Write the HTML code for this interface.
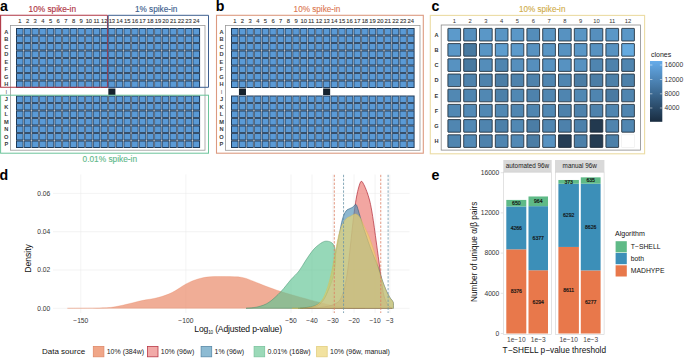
<!DOCTYPE html>
<html><head><meta charset="utf-8"><style>
html,body{margin:0;padding:0;background:#fff;}
svg{display:block;font-family:"Liberation Sans", sans-serif;}
</style></head><body>
<svg width="685" height="359" viewBox="0 0 685 359">
<rect width="685" height="359" fill="#fff"/>
<text x="-0.10" y="10.90" font-size="14.2" fill="#000" text-anchor="start" font-weight="bold" >a</text>
<text x="215.80" y="10.90" font-size="14.2" fill="#000" text-anchor="start" font-weight="bold" >b</text>
<text x="431.60" y="10.80" font-size="14.2" fill="#000" text-anchor="start" font-weight="bold" >c</text>
<text x="-0.50" y="179.50" font-size="14.2" fill="#000" text-anchor="start" font-weight="bold" >d</text>
<text x="431.60" y="179.70" font-size="14.2" fill="#000" text-anchor="start" font-weight="bold" >e</text>
<rect x="10.40" y="25.40" width="194.60" height="124.80" fill="#fff" stroke="#9a9a9a" stroke-width="0.8" />
<text x="19.84" y="22.80" font-size="5.8" fill="#333" text-anchor="middle" font-weight="normal" stroke="#333" stroke-width="0.1">1</text>
<text x="27.51" y="22.80" font-size="5.8" fill="#333" text-anchor="middle" font-weight="normal" stroke="#333" stroke-width="0.1">2</text>
<text x="35.17" y="22.80" font-size="5.8" fill="#333" text-anchor="middle" font-weight="normal" stroke="#333" stroke-width="0.1">3</text>
<text x="42.84" y="22.80" font-size="5.8" fill="#333" text-anchor="middle" font-weight="normal" stroke="#333" stroke-width="0.1">4</text>
<text x="50.52" y="22.80" font-size="5.8" fill="#333" text-anchor="middle" font-weight="normal" stroke="#333" stroke-width="0.1">5</text>
<text x="58.19" y="22.80" font-size="5.8" fill="#333" text-anchor="middle" font-weight="normal" stroke="#333" stroke-width="0.1">6</text>
<text x="65.85" y="22.80" font-size="5.8" fill="#333" text-anchor="middle" font-weight="normal" stroke="#333" stroke-width="0.1">7</text>
<text x="73.52" y="22.80" font-size="5.8" fill="#333" text-anchor="middle" font-weight="normal" stroke="#333" stroke-width="0.1">8</text>
<text x="81.19" y="22.80" font-size="5.8" fill="#333" text-anchor="middle" font-weight="normal" stroke="#333" stroke-width="0.1">9</text>
<text x="88.86" y="22.80" font-size="5.8" fill="#333" text-anchor="middle" font-weight="normal" stroke="#333" stroke-width="0.1">10</text>
<text x="96.53" y="22.80" font-size="5.8" fill="#333" text-anchor="middle" font-weight="normal" stroke="#333" stroke-width="0.1">11</text>
<text x="104.20" y="22.80" font-size="5.8" fill="#333" text-anchor="middle" font-weight="normal" stroke="#333" stroke-width="0.1">12</text>
<text x="111.87" y="22.80" font-size="5.8" fill="#333" text-anchor="middle" font-weight="normal" stroke="#333" stroke-width="0.1">13</text>
<text x="119.54" y="22.80" font-size="5.8" fill="#333" text-anchor="middle" font-weight="normal" stroke="#333" stroke-width="0.1">14</text>
<text x="127.21" y="22.80" font-size="5.8" fill="#333" text-anchor="middle" font-weight="normal" stroke="#333" stroke-width="0.1">15</text>
<text x="134.89" y="22.80" font-size="5.8" fill="#333" text-anchor="middle" font-weight="normal" stroke="#333" stroke-width="0.1">16</text>
<text x="142.56" y="22.80" font-size="5.8" fill="#333" text-anchor="middle" font-weight="normal" stroke="#333" stroke-width="0.1">17</text>
<text x="150.22" y="22.80" font-size="5.8" fill="#333" text-anchor="middle" font-weight="normal" stroke="#333" stroke-width="0.1">18</text>
<text x="157.90" y="22.80" font-size="5.8" fill="#333" text-anchor="middle" font-weight="normal" stroke="#333" stroke-width="0.1">19</text>
<text x="165.56" y="22.80" font-size="5.8" fill="#333" text-anchor="middle" font-weight="normal" stroke="#333" stroke-width="0.1">20</text>
<text x="173.24" y="22.80" font-size="5.8" fill="#333" text-anchor="middle" font-weight="normal" stroke="#333" stroke-width="0.1">21</text>
<text x="180.91" y="22.80" font-size="5.8" fill="#333" text-anchor="middle" font-weight="normal" stroke="#333" stroke-width="0.1">22</text>
<text x="188.58" y="22.80" font-size="5.8" fill="#333" text-anchor="middle" font-weight="normal" stroke="#333" stroke-width="0.1">23</text>
<text x="196.25" y="22.80" font-size="5.8" fill="#333" text-anchor="middle" font-weight="normal" stroke="#333" stroke-width="0.1">24</text>
<text x="6.30" y="33.75" font-size="5.7" fill="#3a3a3a" text-anchor="middle" font-weight="bold" >A</text>
<text x="6.30" y="41.25" font-size="5.7" fill="#3a3a3a" text-anchor="middle" font-weight="bold" >B</text>
<text x="6.30" y="48.75" font-size="5.7" fill="#3a3a3a" text-anchor="middle" font-weight="bold" >C</text>
<text x="6.30" y="56.25" font-size="5.7" fill="#3a3a3a" text-anchor="middle" font-weight="bold" >D</text>
<text x="6.30" y="63.75" font-size="5.7" fill="#3a3a3a" text-anchor="middle" font-weight="bold" >E</text>
<text x="6.30" y="71.25" font-size="5.7" fill="#3a3a3a" text-anchor="middle" font-weight="bold" >F</text>
<text x="6.30" y="78.75" font-size="5.7" fill="#3a3a3a" text-anchor="middle" font-weight="bold" >G</text>
<text x="6.30" y="86.25" font-size="5.7" fill="#3a3a3a" text-anchor="middle" font-weight="bold" >H</text>
<text x="6.30" y="93.75" font-size="5.7" fill="#555555" text-anchor="middle" font-weight="normal" >I</text>
<text x="6.30" y="101.25" font-size="5.7" fill="#3a3a3a" text-anchor="middle" font-weight="bold" >J</text>
<text x="6.30" y="108.75" font-size="5.7" fill="#3a3a3a" text-anchor="middle" font-weight="bold" >K</text>
<text x="6.30" y="116.25" font-size="5.7" fill="#3a3a3a" text-anchor="middle" font-weight="bold" >L</text>
<text x="6.30" y="123.75" font-size="5.7" fill="#3a3a3a" text-anchor="middle" font-weight="bold" >M</text>
<text x="6.30" y="131.25" font-size="5.7" fill="#3a3a3a" text-anchor="middle" font-weight="bold" >N</text>
<text x="6.30" y="138.75" font-size="5.7" fill="#3a3a3a" text-anchor="middle" font-weight="bold" >O</text>
<text x="6.30" y="146.25" font-size="5.7" fill="#3a3a3a" text-anchor="middle" font-weight="bold" >P</text>
<rect x="16.00" y="28.00" width="184.08" height="60.00" fill="#203b58" stroke="none" stroke-width="1" />
<line x1="23.67" y1="28.00" x2="23.67" y2="88.00" stroke="#d0d7de" stroke-width="0.65" />
<line x1="31.34" y1="28.00" x2="31.34" y2="88.00" stroke="#d0d7de" stroke-width="0.65" />
<line x1="39.01" y1="28.00" x2="39.01" y2="88.00" stroke="#d0d7de" stroke-width="0.65" />
<line x1="46.68" y1="28.00" x2="46.68" y2="88.00" stroke="#d0d7de" stroke-width="0.65" />
<line x1="54.35" y1="28.00" x2="54.35" y2="88.00" stroke="#d0d7de" stroke-width="0.65" />
<line x1="62.02" y1="28.00" x2="62.02" y2="88.00" stroke="#d0d7de" stroke-width="0.65" />
<line x1="69.69" y1="28.00" x2="69.69" y2="88.00" stroke="#d0d7de" stroke-width="0.65" />
<line x1="77.36" y1="28.00" x2="77.36" y2="88.00" stroke="#d0d7de" stroke-width="0.65" />
<line x1="85.03" y1="28.00" x2="85.03" y2="88.00" stroke="#d0d7de" stroke-width="0.65" />
<line x1="92.70" y1="28.00" x2="92.70" y2="88.00" stroke="#d0d7de" stroke-width="0.65" />
<line x1="100.37" y1="28.00" x2="100.37" y2="88.00" stroke="#d0d7de" stroke-width="0.65" />
<line x1="108.04" y1="28.00" x2="108.04" y2="88.00" stroke="#d0d7de" stroke-width="0.65" />
<line x1="115.71" y1="28.00" x2="115.71" y2="88.00" stroke="#d0d7de" stroke-width="0.65" />
<line x1="123.38" y1="28.00" x2="123.38" y2="88.00" stroke="#d0d7de" stroke-width="0.65" />
<line x1="131.05" y1="28.00" x2="131.05" y2="88.00" stroke="#d0d7de" stroke-width="0.65" />
<line x1="138.72" y1="28.00" x2="138.72" y2="88.00" stroke="#d0d7de" stroke-width="0.65" />
<line x1="146.39" y1="28.00" x2="146.39" y2="88.00" stroke="#d0d7de" stroke-width="0.65" />
<line x1="154.06" y1="28.00" x2="154.06" y2="88.00" stroke="#d0d7de" stroke-width="0.65" />
<line x1="161.73" y1="28.00" x2="161.73" y2="88.00" stroke="#d0d7de" stroke-width="0.65" />
<line x1="169.40" y1="28.00" x2="169.40" y2="88.00" stroke="#d0d7de" stroke-width="0.65" />
<line x1="177.07" y1="28.00" x2="177.07" y2="88.00" stroke="#d0d7de" stroke-width="0.65" />
<line x1="184.74" y1="28.00" x2="184.74" y2="88.00" stroke="#d0d7de" stroke-width="0.65" />
<line x1="192.41" y1="28.00" x2="192.41" y2="88.00" stroke="#d0d7de" stroke-width="0.65" />
<line x1="16.00" y1="35.50" x2="200.08" y2="35.50" stroke="#8d9aaa" stroke-width="0.45" />
<line x1="16.00" y1="43.00" x2="200.08" y2="43.00" stroke="#8d9aaa" stroke-width="0.45" />
<line x1="16.00" y1="50.50" x2="200.08" y2="50.50" stroke="#8d9aaa" stroke-width="0.45" />
<line x1="16.00" y1="58.00" x2="200.08" y2="58.00" stroke="#8d9aaa" stroke-width="0.45" />
<line x1="16.00" y1="65.50" x2="200.08" y2="65.50" stroke="#8d9aaa" stroke-width="0.45" />
<line x1="16.00" y1="73.00" x2="200.08" y2="73.00" stroke="#8d9aaa" stroke-width="0.45" />
<line x1="16.00" y1="80.50" x2="200.08" y2="80.50" stroke="#8d9aaa" stroke-width="0.45" />
<rect x="17.00" y="29.00" width="5.67" height="5.50" fill="#5a9ad6" stroke="none" stroke-width="1" />
<rect x="24.67" y="29.00" width="5.67" height="5.50" fill="#5a9ad6" stroke="none" stroke-width="1" />
<rect x="32.34" y="29.00" width="5.67" height="5.50" fill="#5a9ad6" stroke="none" stroke-width="1" />
<rect x="40.01" y="29.00" width="5.67" height="5.50" fill="#5a9ad6" stroke="none" stroke-width="1" />
<rect x="47.68" y="29.00" width="5.67" height="5.50" fill="#5a9ad6" stroke="none" stroke-width="1" />
<rect x="55.35" y="29.00" width="5.67" height="5.50" fill="#5a9ad6" stroke="none" stroke-width="1" />
<rect x="63.02" y="29.00" width="5.67" height="5.50" fill="#5a9ad6" stroke="none" stroke-width="1" />
<rect x="70.69" y="29.00" width="5.67" height="5.50" fill="#5a9ad6" stroke="none" stroke-width="1" />
<rect x="78.36" y="29.00" width="5.67" height="5.50" fill="#5a9ad6" stroke="none" stroke-width="1" />
<rect x="86.03" y="29.00" width="5.67" height="5.50" fill="#5a9ad6" stroke="none" stroke-width="1" />
<rect x="93.70" y="29.00" width="5.67" height="5.50" fill="#5a9ad6" stroke="none" stroke-width="1" />
<rect x="101.37" y="29.00" width="5.67" height="5.50" fill="#5a9ad6" stroke="none" stroke-width="1" />
<rect x="109.04" y="29.00" width="5.67" height="5.50" fill="#5a9ad6" stroke="none" stroke-width="1" />
<rect x="116.71" y="29.00" width="5.67" height="5.50" fill="#5a9ad6" stroke="none" stroke-width="1" />
<rect x="124.38" y="29.00" width="5.67" height="5.50" fill="#5a9ad6" stroke="none" stroke-width="1" />
<rect x="132.05" y="29.00" width="5.67" height="5.50" fill="#5a9ad6" stroke="none" stroke-width="1" />
<rect x="139.72" y="29.00" width="5.67" height="5.50" fill="#5a9ad6" stroke="none" stroke-width="1" />
<rect x="147.39" y="29.00" width="5.67" height="5.50" fill="#5a9ad6" stroke="none" stroke-width="1" />
<rect x="155.06" y="29.00" width="5.67" height="5.50" fill="#5a9ad6" stroke="none" stroke-width="1" />
<rect x="162.73" y="29.00" width="5.67" height="5.50" fill="#5a9ad6" stroke="none" stroke-width="1" />
<rect x="170.40" y="29.00" width="5.67" height="5.50" fill="#5a9ad6" stroke="none" stroke-width="1" />
<rect x="178.07" y="29.00" width="5.67" height="5.50" fill="#5a9ad6" stroke="none" stroke-width="1" />
<rect x="185.74" y="29.00" width="5.67" height="5.50" fill="#5a9ad6" stroke="none" stroke-width="1" />
<rect x="193.41" y="29.00" width="5.67" height="5.50" fill="#5a9ad6" stroke="none" stroke-width="1" />
<rect x="17.00" y="36.50" width="5.67" height="5.50" fill="#5a9ad6" stroke="none" stroke-width="1" />
<rect x="24.67" y="36.50" width="5.67" height="5.50" fill="#5a9ad6" stroke="none" stroke-width="1" />
<rect x="32.34" y="36.50" width="5.67" height="5.50" fill="#5a9ad6" stroke="none" stroke-width="1" />
<rect x="40.01" y="36.50" width="5.67" height="5.50" fill="#5a9ad6" stroke="none" stroke-width="1" />
<rect x="47.68" y="36.50" width="5.67" height="5.50" fill="#5a9ad6" stroke="none" stroke-width="1" />
<rect x="55.35" y="36.50" width="5.67" height="5.50" fill="#5a9ad6" stroke="none" stroke-width="1" />
<rect x="63.02" y="36.50" width="5.67" height="5.50" fill="#5a9ad6" stroke="none" stroke-width="1" />
<rect x="70.69" y="36.50" width="5.67" height="5.50" fill="#5a9ad6" stroke="none" stroke-width="1" />
<rect x="78.36" y="36.50" width="5.67" height="5.50" fill="#5a9ad6" stroke="none" stroke-width="1" />
<rect x="86.03" y="36.50" width="5.67" height="5.50" fill="#5a9ad6" stroke="none" stroke-width="1" />
<rect x="93.70" y="36.50" width="5.67" height="5.50" fill="#5a9ad6" stroke="none" stroke-width="1" />
<rect x="101.37" y="36.50" width="5.67" height="5.50" fill="#5a9ad6" stroke="none" stroke-width="1" />
<rect x="109.04" y="36.50" width="5.67" height="5.50" fill="#5a9ad6" stroke="none" stroke-width="1" />
<rect x="116.71" y="36.50" width="5.67" height="5.50" fill="#5a9ad6" stroke="none" stroke-width="1" />
<rect x="124.38" y="36.50" width="5.67" height="5.50" fill="#5a9ad6" stroke="none" stroke-width="1" />
<rect x="132.05" y="36.50" width="5.67" height="5.50" fill="#5a9ad6" stroke="none" stroke-width="1" />
<rect x="139.72" y="36.50" width="5.67" height="5.50" fill="#5a9ad6" stroke="none" stroke-width="1" />
<rect x="147.39" y="36.50" width="5.67" height="5.50" fill="#5a9ad6" stroke="none" stroke-width="1" />
<rect x="155.06" y="36.50" width="5.67" height="5.50" fill="#5a9ad6" stroke="none" stroke-width="1" />
<rect x="162.73" y="36.50" width="5.67" height="5.50" fill="#5a9ad6" stroke="none" stroke-width="1" />
<rect x="170.40" y="36.50" width="5.67" height="5.50" fill="#5a9ad6" stroke="none" stroke-width="1" />
<rect x="178.07" y="36.50" width="5.67" height="5.50" fill="#5a9ad6" stroke="none" stroke-width="1" />
<rect x="185.74" y="36.50" width="5.67" height="5.50" fill="#5a9ad6" stroke="none" stroke-width="1" />
<rect x="193.41" y="36.50" width="5.67" height="5.50" fill="#5a9ad6" stroke="none" stroke-width="1" />
<rect x="17.00" y="44.00" width="5.67" height="5.50" fill="#5a9ad6" stroke="none" stroke-width="1" />
<rect x="24.67" y="44.00" width="5.67" height="5.50" fill="#5a9ad6" stroke="none" stroke-width="1" />
<rect x="32.34" y="44.00" width="5.67" height="5.50" fill="#5a9ad6" stroke="none" stroke-width="1" />
<rect x="40.01" y="44.00" width="5.67" height="5.50" fill="#5a9ad6" stroke="none" stroke-width="1" />
<rect x="47.68" y="44.00" width="5.67" height="5.50" fill="#5a9ad6" stroke="none" stroke-width="1" />
<rect x="55.35" y="44.00" width="5.67" height="5.50" fill="#5a9ad6" stroke="none" stroke-width="1" />
<rect x="63.02" y="44.00" width="5.67" height="5.50" fill="#5a9ad6" stroke="none" stroke-width="1" />
<rect x="70.69" y="44.00" width="5.67" height="5.50" fill="#5a9ad6" stroke="none" stroke-width="1" />
<rect x="78.36" y="44.00" width="5.67" height="5.50" fill="#5a9ad6" stroke="none" stroke-width="1" />
<rect x="86.03" y="44.00" width="5.67" height="5.50" fill="#5a9ad6" stroke="none" stroke-width="1" />
<rect x="93.70" y="44.00" width="5.67" height="5.50" fill="#5a9ad6" stroke="none" stroke-width="1" />
<rect x="101.37" y="44.00" width="5.67" height="5.50" fill="#5a9ad6" stroke="none" stroke-width="1" />
<rect x="109.04" y="44.00" width="5.67" height="5.50" fill="#5a9ad6" stroke="none" stroke-width="1" />
<rect x="116.71" y="44.00" width="5.67" height="5.50" fill="#5a9ad6" stroke="none" stroke-width="1" />
<rect x="124.38" y="44.00" width="5.67" height="5.50" fill="#5a9ad6" stroke="none" stroke-width="1" />
<rect x="132.05" y="44.00" width="5.67" height="5.50" fill="#5a9ad6" stroke="none" stroke-width="1" />
<rect x="139.72" y="44.00" width="5.67" height="5.50" fill="#5a9ad6" stroke="none" stroke-width="1" />
<rect x="147.39" y="44.00" width="5.67" height="5.50" fill="#5a9ad6" stroke="none" stroke-width="1" />
<rect x="155.06" y="44.00" width="5.67" height="5.50" fill="#5a9ad6" stroke="none" stroke-width="1" />
<rect x="162.73" y="44.00" width="5.67" height="5.50" fill="#5a9ad6" stroke="none" stroke-width="1" />
<rect x="170.40" y="44.00" width="5.67" height="5.50" fill="#5a9ad6" stroke="none" stroke-width="1" />
<rect x="178.07" y="44.00" width="5.67" height="5.50" fill="#5a9ad6" stroke="none" stroke-width="1" />
<rect x="185.74" y="44.00" width="5.67" height="5.50" fill="#5a9ad6" stroke="none" stroke-width="1" />
<rect x="193.41" y="44.00" width="5.67" height="5.50" fill="#5a9ad6" stroke="none" stroke-width="1" />
<rect x="17.00" y="51.50" width="5.67" height="5.50" fill="#5a9ad6" stroke="none" stroke-width="1" />
<rect x="24.67" y="51.50" width="5.67" height="5.50" fill="#5a9ad6" stroke="none" stroke-width="1" />
<rect x="32.34" y="51.50" width="5.67" height="5.50" fill="#5a9ad6" stroke="none" stroke-width="1" />
<rect x="40.01" y="51.50" width="5.67" height="5.50" fill="#5a9ad6" stroke="none" stroke-width="1" />
<rect x="47.68" y="51.50" width="5.67" height="5.50" fill="#5a9ad6" stroke="none" stroke-width="1" />
<rect x="55.35" y="51.50" width="5.67" height="5.50" fill="#5a9ad6" stroke="none" stroke-width="1" />
<rect x="63.02" y="51.50" width="5.67" height="5.50" fill="#5a9ad6" stroke="none" stroke-width="1" />
<rect x="70.69" y="51.50" width="5.67" height="5.50" fill="#5a9ad6" stroke="none" stroke-width="1" />
<rect x="78.36" y="51.50" width="5.67" height="5.50" fill="#5a9ad6" stroke="none" stroke-width="1" />
<rect x="86.03" y="51.50" width="5.67" height="5.50" fill="#5a9ad6" stroke="none" stroke-width="1" />
<rect x="93.70" y="51.50" width="5.67" height="5.50" fill="#5a9ad6" stroke="none" stroke-width="1" />
<rect x="101.37" y="51.50" width="5.67" height="5.50" fill="#5a9ad6" stroke="none" stroke-width="1" />
<rect x="109.04" y="51.50" width="5.67" height="5.50" fill="#5a9ad6" stroke="none" stroke-width="1" />
<rect x="116.71" y="51.50" width="5.67" height="5.50" fill="#5a9ad6" stroke="none" stroke-width="1" />
<rect x="124.38" y="51.50" width="5.67" height="5.50" fill="#5a9ad6" stroke="none" stroke-width="1" />
<rect x="132.05" y="51.50" width="5.67" height="5.50" fill="#5a9ad6" stroke="none" stroke-width="1" />
<rect x="139.72" y="51.50" width="5.67" height="5.50" fill="#5a9ad6" stroke="none" stroke-width="1" />
<rect x="147.39" y="51.50" width="5.67" height="5.50" fill="#5a9ad6" stroke="none" stroke-width="1" />
<rect x="155.06" y="51.50" width="5.67" height="5.50" fill="#5a9ad6" stroke="none" stroke-width="1" />
<rect x="162.73" y="51.50" width="5.67" height="5.50" fill="#5a9ad6" stroke="none" stroke-width="1" />
<rect x="170.40" y="51.50" width="5.67" height="5.50" fill="#5a9ad6" stroke="none" stroke-width="1" />
<rect x="178.07" y="51.50" width="5.67" height="5.50" fill="#5a9ad6" stroke="none" stroke-width="1" />
<rect x="185.74" y="51.50" width="5.67" height="5.50" fill="#5a9ad6" stroke="none" stroke-width="1" />
<rect x="193.41" y="51.50" width="5.67" height="5.50" fill="#5a9ad6" stroke="none" stroke-width="1" />
<rect x="17.00" y="59.00" width="5.67" height="5.50" fill="#5a9ad6" stroke="none" stroke-width="1" />
<rect x="24.67" y="59.00" width="5.67" height="5.50" fill="#5a9ad6" stroke="none" stroke-width="1" />
<rect x="32.34" y="59.00" width="5.67" height="5.50" fill="#5a9ad6" stroke="none" stroke-width="1" />
<rect x="40.01" y="59.00" width="5.67" height="5.50" fill="#5a9ad6" stroke="none" stroke-width="1" />
<rect x="47.68" y="59.00" width="5.67" height="5.50" fill="#5a9ad6" stroke="none" stroke-width="1" />
<rect x="55.35" y="59.00" width="5.67" height="5.50" fill="#5a9ad6" stroke="none" stroke-width="1" />
<rect x="63.02" y="59.00" width="5.67" height="5.50" fill="#5a9ad6" stroke="none" stroke-width="1" />
<rect x="70.69" y="59.00" width="5.67" height="5.50" fill="#5a9ad6" stroke="none" stroke-width="1" />
<rect x="78.36" y="59.00" width="5.67" height="5.50" fill="#5a9ad6" stroke="none" stroke-width="1" />
<rect x="86.03" y="59.00" width="5.67" height="5.50" fill="#5a9ad6" stroke="none" stroke-width="1" />
<rect x="93.70" y="59.00" width="5.67" height="5.50" fill="#5a9ad6" stroke="none" stroke-width="1" />
<rect x="101.37" y="59.00" width="5.67" height="5.50" fill="#5a9ad6" stroke="none" stroke-width="1" />
<rect x="109.04" y="59.00" width="5.67" height="5.50" fill="#5a9ad6" stroke="none" stroke-width="1" />
<rect x="116.71" y="59.00" width="5.67" height="5.50" fill="#5a9ad6" stroke="none" stroke-width="1" />
<rect x="124.38" y="59.00" width="5.67" height="5.50" fill="#5a9ad6" stroke="none" stroke-width="1" />
<rect x="132.05" y="59.00" width="5.67" height="5.50" fill="#5a9ad6" stroke="none" stroke-width="1" />
<rect x="139.72" y="59.00" width="5.67" height="5.50" fill="#5a9ad6" stroke="none" stroke-width="1" />
<rect x="147.39" y="59.00" width="5.67" height="5.50" fill="#5a9ad6" stroke="none" stroke-width="1" />
<rect x="155.06" y="59.00" width="5.67" height="5.50" fill="#5a9ad6" stroke="none" stroke-width="1" />
<rect x="162.73" y="59.00" width="5.67" height="5.50" fill="#5a9ad6" stroke="none" stroke-width="1" />
<rect x="170.40" y="59.00" width="5.67" height="5.50" fill="#5a9ad6" stroke="none" stroke-width="1" />
<rect x="178.07" y="59.00" width="5.67" height="5.50" fill="#5a9ad6" stroke="none" stroke-width="1" />
<rect x="185.74" y="59.00" width="5.67" height="5.50" fill="#5a9ad6" stroke="none" stroke-width="1" />
<rect x="193.41" y="59.00" width="5.67" height="5.50" fill="#5a9ad6" stroke="none" stroke-width="1" />
<rect x="17.00" y="66.50" width="5.67" height="5.50" fill="#5a9ad6" stroke="none" stroke-width="1" />
<rect x="24.67" y="66.50" width="5.67" height="5.50" fill="#5a9ad6" stroke="none" stroke-width="1" />
<rect x="32.34" y="66.50" width="5.67" height="5.50" fill="#5a9ad6" stroke="none" stroke-width="1" />
<rect x="40.01" y="66.50" width="5.67" height="5.50" fill="#5a9ad6" stroke="none" stroke-width="1" />
<rect x="47.68" y="66.50" width="5.67" height="5.50" fill="#5a9ad6" stroke="none" stroke-width="1" />
<rect x="55.35" y="66.50" width="5.67" height="5.50" fill="#5a9ad6" stroke="none" stroke-width="1" />
<rect x="63.02" y="66.50" width="5.67" height="5.50" fill="#5a9ad6" stroke="none" stroke-width="1" />
<rect x="70.69" y="66.50" width="5.67" height="5.50" fill="#5a9ad6" stroke="none" stroke-width="1" />
<rect x="78.36" y="66.50" width="5.67" height="5.50" fill="#5a9ad6" stroke="none" stroke-width="1" />
<rect x="86.03" y="66.50" width="5.67" height="5.50" fill="#5a9ad6" stroke="none" stroke-width="1" />
<rect x="93.70" y="66.50" width="5.67" height="5.50" fill="#5a9ad6" stroke="none" stroke-width="1" />
<rect x="101.37" y="66.50" width="5.67" height="5.50" fill="#5a9ad6" stroke="none" stroke-width="1" />
<rect x="109.04" y="66.50" width="5.67" height="5.50" fill="#5a9ad6" stroke="none" stroke-width="1" />
<rect x="116.71" y="66.50" width="5.67" height="5.50" fill="#5a9ad6" stroke="none" stroke-width="1" />
<rect x="124.38" y="66.50" width="5.67" height="5.50" fill="#5a9ad6" stroke="none" stroke-width="1" />
<rect x="132.05" y="66.50" width="5.67" height="5.50" fill="#5a9ad6" stroke="none" stroke-width="1" />
<rect x="139.72" y="66.50" width="5.67" height="5.50" fill="#5a9ad6" stroke="none" stroke-width="1" />
<rect x="147.39" y="66.50" width="5.67" height="5.50" fill="#5a9ad6" stroke="none" stroke-width="1" />
<rect x="155.06" y="66.50" width="5.67" height="5.50" fill="#5a9ad6" stroke="none" stroke-width="1" />
<rect x="162.73" y="66.50" width="5.67" height="5.50" fill="#5a9ad6" stroke="none" stroke-width="1" />
<rect x="170.40" y="66.50" width="5.67" height="5.50" fill="#5a9ad6" stroke="none" stroke-width="1" />
<rect x="178.07" y="66.50" width="5.67" height="5.50" fill="#5a9ad6" stroke="none" stroke-width="1" />
<rect x="185.74" y="66.50" width="5.67" height="5.50" fill="#5a9ad6" stroke="none" stroke-width="1" />
<rect x="193.41" y="66.50" width="5.67" height="5.50" fill="#5a9ad6" stroke="none" stroke-width="1" />
<rect x="17.00" y="74.00" width="5.67" height="5.50" fill="#5a9ad6" stroke="none" stroke-width="1" />
<rect x="24.67" y="74.00" width="5.67" height="5.50" fill="#5a9ad6" stroke="none" stroke-width="1" />
<rect x="32.34" y="74.00" width="5.67" height="5.50" fill="#5a9ad6" stroke="none" stroke-width="1" />
<rect x="40.01" y="74.00" width="5.67" height="5.50" fill="#5a9ad6" stroke="none" stroke-width="1" />
<rect x="47.68" y="74.00" width="5.67" height="5.50" fill="#5a9ad6" stroke="none" stroke-width="1" />
<rect x="55.35" y="74.00" width="5.67" height="5.50" fill="#5a9ad6" stroke="none" stroke-width="1" />
<rect x="63.02" y="74.00" width="5.67" height="5.50" fill="#5a9ad6" stroke="none" stroke-width="1" />
<rect x="70.69" y="74.00" width="5.67" height="5.50" fill="#5a9ad6" stroke="none" stroke-width="1" />
<rect x="78.36" y="74.00" width="5.67" height="5.50" fill="#5a9ad6" stroke="none" stroke-width="1" />
<rect x="86.03" y="74.00" width="5.67" height="5.50" fill="#5a9ad6" stroke="none" stroke-width="1" />
<rect x="93.70" y="74.00" width="5.67" height="5.50" fill="#5a9ad6" stroke="none" stroke-width="1" />
<rect x="101.37" y="74.00" width="5.67" height="5.50" fill="#5a9ad6" stroke="none" stroke-width="1" />
<rect x="109.04" y="74.00" width="5.67" height="5.50" fill="#5a9ad6" stroke="none" stroke-width="1" />
<rect x="116.71" y="74.00" width="5.67" height="5.50" fill="#5a9ad6" stroke="none" stroke-width="1" />
<rect x="124.38" y="74.00" width="5.67" height="5.50" fill="#5a9ad6" stroke="none" stroke-width="1" />
<rect x="132.05" y="74.00" width="5.67" height="5.50" fill="#5a9ad6" stroke="none" stroke-width="1" />
<rect x="139.72" y="74.00" width="5.67" height="5.50" fill="#5a9ad6" stroke="none" stroke-width="1" />
<rect x="147.39" y="74.00" width="5.67" height="5.50" fill="#5a9ad6" stroke="none" stroke-width="1" />
<rect x="155.06" y="74.00" width="5.67" height="5.50" fill="#5a9ad6" stroke="none" stroke-width="1" />
<rect x="162.73" y="74.00" width="5.67" height="5.50" fill="#5a9ad6" stroke="none" stroke-width="1" />
<rect x="170.40" y="74.00" width="5.67" height="5.50" fill="#5a9ad6" stroke="none" stroke-width="1" />
<rect x="178.07" y="74.00" width="5.67" height="5.50" fill="#5a9ad6" stroke="none" stroke-width="1" />
<rect x="185.74" y="74.00" width="5.67" height="5.50" fill="#5a9ad6" stroke="none" stroke-width="1" />
<rect x="193.41" y="74.00" width="5.67" height="5.50" fill="#5a9ad6" stroke="none" stroke-width="1" />
<rect x="17.00" y="81.50" width="5.67" height="5.50" fill="#5a9ad6" stroke="none" stroke-width="1" />
<rect x="24.67" y="81.50" width="5.67" height="5.50" fill="#5a9ad6" stroke="none" stroke-width="1" />
<rect x="32.34" y="81.50" width="5.67" height="5.50" fill="#5a9ad6" stroke="none" stroke-width="1" />
<rect x="40.01" y="81.50" width="5.67" height="5.50" fill="#5a9ad6" stroke="none" stroke-width="1" />
<rect x="47.68" y="81.50" width="5.67" height="5.50" fill="#5a9ad6" stroke="none" stroke-width="1" />
<rect x="55.35" y="81.50" width="5.67" height="5.50" fill="#5a9ad6" stroke="none" stroke-width="1" />
<rect x="63.02" y="81.50" width="5.67" height="5.50" fill="#5a9ad6" stroke="none" stroke-width="1" />
<rect x="70.69" y="81.50" width="5.67" height="5.50" fill="#5a9ad6" stroke="none" stroke-width="1" />
<rect x="78.36" y="81.50" width="5.67" height="5.50" fill="#5a9ad6" stroke="none" stroke-width="1" />
<rect x="86.03" y="81.50" width="5.67" height="5.50" fill="#5a9ad6" stroke="none" stroke-width="1" />
<rect x="93.70" y="81.50" width="5.67" height="5.50" fill="#5a9ad6" stroke="none" stroke-width="1" />
<rect x="101.37" y="81.50" width="5.67" height="5.50" fill="#5a9ad6" stroke="none" stroke-width="1" />
<rect x="109.04" y="81.50" width="5.67" height="5.50" fill="#5a9ad6" stroke="none" stroke-width="1" />
<rect x="116.71" y="81.50" width="5.67" height="5.50" fill="#5a9ad6" stroke="none" stroke-width="1" />
<rect x="124.38" y="81.50" width="5.67" height="5.50" fill="#5a9ad6" stroke="none" stroke-width="1" />
<rect x="132.05" y="81.50" width="5.67" height="5.50" fill="#5a9ad6" stroke="none" stroke-width="1" />
<rect x="139.72" y="81.50" width="5.67" height="5.50" fill="#5a9ad6" stroke="none" stroke-width="1" />
<rect x="147.39" y="81.50" width="5.67" height="5.50" fill="#5a9ad6" stroke="none" stroke-width="1" />
<rect x="155.06" y="81.50" width="5.67" height="5.50" fill="#5a9ad6" stroke="none" stroke-width="1" />
<rect x="162.73" y="81.50" width="5.67" height="5.50" fill="#5a9ad6" stroke="none" stroke-width="1" />
<rect x="170.40" y="81.50" width="5.67" height="5.50" fill="#5a9ad6" stroke="none" stroke-width="1" />
<rect x="178.07" y="81.50" width="5.67" height="5.50" fill="#5a9ad6" stroke="none" stroke-width="1" />
<rect x="185.74" y="81.50" width="5.67" height="5.50" fill="#5a9ad6" stroke="none" stroke-width="1" />
<rect x="193.41" y="81.50" width="5.67" height="5.50" fill="#5a9ad6" stroke="none" stroke-width="1" />
<circle cx="23.67" cy="35.50" r="0.45" fill="#f4f4f4"/>
<circle cx="31.34" cy="35.50" r="0.45" fill="#f4f4f4"/>
<circle cx="39.01" cy="35.50" r="0.45" fill="#f4f4f4"/>
<circle cx="46.68" cy="35.50" r="0.45" fill="#f4f4f4"/>
<circle cx="54.35" cy="35.50" r="0.45" fill="#f4f4f4"/>
<circle cx="62.02" cy="35.50" r="0.45" fill="#f4f4f4"/>
<circle cx="69.69" cy="35.50" r="0.45" fill="#f4f4f4"/>
<circle cx="77.36" cy="35.50" r="0.45" fill="#f4f4f4"/>
<circle cx="85.03" cy="35.50" r="0.45" fill="#f4f4f4"/>
<circle cx="92.70" cy="35.50" r="0.45" fill="#f4f4f4"/>
<circle cx="100.37" cy="35.50" r="0.45" fill="#f4f4f4"/>
<circle cx="108.04" cy="35.50" r="0.45" fill="#f4f4f4"/>
<circle cx="115.71" cy="35.50" r="0.45" fill="#f4f4f4"/>
<circle cx="123.38" cy="35.50" r="0.45" fill="#f4f4f4"/>
<circle cx="131.05" cy="35.50" r="0.45" fill="#f4f4f4"/>
<circle cx="138.72" cy="35.50" r="0.45" fill="#f4f4f4"/>
<circle cx="146.39" cy="35.50" r="0.45" fill="#f4f4f4"/>
<circle cx="154.06" cy="35.50" r="0.45" fill="#f4f4f4"/>
<circle cx="161.73" cy="35.50" r="0.45" fill="#f4f4f4"/>
<circle cx="169.40" cy="35.50" r="0.45" fill="#f4f4f4"/>
<circle cx="177.07" cy="35.50" r="0.45" fill="#f4f4f4"/>
<circle cx="184.74" cy="35.50" r="0.45" fill="#f4f4f4"/>
<circle cx="192.41" cy="35.50" r="0.45" fill="#f4f4f4"/>
<circle cx="23.67" cy="43.00" r="0.45" fill="#f4f4f4"/>
<circle cx="31.34" cy="43.00" r="0.45" fill="#f4f4f4"/>
<circle cx="39.01" cy="43.00" r="0.45" fill="#f4f4f4"/>
<circle cx="46.68" cy="43.00" r="0.45" fill="#f4f4f4"/>
<circle cx="54.35" cy="43.00" r="0.45" fill="#f4f4f4"/>
<circle cx="62.02" cy="43.00" r="0.45" fill="#f4f4f4"/>
<circle cx="69.69" cy="43.00" r="0.45" fill="#f4f4f4"/>
<circle cx="77.36" cy="43.00" r="0.45" fill="#f4f4f4"/>
<circle cx="85.03" cy="43.00" r="0.45" fill="#f4f4f4"/>
<circle cx="92.70" cy="43.00" r="0.45" fill="#f4f4f4"/>
<circle cx="100.37" cy="43.00" r="0.45" fill="#f4f4f4"/>
<circle cx="108.04" cy="43.00" r="0.45" fill="#f4f4f4"/>
<circle cx="115.71" cy="43.00" r="0.45" fill="#f4f4f4"/>
<circle cx="123.38" cy="43.00" r="0.45" fill="#f4f4f4"/>
<circle cx="131.05" cy="43.00" r="0.45" fill="#f4f4f4"/>
<circle cx="138.72" cy="43.00" r="0.45" fill="#f4f4f4"/>
<circle cx="146.39" cy="43.00" r="0.45" fill="#f4f4f4"/>
<circle cx="154.06" cy="43.00" r="0.45" fill="#f4f4f4"/>
<circle cx="161.73" cy="43.00" r="0.45" fill="#f4f4f4"/>
<circle cx="169.40" cy="43.00" r="0.45" fill="#f4f4f4"/>
<circle cx="177.07" cy="43.00" r="0.45" fill="#f4f4f4"/>
<circle cx="184.74" cy="43.00" r="0.45" fill="#f4f4f4"/>
<circle cx="192.41" cy="43.00" r="0.45" fill="#f4f4f4"/>
<circle cx="23.67" cy="50.50" r="0.45" fill="#f4f4f4"/>
<circle cx="31.34" cy="50.50" r="0.45" fill="#f4f4f4"/>
<circle cx="39.01" cy="50.50" r="0.45" fill="#f4f4f4"/>
<circle cx="46.68" cy="50.50" r="0.45" fill="#f4f4f4"/>
<circle cx="54.35" cy="50.50" r="0.45" fill="#f4f4f4"/>
<circle cx="62.02" cy="50.50" r="0.45" fill="#f4f4f4"/>
<circle cx="69.69" cy="50.50" r="0.45" fill="#f4f4f4"/>
<circle cx="77.36" cy="50.50" r="0.45" fill="#f4f4f4"/>
<circle cx="85.03" cy="50.50" r="0.45" fill="#f4f4f4"/>
<circle cx="92.70" cy="50.50" r="0.45" fill="#f4f4f4"/>
<circle cx="100.37" cy="50.50" r="0.45" fill="#f4f4f4"/>
<circle cx="108.04" cy="50.50" r="0.45" fill="#f4f4f4"/>
<circle cx="115.71" cy="50.50" r="0.45" fill="#f4f4f4"/>
<circle cx="123.38" cy="50.50" r="0.45" fill="#f4f4f4"/>
<circle cx="131.05" cy="50.50" r="0.45" fill="#f4f4f4"/>
<circle cx="138.72" cy="50.50" r="0.45" fill="#f4f4f4"/>
<circle cx="146.39" cy="50.50" r="0.45" fill="#f4f4f4"/>
<circle cx="154.06" cy="50.50" r="0.45" fill="#f4f4f4"/>
<circle cx="161.73" cy="50.50" r="0.45" fill="#f4f4f4"/>
<circle cx="169.40" cy="50.50" r="0.45" fill="#f4f4f4"/>
<circle cx="177.07" cy="50.50" r="0.45" fill="#f4f4f4"/>
<circle cx="184.74" cy="50.50" r="0.45" fill="#f4f4f4"/>
<circle cx="192.41" cy="50.50" r="0.45" fill="#f4f4f4"/>
<circle cx="23.67" cy="58.00" r="0.45" fill="#f4f4f4"/>
<circle cx="31.34" cy="58.00" r="0.45" fill="#f4f4f4"/>
<circle cx="39.01" cy="58.00" r="0.45" fill="#f4f4f4"/>
<circle cx="46.68" cy="58.00" r="0.45" fill="#f4f4f4"/>
<circle cx="54.35" cy="58.00" r="0.45" fill="#f4f4f4"/>
<circle cx="62.02" cy="58.00" r="0.45" fill="#f4f4f4"/>
<circle cx="69.69" cy="58.00" r="0.45" fill="#f4f4f4"/>
<circle cx="77.36" cy="58.00" r="0.45" fill="#f4f4f4"/>
<circle cx="85.03" cy="58.00" r="0.45" fill="#f4f4f4"/>
<circle cx="92.70" cy="58.00" r="0.45" fill="#f4f4f4"/>
<circle cx="100.37" cy="58.00" r="0.45" fill="#f4f4f4"/>
<circle cx="108.04" cy="58.00" r="0.45" fill="#f4f4f4"/>
<circle cx="115.71" cy="58.00" r="0.45" fill="#f4f4f4"/>
<circle cx="123.38" cy="58.00" r="0.45" fill="#f4f4f4"/>
<circle cx="131.05" cy="58.00" r="0.45" fill="#f4f4f4"/>
<circle cx="138.72" cy="58.00" r="0.45" fill="#f4f4f4"/>
<circle cx="146.39" cy="58.00" r="0.45" fill="#f4f4f4"/>
<circle cx="154.06" cy="58.00" r="0.45" fill="#f4f4f4"/>
<circle cx="161.73" cy="58.00" r="0.45" fill="#f4f4f4"/>
<circle cx="169.40" cy="58.00" r="0.45" fill="#f4f4f4"/>
<circle cx="177.07" cy="58.00" r="0.45" fill="#f4f4f4"/>
<circle cx="184.74" cy="58.00" r="0.45" fill="#f4f4f4"/>
<circle cx="192.41" cy="58.00" r="0.45" fill="#f4f4f4"/>
<circle cx="23.67" cy="65.50" r="0.45" fill="#f4f4f4"/>
<circle cx="31.34" cy="65.50" r="0.45" fill="#f4f4f4"/>
<circle cx="39.01" cy="65.50" r="0.45" fill="#f4f4f4"/>
<circle cx="46.68" cy="65.50" r="0.45" fill="#f4f4f4"/>
<circle cx="54.35" cy="65.50" r="0.45" fill="#f4f4f4"/>
<circle cx="62.02" cy="65.50" r="0.45" fill="#f4f4f4"/>
<circle cx="69.69" cy="65.50" r="0.45" fill="#f4f4f4"/>
<circle cx="77.36" cy="65.50" r="0.45" fill="#f4f4f4"/>
<circle cx="85.03" cy="65.50" r="0.45" fill="#f4f4f4"/>
<circle cx="92.70" cy="65.50" r="0.45" fill="#f4f4f4"/>
<circle cx="100.37" cy="65.50" r="0.45" fill="#f4f4f4"/>
<circle cx="108.04" cy="65.50" r="0.45" fill="#f4f4f4"/>
<circle cx="115.71" cy="65.50" r="0.45" fill="#f4f4f4"/>
<circle cx="123.38" cy="65.50" r="0.45" fill="#f4f4f4"/>
<circle cx="131.05" cy="65.50" r="0.45" fill="#f4f4f4"/>
<circle cx="138.72" cy="65.50" r="0.45" fill="#f4f4f4"/>
<circle cx="146.39" cy="65.50" r="0.45" fill="#f4f4f4"/>
<circle cx="154.06" cy="65.50" r="0.45" fill="#f4f4f4"/>
<circle cx="161.73" cy="65.50" r="0.45" fill="#f4f4f4"/>
<circle cx="169.40" cy="65.50" r="0.45" fill="#f4f4f4"/>
<circle cx="177.07" cy="65.50" r="0.45" fill="#f4f4f4"/>
<circle cx="184.74" cy="65.50" r="0.45" fill="#f4f4f4"/>
<circle cx="192.41" cy="65.50" r="0.45" fill="#f4f4f4"/>
<circle cx="23.67" cy="73.00" r="0.45" fill="#f4f4f4"/>
<circle cx="31.34" cy="73.00" r="0.45" fill="#f4f4f4"/>
<circle cx="39.01" cy="73.00" r="0.45" fill="#f4f4f4"/>
<circle cx="46.68" cy="73.00" r="0.45" fill="#f4f4f4"/>
<circle cx="54.35" cy="73.00" r="0.45" fill="#f4f4f4"/>
<circle cx="62.02" cy="73.00" r="0.45" fill="#f4f4f4"/>
<circle cx="69.69" cy="73.00" r="0.45" fill="#f4f4f4"/>
<circle cx="77.36" cy="73.00" r="0.45" fill="#f4f4f4"/>
<circle cx="85.03" cy="73.00" r="0.45" fill="#f4f4f4"/>
<circle cx="92.70" cy="73.00" r="0.45" fill="#f4f4f4"/>
<circle cx="100.37" cy="73.00" r="0.45" fill="#f4f4f4"/>
<circle cx="108.04" cy="73.00" r="0.45" fill="#f4f4f4"/>
<circle cx="115.71" cy="73.00" r="0.45" fill="#f4f4f4"/>
<circle cx="123.38" cy="73.00" r="0.45" fill="#f4f4f4"/>
<circle cx="131.05" cy="73.00" r="0.45" fill="#f4f4f4"/>
<circle cx="138.72" cy="73.00" r="0.45" fill="#f4f4f4"/>
<circle cx="146.39" cy="73.00" r="0.45" fill="#f4f4f4"/>
<circle cx="154.06" cy="73.00" r="0.45" fill="#f4f4f4"/>
<circle cx="161.73" cy="73.00" r="0.45" fill="#f4f4f4"/>
<circle cx="169.40" cy="73.00" r="0.45" fill="#f4f4f4"/>
<circle cx="177.07" cy="73.00" r="0.45" fill="#f4f4f4"/>
<circle cx="184.74" cy="73.00" r="0.45" fill="#f4f4f4"/>
<circle cx="192.41" cy="73.00" r="0.45" fill="#f4f4f4"/>
<circle cx="23.67" cy="80.50" r="0.45" fill="#f4f4f4"/>
<circle cx="31.34" cy="80.50" r="0.45" fill="#f4f4f4"/>
<circle cx="39.01" cy="80.50" r="0.45" fill="#f4f4f4"/>
<circle cx="46.68" cy="80.50" r="0.45" fill="#f4f4f4"/>
<circle cx="54.35" cy="80.50" r="0.45" fill="#f4f4f4"/>
<circle cx="62.02" cy="80.50" r="0.45" fill="#f4f4f4"/>
<circle cx="69.69" cy="80.50" r="0.45" fill="#f4f4f4"/>
<circle cx="77.36" cy="80.50" r="0.45" fill="#f4f4f4"/>
<circle cx="85.03" cy="80.50" r="0.45" fill="#f4f4f4"/>
<circle cx="92.70" cy="80.50" r="0.45" fill="#f4f4f4"/>
<circle cx="100.37" cy="80.50" r="0.45" fill="#f4f4f4"/>
<circle cx="108.04" cy="80.50" r="0.45" fill="#f4f4f4"/>
<circle cx="115.71" cy="80.50" r="0.45" fill="#f4f4f4"/>
<circle cx="123.38" cy="80.50" r="0.45" fill="#f4f4f4"/>
<circle cx="131.05" cy="80.50" r="0.45" fill="#f4f4f4"/>
<circle cx="138.72" cy="80.50" r="0.45" fill="#f4f4f4"/>
<circle cx="146.39" cy="80.50" r="0.45" fill="#f4f4f4"/>
<circle cx="154.06" cy="80.50" r="0.45" fill="#f4f4f4"/>
<circle cx="161.73" cy="80.50" r="0.45" fill="#f4f4f4"/>
<circle cx="169.40" cy="80.50" r="0.45" fill="#f4f4f4"/>
<circle cx="177.07" cy="80.50" r="0.45" fill="#f4f4f4"/>
<circle cx="184.74" cy="80.50" r="0.45" fill="#f4f4f4"/>
<circle cx="192.41" cy="80.50" r="0.45" fill="#f4f4f4"/>
<rect x="16.00" y="95.50" width="184.08" height="52.50" fill="#203b58" stroke="none" stroke-width="1" />
<line x1="23.67" y1="95.50" x2="23.67" y2="148.00" stroke="#d0d7de" stroke-width="0.65" />
<line x1="31.34" y1="95.50" x2="31.34" y2="148.00" stroke="#d0d7de" stroke-width="0.65" />
<line x1="39.01" y1="95.50" x2="39.01" y2="148.00" stroke="#d0d7de" stroke-width="0.65" />
<line x1="46.68" y1="95.50" x2="46.68" y2="148.00" stroke="#d0d7de" stroke-width="0.65" />
<line x1="54.35" y1="95.50" x2="54.35" y2="148.00" stroke="#d0d7de" stroke-width="0.65" />
<line x1="62.02" y1="95.50" x2="62.02" y2="148.00" stroke="#d0d7de" stroke-width="0.65" />
<line x1="69.69" y1="95.50" x2="69.69" y2="148.00" stroke="#d0d7de" stroke-width="0.65" />
<line x1="77.36" y1="95.50" x2="77.36" y2="148.00" stroke="#d0d7de" stroke-width="0.65" />
<line x1="85.03" y1="95.50" x2="85.03" y2="148.00" stroke="#d0d7de" stroke-width="0.65" />
<line x1="92.70" y1="95.50" x2="92.70" y2="148.00" stroke="#d0d7de" stroke-width="0.65" />
<line x1="100.37" y1="95.50" x2="100.37" y2="148.00" stroke="#d0d7de" stroke-width="0.65" />
<line x1="108.04" y1="95.50" x2="108.04" y2="148.00" stroke="#d0d7de" stroke-width="0.65" />
<line x1="115.71" y1="95.50" x2="115.71" y2="148.00" stroke="#d0d7de" stroke-width="0.65" />
<line x1="123.38" y1="95.50" x2="123.38" y2="148.00" stroke="#d0d7de" stroke-width="0.65" />
<line x1="131.05" y1="95.50" x2="131.05" y2="148.00" stroke="#d0d7de" stroke-width="0.65" />
<line x1="138.72" y1="95.50" x2="138.72" y2="148.00" stroke="#d0d7de" stroke-width="0.65" />
<line x1="146.39" y1="95.50" x2="146.39" y2="148.00" stroke="#d0d7de" stroke-width="0.65" />
<line x1="154.06" y1="95.50" x2="154.06" y2="148.00" stroke="#d0d7de" stroke-width="0.65" />
<line x1="161.73" y1="95.50" x2="161.73" y2="148.00" stroke="#d0d7de" stroke-width="0.65" />
<line x1="169.40" y1="95.50" x2="169.40" y2="148.00" stroke="#d0d7de" stroke-width="0.65" />
<line x1="177.07" y1="95.50" x2="177.07" y2="148.00" stroke="#d0d7de" stroke-width="0.65" />
<line x1="184.74" y1="95.50" x2="184.74" y2="148.00" stroke="#d0d7de" stroke-width="0.65" />
<line x1="192.41" y1="95.50" x2="192.41" y2="148.00" stroke="#d0d7de" stroke-width="0.65" />
<line x1="16.00" y1="103.00" x2="200.08" y2="103.00" stroke="#8d9aaa" stroke-width="0.45" />
<line x1="16.00" y1="110.50" x2="200.08" y2="110.50" stroke="#8d9aaa" stroke-width="0.45" />
<line x1="16.00" y1="118.00" x2="200.08" y2="118.00" stroke="#8d9aaa" stroke-width="0.45" />
<line x1="16.00" y1="125.50" x2="200.08" y2="125.50" stroke="#8d9aaa" stroke-width="0.45" />
<line x1="16.00" y1="133.00" x2="200.08" y2="133.00" stroke="#8d9aaa" stroke-width="0.45" />
<line x1="16.00" y1="140.50" x2="200.08" y2="140.50" stroke="#8d9aaa" stroke-width="0.45" />
<rect x="17.00" y="96.50" width="5.67" height="5.50" fill="#5a9ad6" stroke="none" stroke-width="1" />
<rect x="24.67" y="96.50" width="5.67" height="5.50" fill="#5a9ad6" stroke="none" stroke-width="1" />
<rect x="32.34" y="96.50" width="5.67" height="5.50" fill="#5a9ad6" stroke="none" stroke-width="1" />
<rect x="40.01" y="96.50" width="5.67" height="5.50" fill="#5a9ad6" stroke="none" stroke-width="1" />
<rect x="47.68" y="96.50" width="5.67" height="5.50" fill="#5a9ad6" stroke="none" stroke-width="1" />
<rect x="55.35" y="96.50" width="5.67" height="5.50" fill="#5a9ad6" stroke="none" stroke-width="1" />
<rect x="63.02" y="96.50" width="5.67" height="5.50" fill="#5a9ad6" stroke="none" stroke-width="1" />
<rect x="70.69" y="96.50" width="5.67" height="5.50" fill="#5a9ad6" stroke="none" stroke-width="1" />
<rect x="78.36" y="96.50" width="5.67" height="5.50" fill="#5a9ad6" stroke="none" stroke-width="1" />
<rect x="86.03" y="96.50" width="5.67" height="5.50" fill="#5a9ad6" stroke="none" stroke-width="1" />
<rect x="93.70" y="96.50" width="5.67" height="5.50" fill="#5a9ad6" stroke="none" stroke-width="1" />
<rect x="101.37" y="96.50" width="5.67" height="5.50" fill="#5a9ad6" stroke="none" stroke-width="1" />
<rect x="109.04" y="96.50" width="5.67" height="5.50" fill="#5a9ad6" stroke="none" stroke-width="1" />
<rect x="116.71" y="96.50" width="5.67" height="5.50" fill="#5a9ad6" stroke="none" stroke-width="1" />
<rect x="124.38" y="96.50" width="5.67" height="5.50" fill="#5a9ad6" stroke="none" stroke-width="1" />
<rect x="132.05" y="96.50" width="5.67" height="5.50" fill="#5a9ad6" stroke="none" stroke-width="1" />
<rect x="139.72" y="96.50" width="5.67" height="5.50" fill="#5a9ad6" stroke="none" stroke-width="1" />
<rect x="147.39" y="96.50" width="5.67" height="5.50" fill="#5a9ad6" stroke="none" stroke-width="1" />
<rect x="155.06" y="96.50" width="5.67" height="5.50" fill="#5a9ad6" stroke="none" stroke-width="1" />
<rect x="162.73" y="96.50" width="5.67" height="5.50" fill="#5a9ad6" stroke="none" stroke-width="1" />
<rect x="170.40" y="96.50" width="5.67" height="5.50" fill="#5a9ad6" stroke="none" stroke-width="1" />
<rect x="178.07" y="96.50" width="5.67" height="5.50" fill="#5a9ad6" stroke="none" stroke-width="1" />
<rect x="185.74" y="96.50" width="5.67" height="5.50" fill="#5a9ad6" stroke="none" stroke-width="1" />
<rect x="193.41" y="96.50" width="5.67" height="5.50" fill="#5a9ad6" stroke="none" stroke-width="1" />
<rect x="17.00" y="104.00" width="5.67" height="5.50" fill="#5a9ad6" stroke="none" stroke-width="1" />
<rect x="24.67" y="104.00" width="5.67" height="5.50" fill="#5a9ad6" stroke="none" stroke-width="1" />
<rect x="32.34" y="104.00" width="5.67" height="5.50" fill="#5a9ad6" stroke="none" stroke-width="1" />
<rect x="40.01" y="104.00" width="5.67" height="5.50" fill="#5a9ad6" stroke="none" stroke-width="1" />
<rect x="47.68" y="104.00" width="5.67" height="5.50" fill="#5a9ad6" stroke="none" stroke-width="1" />
<rect x="55.35" y="104.00" width="5.67" height="5.50" fill="#5a9ad6" stroke="none" stroke-width="1" />
<rect x="63.02" y="104.00" width="5.67" height="5.50" fill="#5a9ad6" stroke="none" stroke-width="1" />
<rect x="70.69" y="104.00" width="5.67" height="5.50" fill="#5a9ad6" stroke="none" stroke-width="1" />
<rect x="78.36" y="104.00" width="5.67" height="5.50" fill="#5a9ad6" stroke="none" stroke-width="1" />
<rect x="86.03" y="104.00" width="5.67" height="5.50" fill="#5a9ad6" stroke="none" stroke-width="1" />
<rect x="93.70" y="104.00" width="5.67" height="5.50" fill="#5a9ad6" stroke="none" stroke-width="1" />
<rect x="101.37" y="104.00" width="5.67" height="5.50" fill="#5a9ad6" stroke="none" stroke-width="1" />
<rect x="109.04" y="104.00" width="5.67" height="5.50" fill="#5a9ad6" stroke="none" stroke-width="1" />
<rect x="116.71" y="104.00" width="5.67" height="5.50" fill="#5a9ad6" stroke="none" stroke-width="1" />
<rect x="124.38" y="104.00" width="5.67" height="5.50" fill="#5a9ad6" stroke="none" stroke-width="1" />
<rect x="132.05" y="104.00" width="5.67" height="5.50" fill="#5a9ad6" stroke="none" stroke-width="1" />
<rect x="139.72" y="104.00" width="5.67" height="5.50" fill="#5a9ad6" stroke="none" stroke-width="1" />
<rect x="147.39" y="104.00" width="5.67" height="5.50" fill="#5a9ad6" stroke="none" stroke-width="1" />
<rect x="155.06" y="104.00" width="5.67" height="5.50" fill="#5a9ad6" stroke="none" stroke-width="1" />
<rect x="162.73" y="104.00" width="5.67" height="5.50" fill="#5a9ad6" stroke="none" stroke-width="1" />
<rect x="170.40" y="104.00" width="5.67" height="5.50" fill="#5a9ad6" stroke="none" stroke-width="1" />
<rect x="178.07" y="104.00" width="5.67" height="5.50" fill="#5a9ad6" stroke="none" stroke-width="1" />
<rect x="185.74" y="104.00" width="5.67" height="5.50" fill="#5a9ad6" stroke="none" stroke-width="1" />
<rect x="193.41" y="104.00" width="5.67" height="5.50" fill="#5a9ad6" stroke="none" stroke-width="1" />
<rect x="17.00" y="111.50" width="5.67" height="5.50" fill="#5a9ad6" stroke="none" stroke-width="1" />
<rect x="24.67" y="111.50" width="5.67" height="5.50" fill="#5a9ad6" stroke="none" stroke-width="1" />
<rect x="32.34" y="111.50" width="5.67" height="5.50" fill="#5a9ad6" stroke="none" stroke-width="1" />
<rect x="40.01" y="111.50" width="5.67" height="5.50" fill="#5a9ad6" stroke="none" stroke-width="1" />
<rect x="47.68" y="111.50" width="5.67" height="5.50" fill="#5a9ad6" stroke="none" stroke-width="1" />
<rect x="55.35" y="111.50" width="5.67" height="5.50" fill="#5a9ad6" stroke="none" stroke-width="1" />
<rect x="63.02" y="111.50" width="5.67" height="5.50" fill="#5a9ad6" stroke="none" stroke-width="1" />
<rect x="70.69" y="111.50" width="5.67" height="5.50" fill="#5a9ad6" stroke="none" stroke-width="1" />
<rect x="78.36" y="111.50" width="5.67" height="5.50" fill="#5a9ad6" stroke="none" stroke-width="1" />
<rect x="86.03" y="111.50" width="5.67" height="5.50" fill="#5a9ad6" stroke="none" stroke-width="1" />
<rect x="93.70" y="111.50" width="5.67" height="5.50" fill="#5a9ad6" stroke="none" stroke-width="1" />
<rect x="101.37" y="111.50" width="5.67" height="5.50" fill="#5a9ad6" stroke="none" stroke-width="1" />
<rect x="109.04" y="111.50" width="5.67" height="5.50" fill="#5a9ad6" stroke="none" stroke-width="1" />
<rect x="116.71" y="111.50" width="5.67" height="5.50" fill="#5a9ad6" stroke="none" stroke-width="1" />
<rect x="124.38" y="111.50" width="5.67" height="5.50" fill="#5a9ad6" stroke="none" stroke-width="1" />
<rect x="132.05" y="111.50" width="5.67" height="5.50" fill="#5a9ad6" stroke="none" stroke-width="1" />
<rect x="139.72" y="111.50" width="5.67" height="5.50" fill="#5a9ad6" stroke="none" stroke-width="1" />
<rect x="147.39" y="111.50" width="5.67" height="5.50" fill="#5a9ad6" stroke="none" stroke-width="1" />
<rect x="155.06" y="111.50" width="5.67" height="5.50" fill="#5a9ad6" stroke="none" stroke-width="1" />
<rect x="162.73" y="111.50" width="5.67" height="5.50" fill="#5a9ad6" stroke="none" stroke-width="1" />
<rect x="170.40" y="111.50" width="5.67" height="5.50" fill="#5a9ad6" stroke="none" stroke-width="1" />
<rect x="178.07" y="111.50" width="5.67" height="5.50" fill="#5a9ad6" stroke="none" stroke-width="1" />
<rect x="185.74" y="111.50" width="5.67" height="5.50" fill="#5a9ad6" stroke="none" stroke-width="1" />
<rect x="193.41" y="111.50" width="5.67" height="5.50" fill="#5a9ad6" stroke="none" stroke-width="1" />
<rect x="17.00" y="119.00" width="5.67" height="5.50" fill="#5a9ad6" stroke="none" stroke-width="1" />
<rect x="24.67" y="119.00" width="5.67" height="5.50" fill="#5a9ad6" stroke="none" stroke-width="1" />
<rect x="32.34" y="119.00" width="5.67" height="5.50" fill="#5a9ad6" stroke="none" stroke-width="1" />
<rect x="40.01" y="119.00" width="5.67" height="5.50" fill="#5a9ad6" stroke="none" stroke-width="1" />
<rect x="47.68" y="119.00" width="5.67" height="5.50" fill="#5a9ad6" stroke="none" stroke-width="1" />
<rect x="55.35" y="119.00" width="5.67" height="5.50" fill="#5a9ad6" stroke="none" stroke-width="1" />
<rect x="63.02" y="119.00" width="5.67" height="5.50" fill="#5a9ad6" stroke="none" stroke-width="1" />
<rect x="70.69" y="119.00" width="5.67" height="5.50" fill="#5a9ad6" stroke="none" stroke-width="1" />
<rect x="78.36" y="119.00" width="5.67" height="5.50" fill="#5a9ad6" stroke="none" stroke-width="1" />
<rect x="86.03" y="119.00" width="5.67" height="5.50" fill="#5a9ad6" stroke="none" stroke-width="1" />
<rect x="93.70" y="119.00" width="5.67" height="5.50" fill="#5a9ad6" stroke="none" stroke-width="1" />
<rect x="101.37" y="119.00" width="5.67" height="5.50" fill="#5a9ad6" stroke="none" stroke-width="1" />
<rect x="109.04" y="119.00" width="5.67" height="5.50" fill="#5a9ad6" stroke="none" stroke-width="1" />
<rect x="116.71" y="119.00" width="5.67" height="5.50" fill="#5a9ad6" stroke="none" stroke-width="1" />
<rect x="124.38" y="119.00" width="5.67" height="5.50" fill="#5a9ad6" stroke="none" stroke-width="1" />
<rect x="132.05" y="119.00" width="5.67" height="5.50" fill="#5a9ad6" stroke="none" stroke-width="1" />
<rect x="139.72" y="119.00" width="5.67" height="5.50" fill="#5a9ad6" stroke="none" stroke-width="1" />
<rect x="147.39" y="119.00" width="5.67" height="5.50" fill="#5a9ad6" stroke="none" stroke-width="1" />
<rect x="155.06" y="119.00" width="5.67" height="5.50" fill="#5a9ad6" stroke="none" stroke-width="1" />
<rect x="162.73" y="119.00" width="5.67" height="5.50" fill="#5a9ad6" stroke="none" stroke-width="1" />
<rect x="170.40" y="119.00" width="5.67" height="5.50" fill="#5a9ad6" stroke="none" stroke-width="1" />
<rect x="178.07" y="119.00" width="5.67" height="5.50" fill="#5a9ad6" stroke="none" stroke-width="1" />
<rect x="185.74" y="119.00" width="5.67" height="5.50" fill="#5a9ad6" stroke="none" stroke-width="1" />
<rect x="193.41" y="119.00" width="5.67" height="5.50" fill="#5a9ad6" stroke="none" stroke-width="1" />
<rect x="17.00" y="126.50" width="5.67" height="5.50" fill="#5a9ad6" stroke="none" stroke-width="1" />
<rect x="24.67" y="126.50" width="5.67" height="5.50" fill="#5a9ad6" stroke="none" stroke-width="1" />
<rect x="32.34" y="126.50" width="5.67" height="5.50" fill="#5a9ad6" stroke="none" stroke-width="1" />
<rect x="40.01" y="126.50" width="5.67" height="5.50" fill="#5a9ad6" stroke="none" stroke-width="1" />
<rect x="47.68" y="126.50" width="5.67" height="5.50" fill="#5a9ad6" stroke="none" stroke-width="1" />
<rect x="55.35" y="126.50" width="5.67" height="5.50" fill="#5a9ad6" stroke="none" stroke-width="1" />
<rect x="63.02" y="126.50" width="5.67" height="5.50" fill="#5a9ad6" stroke="none" stroke-width="1" />
<rect x="70.69" y="126.50" width="5.67" height="5.50" fill="#5a9ad6" stroke="none" stroke-width="1" />
<rect x="78.36" y="126.50" width="5.67" height="5.50" fill="#5a9ad6" stroke="none" stroke-width="1" />
<rect x="86.03" y="126.50" width="5.67" height="5.50" fill="#5a9ad6" stroke="none" stroke-width="1" />
<rect x="93.70" y="126.50" width="5.67" height="5.50" fill="#5a9ad6" stroke="none" stroke-width="1" />
<rect x="101.37" y="126.50" width="5.67" height="5.50" fill="#5a9ad6" stroke="none" stroke-width="1" />
<rect x="109.04" y="126.50" width="5.67" height="5.50" fill="#5a9ad6" stroke="none" stroke-width="1" />
<rect x="116.71" y="126.50" width="5.67" height="5.50" fill="#5a9ad6" stroke="none" stroke-width="1" />
<rect x="124.38" y="126.50" width="5.67" height="5.50" fill="#5a9ad6" stroke="none" stroke-width="1" />
<rect x="132.05" y="126.50" width="5.67" height="5.50" fill="#5a9ad6" stroke="none" stroke-width="1" />
<rect x="139.72" y="126.50" width="5.67" height="5.50" fill="#5a9ad6" stroke="none" stroke-width="1" />
<rect x="147.39" y="126.50" width="5.67" height="5.50" fill="#5a9ad6" stroke="none" stroke-width="1" />
<rect x="155.06" y="126.50" width="5.67" height="5.50" fill="#5a9ad6" stroke="none" stroke-width="1" />
<rect x="162.73" y="126.50" width="5.67" height="5.50" fill="#5a9ad6" stroke="none" stroke-width="1" />
<rect x="170.40" y="126.50" width="5.67" height="5.50" fill="#5a9ad6" stroke="none" stroke-width="1" />
<rect x="178.07" y="126.50" width="5.67" height="5.50" fill="#5a9ad6" stroke="none" stroke-width="1" />
<rect x="185.74" y="126.50" width="5.67" height="5.50" fill="#5a9ad6" stroke="none" stroke-width="1" />
<rect x="193.41" y="126.50" width="5.67" height="5.50" fill="#5a9ad6" stroke="none" stroke-width="1" />
<rect x="17.00" y="134.00" width="5.67" height="5.50" fill="#5a9ad6" stroke="none" stroke-width="1" />
<rect x="24.67" y="134.00" width="5.67" height="5.50" fill="#5a9ad6" stroke="none" stroke-width="1" />
<rect x="32.34" y="134.00" width="5.67" height="5.50" fill="#5a9ad6" stroke="none" stroke-width="1" />
<rect x="40.01" y="134.00" width="5.67" height="5.50" fill="#5a9ad6" stroke="none" stroke-width="1" />
<rect x="47.68" y="134.00" width="5.67" height="5.50" fill="#5a9ad6" stroke="none" stroke-width="1" />
<rect x="55.35" y="134.00" width="5.67" height="5.50" fill="#5a9ad6" stroke="none" stroke-width="1" />
<rect x="63.02" y="134.00" width="5.67" height="5.50" fill="#5a9ad6" stroke="none" stroke-width="1" />
<rect x="70.69" y="134.00" width="5.67" height="5.50" fill="#5a9ad6" stroke="none" stroke-width="1" />
<rect x="78.36" y="134.00" width="5.67" height="5.50" fill="#5a9ad6" stroke="none" stroke-width="1" />
<rect x="86.03" y="134.00" width="5.67" height="5.50" fill="#5a9ad6" stroke="none" stroke-width="1" />
<rect x="93.70" y="134.00" width="5.67" height="5.50" fill="#5a9ad6" stroke="none" stroke-width="1" />
<rect x="101.37" y="134.00" width="5.67" height="5.50" fill="#5a9ad6" stroke="none" stroke-width="1" />
<rect x="109.04" y="134.00" width="5.67" height="5.50" fill="#5a9ad6" stroke="none" stroke-width="1" />
<rect x="116.71" y="134.00" width="5.67" height="5.50" fill="#5a9ad6" stroke="none" stroke-width="1" />
<rect x="124.38" y="134.00" width="5.67" height="5.50" fill="#5a9ad6" stroke="none" stroke-width="1" />
<rect x="132.05" y="134.00" width="5.67" height="5.50" fill="#5a9ad6" stroke="none" stroke-width="1" />
<rect x="139.72" y="134.00" width="5.67" height="5.50" fill="#5a9ad6" stroke="none" stroke-width="1" />
<rect x="147.39" y="134.00" width="5.67" height="5.50" fill="#5a9ad6" stroke="none" stroke-width="1" />
<rect x="155.06" y="134.00" width="5.67" height="5.50" fill="#5a9ad6" stroke="none" stroke-width="1" />
<rect x="162.73" y="134.00" width="5.67" height="5.50" fill="#5a9ad6" stroke="none" stroke-width="1" />
<rect x="170.40" y="134.00" width="5.67" height="5.50" fill="#5a9ad6" stroke="none" stroke-width="1" />
<rect x="178.07" y="134.00" width="5.67" height="5.50" fill="#5a9ad6" stroke="none" stroke-width="1" />
<rect x="185.74" y="134.00" width="5.67" height="5.50" fill="#5a9ad6" stroke="none" stroke-width="1" />
<rect x="193.41" y="134.00" width="5.67" height="5.50" fill="#5a9ad6" stroke="none" stroke-width="1" />
<rect x="17.00" y="141.50" width="5.67" height="5.50" fill="#5a9ad6" stroke="none" stroke-width="1" />
<rect x="24.67" y="141.50" width="5.67" height="5.50" fill="#5a9ad6" stroke="none" stroke-width="1" />
<rect x="32.34" y="141.50" width="5.67" height="5.50" fill="#5a9ad6" stroke="none" stroke-width="1" />
<rect x="40.01" y="141.50" width="5.67" height="5.50" fill="#5a9ad6" stroke="none" stroke-width="1" />
<rect x="47.68" y="141.50" width="5.67" height="5.50" fill="#5a9ad6" stroke="none" stroke-width="1" />
<rect x="55.35" y="141.50" width="5.67" height="5.50" fill="#5a9ad6" stroke="none" stroke-width="1" />
<rect x="63.02" y="141.50" width="5.67" height="5.50" fill="#5a9ad6" stroke="none" stroke-width="1" />
<rect x="70.69" y="141.50" width="5.67" height="5.50" fill="#5a9ad6" stroke="none" stroke-width="1" />
<rect x="78.36" y="141.50" width="5.67" height="5.50" fill="#5a9ad6" stroke="none" stroke-width="1" />
<rect x="86.03" y="141.50" width="5.67" height="5.50" fill="#5a9ad6" stroke="none" stroke-width="1" />
<rect x="93.70" y="141.50" width="5.67" height="5.50" fill="#5a9ad6" stroke="none" stroke-width="1" />
<rect x="101.37" y="141.50" width="5.67" height="5.50" fill="#5a9ad6" stroke="none" stroke-width="1" />
<rect x="109.04" y="141.50" width="5.67" height="5.50" fill="#5a9ad6" stroke="none" stroke-width="1" />
<rect x="116.71" y="141.50" width="5.67" height="5.50" fill="#5a9ad6" stroke="none" stroke-width="1" />
<rect x="124.38" y="141.50" width="5.67" height="5.50" fill="#5a9ad6" stroke="none" stroke-width="1" />
<rect x="132.05" y="141.50" width="5.67" height="5.50" fill="#5a9ad6" stroke="none" stroke-width="1" />
<rect x="139.72" y="141.50" width="5.67" height="5.50" fill="#5a9ad6" stroke="none" stroke-width="1" />
<rect x="147.39" y="141.50" width="5.67" height="5.50" fill="#5a9ad6" stroke="none" stroke-width="1" />
<rect x="155.06" y="141.50" width="5.67" height="5.50" fill="#5a9ad6" stroke="none" stroke-width="1" />
<rect x="162.73" y="141.50" width="5.67" height="5.50" fill="#5a9ad6" stroke="none" stroke-width="1" />
<rect x="170.40" y="141.50" width="5.67" height="5.50" fill="#5a9ad6" stroke="none" stroke-width="1" />
<rect x="178.07" y="141.50" width="5.67" height="5.50" fill="#5a9ad6" stroke="none" stroke-width="1" />
<rect x="185.74" y="141.50" width="5.67" height="5.50" fill="#5a9ad6" stroke="none" stroke-width="1" />
<rect x="193.41" y="141.50" width="5.67" height="5.50" fill="#5a9ad6" stroke="none" stroke-width="1" />
<circle cx="23.67" cy="103.00" r="0.45" fill="#f4f4f4"/>
<circle cx="31.34" cy="103.00" r="0.45" fill="#f4f4f4"/>
<circle cx="39.01" cy="103.00" r="0.45" fill="#f4f4f4"/>
<circle cx="46.68" cy="103.00" r="0.45" fill="#f4f4f4"/>
<circle cx="54.35" cy="103.00" r="0.45" fill="#f4f4f4"/>
<circle cx="62.02" cy="103.00" r="0.45" fill="#f4f4f4"/>
<circle cx="69.69" cy="103.00" r="0.45" fill="#f4f4f4"/>
<circle cx="77.36" cy="103.00" r="0.45" fill="#f4f4f4"/>
<circle cx="85.03" cy="103.00" r="0.45" fill="#f4f4f4"/>
<circle cx="92.70" cy="103.00" r="0.45" fill="#f4f4f4"/>
<circle cx="100.37" cy="103.00" r="0.45" fill="#f4f4f4"/>
<circle cx="108.04" cy="103.00" r="0.45" fill="#f4f4f4"/>
<circle cx="115.71" cy="103.00" r="0.45" fill="#f4f4f4"/>
<circle cx="123.38" cy="103.00" r="0.45" fill="#f4f4f4"/>
<circle cx="131.05" cy="103.00" r="0.45" fill="#f4f4f4"/>
<circle cx="138.72" cy="103.00" r="0.45" fill="#f4f4f4"/>
<circle cx="146.39" cy="103.00" r="0.45" fill="#f4f4f4"/>
<circle cx="154.06" cy="103.00" r="0.45" fill="#f4f4f4"/>
<circle cx="161.73" cy="103.00" r="0.45" fill="#f4f4f4"/>
<circle cx="169.40" cy="103.00" r="0.45" fill="#f4f4f4"/>
<circle cx="177.07" cy="103.00" r="0.45" fill="#f4f4f4"/>
<circle cx="184.74" cy="103.00" r="0.45" fill="#f4f4f4"/>
<circle cx="192.41" cy="103.00" r="0.45" fill="#f4f4f4"/>
<circle cx="23.67" cy="110.50" r="0.45" fill="#f4f4f4"/>
<circle cx="31.34" cy="110.50" r="0.45" fill="#f4f4f4"/>
<circle cx="39.01" cy="110.50" r="0.45" fill="#f4f4f4"/>
<circle cx="46.68" cy="110.50" r="0.45" fill="#f4f4f4"/>
<circle cx="54.35" cy="110.50" r="0.45" fill="#f4f4f4"/>
<circle cx="62.02" cy="110.50" r="0.45" fill="#f4f4f4"/>
<circle cx="69.69" cy="110.50" r="0.45" fill="#f4f4f4"/>
<circle cx="77.36" cy="110.50" r="0.45" fill="#f4f4f4"/>
<circle cx="85.03" cy="110.50" r="0.45" fill="#f4f4f4"/>
<circle cx="92.70" cy="110.50" r="0.45" fill="#f4f4f4"/>
<circle cx="100.37" cy="110.50" r="0.45" fill="#f4f4f4"/>
<circle cx="108.04" cy="110.50" r="0.45" fill="#f4f4f4"/>
<circle cx="115.71" cy="110.50" r="0.45" fill="#f4f4f4"/>
<circle cx="123.38" cy="110.50" r="0.45" fill="#f4f4f4"/>
<circle cx="131.05" cy="110.50" r="0.45" fill="#f4f4f4"/>
<circle cx="138.72" cy="110.50" r="0.45" fill="#f4f4f4"/>
<circle cx="146.39" cy="110.50" r="0.45" fill="#f4f4f4"/>
<circle cx="154.06" cy="110.50" r="0.45" fill="#f4f4f4"/>
<circle cx="161.73" cy="110.50" r="0.45" fill="#f4f4f4"/>
<circle cx="169.40" cy="110.50" r="0.45" fill="#f4f4f4"/>
<circle cx="177.07" cy="110.50" r="0.45" fill="#f4f4f4"/>
<circle cx="184.74" cy="110.50" r="0.45" fill="#f4f4f4"/>
<circle cx="192.41" cy="110.50" r="0.45" fill="#f4f4f4"/>
<circle cx="23.67" cy="118.00" r="0.45" fill="#f4f4f4"/>
<circle cx="31.34" cy="118.00" r="0.45" fill="#f4f4f4"/>
<circle cx="39.01" cy="118.00" r="0.45" fill="#f4f4f4"/>
<circle cx="46.68" cy="118.00" r="0.45" fill="#f4f4f4"/>
<circle cx="54.35" cy="118.00" r="0.45" fill="#f4f4f4"/>
<circle cx="62.02" cy="118.00" r="0.45" fill="#f4f4f4"/>
<circle cx="69.69" cy="118.00" r="0.45" fill="#f4f4f4"/>
<circle cx="77.36" cy="118.00" r="0.45" fill="#f4f4f4"/>
<circle cx="85.03" cy="118.00" r="0.45" fill="#f4f4f4"/>
<circle cx="92.70" cy="118.00" r="0.45" fill="#f4f4f4"/>
<circle cx="100.37" cy="118.00" r="0.45" fill="#f4f4f4"/>
<circle cx="108.04" cy="118.00" r="0.45" fill="#f4f4f4"/>
<circle cx="115.71" cy="118.00" r="0.45" fill="#f4f4f4"/>
<circle cx="123.38" cy="118.00" r="0.45" fill="#f4f4f4"/>
<circle cx="131.05" cy="118.00" r="0.45" fill="#f4f4f4"/>
<circle cx="138.72" cy="118.00" r="0.45" fill="#f4f4f4"/>
<circle cx="146.39" cy="118.00" r="0.45" fill="#f4f4f4"/>
<circle cx="154.06" cy="118.00" r="0.45" fill="#f4f4f4"/>
<circle cx="161.73" cy="118.00" r="0.45" fill="#f4f4f4"/>
<circle cx="169.40" cy="118.00" r="0.45" fill="#f4f4f4"/>
<circle cx="177.07" cy="118.00" r="0.45" fill="#f4f4f4"/>
<circle cx="184.74" cy="118.00" r="0.45" fill="#f4f4f4"/>
<circle cx="192.41" cy="118.00" r="0.45" fill="#f4f4f4"/>
<circle cx="23.67" cy="125.50" r="0.45" fill="#f4f4f4"/>
<circle cx="31.34" cy="125.50" r="0.45" fill="#f4f4f4"/>
<circle cx="39.01" cy="125.50" r="0.45" fill="#f4f4f4"/>
<circle cx="46.68" cy="125.50" r="0.45" fill="#f4f4f4"/>
<circle cx="54.35" cy="125.50" r="0.45" fill="#f4f4f4"/>
<circle cx="62.02" cy="125.50" r="0.45" fill="#f4f4f4"/>
<circle cx="69.69" cy="125.50" r="0.45" fill="#f4f4f4"/>
<circle cx="77.36" cy="125.50" r="0.45" fill="#f4f4f4"/>
<circle cx="85.03" cy="125.50" r="0.45" fill="#f4f4f4"/>
<circle cx="92.70" cy="125.50" r="0.45" fill="#f4f4f4"/>
<circle cx="100.37" cy="125.50" r="0.45" fill="#f4f4f4"/>
<circle cx="108.04" cy="125.50" r="0.45" fill="#f4f4f4"/>
<circle cx="115.71" cy="125.50" r="0.45" fill="#f4f4f4"/>
<circle cx="123.38" cy="125.50" r="0.45" fill="#f4f4f4"/>
<circle cx="131.05" cy="125.50" r="0.45" fill="#f4f4f4"/>
<circle cx="138.72" cy="125.50" r="0.45" fill="#f4f4f4"/>
<circle cx="146.39" cy="125.50" r="0.45" fill="#f4f4f4"/>
<circle cx="154.06" cy="125.50" r="0.45" fill="#f4f4f4"/>
<circle cx="161.73" cy="125.50" r="0.45" fill="#f4f4f4"/>
<circle cx="169.40" cy="125.50" r="0.45" fill="#f4f4f4"/>
<circle cx="177.07" cy="125.50" r="0.45" fill="#f4f4f4"/>
<circle cx="184.74" cy="125.50" r="0.45" fill="#f4f4f4"/>
<circle cx="192.41" cy="125.50" r="0.45" fill="#f4f4f4"/>
<circle cx="23.67" cy="133.00" r="0.45" fill="#f4f4f4"/>
<circle cx="31.34" cy="133.00" r="0.45" fill="#f4f4f4"/>
<circle cx="39.01" cy="133.00" r="0.45" fill="#f4f4f4"/>
<circle cx="46.68" cy="133.00" r="0.45" fill="#f4f4f4"/>
<circle cx="54.35" cy="133.00" r="0.45" fill="#f4f4f4"/>
<circle cx="62.02" cy="133.00" r="0.45" fill="#f4f4f4"/>
<circle cx="69.69" cy="133.00" r="0.45" fill="#f4f4f4"/>
<circle cx="77.36" cy="133.00" r="0.45" fill="#f4f4f4"/>
<circle cx="85.03" cy="133.00" r="0.45" fill="#f4f4f4"/>
<circle cx="92.70" cy="133.00" r="0.45" fill="#f4f4f4"/>
<circle cx="100.37" cy="133.00" r="0.45" fill="#f4f4f4"/>
<circle cx="108.04" cy="133.00" r="0.45" fill="#f4f4f4"/>
<circle cx="115.71" cy="133.00" r="0.45" fill="#f4f4f4"/>
<circle cx="123.38" cy="133.00" r="0.45" fill="#f4f4f4"/>
<circle cx="131.05" cy="133.00" r="0.45" fill="#f4f4f4"/>
<circle cx="138.72" cy="133.00" r="0.45" fill="#f4f4f4"/>
<circle cx="146.39" cy="133.00" r="0.45" fill="#f4f4f4"/>
<circle cx="154.06" cy="133.00" r="0.45" fill="#f4f4f4"/>
<circle cx="161.73" cy="133.00" r="0.45" fill="#f4f4f4"/>
<circle cx="169.40" cy="133.00" r="0.45" fill="#f4f4f4"/>
<circle cx="177.07" cy="133.00" r="0.45" fill="#f4f4f4"/>
<circle cx="184.74" cy="133.00" r="0.45" fill="#f4f4f4"/>
<circle cx="192.41" cy="133.00" r="0.45" fill="#f4f4f4"/>
<circle cx="23.67" cy="140.50" r="0.45" fill="#f4f4f4"/>
<circle cx="31.34" cy="140.50" r="0.45" fill="#f4f4f4"/>
<circle cx="39.01" cy="140.50" r="0.45" fill="#f4f4f4"/>
<circle cx="46.68" cy="140.50" r="0.45" fill="#f4f4f4"/>
<circle cx="54.35" cy="140.50" r="0.45" fill="#f4f4f4"/>
<circle cx="62.02" cy="140.50" r="0.45" fill="#f4f4f4"/>
<circle cx="69.69" cy="140.50" r="0.45" fill="#f4f4f4"/>
<circle cx="77.36" cy="140.50" r="0.45" fill="#f4f4f4"/>
<circle cx="85.03" cy="140.50" r="0.45" fill="#f4f4f4"/>
<circle cx="92.70" cy="140.50" r="0.45" fill="#f4f4f4"/>
<circle cx="100.37" cy="140.50" r="0.45" fill="#f4f4f4"/>
<circle cx="108.04" cy="140.50" r="0.45" fill="#f4f4f4"/>
<circle cx="115.71" cy="140.50" r="0.45" fill="#f4f4f4"/>
<circle cx="123.38" cy="140.50" r="0.45" fill="#f4f4f4"/>
<circle cx="131.05" cy="140.50" r="0.45" fill="#f4f4f4"/>
<circle cx="138.72" cy="140.50" r="0.45" fill="#f4f4f4"/>
<circle cx="146.39" cy="140.50" r="0.45" fill="#f4f4f4"/>
<circle cx="154.06" cy="140.50" r="0.45" fill="#f4f4f4"/>
<circle cx="161.73" cy="140.50" r="0.45" fill="#f4f4f4"/>
<circle cx="169.40" cy="140.50" r="0.45" fill="#f4f4f4"/>
<circle cx="177.07" cy="140.50" r="0.45" fill="#f4f4f4"/>
<circle cx="184.74" cy="140.50" r="0.45" fill="#f4f4f4"/>
<circle cx="192.41" cy="140.50" r="0.45" fill="#f4f4f4"/>
<rect x="108.34" y="88.50" width="7.07" height="6.50" fill="#16222e" stroke="none" stroke-width="1" />
<rect x="225.50" y="25.40" width="194.50" height="124.90" fill="#fff" stroke="#9a9a9a" stroke-width="0.8" />
<text x="234.82" y="22.80" font-size="5.8" fill="#333" text-anchor="middle" font-weight="normal" stroke="#333" stroke-width="0.1">1</text>
<text x="242.47" y="22.80" font-size="5.8" fill="#333" text-anchor="middle" font-weight="normal" stroke="#333" stroke-width="0.1">2</text>
<text x="250.12" y="22.80" font-size="5.8" fill="#333" text-anchor="middle" font-weight="normal" stroke="#333" stroke-width="0.1">3</text>
<text x="257.77" y="22.80" font-size="5.8" fill="#333" text-anchor="middle" font-weight="normal" stroke="#333" stroke-width="0.1">4</text>
<text x="265.43" y="22.80" font-size="5.8" fill="#333" text-anchor="middle" font-weight="normal" stroke="#333" stroke-width="0.1">5</text>
<text x="273.07" y="22.80" font-size="5.8" fill="#333" text-anchor="middle" font-weight="normal" stroke="#333" stroke-width="0.1">6</text>
<text x="280.72" y="22.80" font-size="5.8" fill="#333" text-anchor="middle" font-weight="normal" stroke="#333" stroke-width="0.1">7</text>
<text x="288.38" y="22.80" font-size="5.8" fill="#333" text-anchor="middle" font-weight="normal" stroke="#333" stroke-width="0.1">8</text>
<text x="296.02" y="22.80" font-size="5.8" fill="#333" text-anchor="middle" font-weight="normal" stroke="#333" stroke-width="0.1">9</text>
<text x="303.68" y="22.80" font-size="5.8" fill="#333" text-anchor="middle" font-weight="normal" stroke="#333" stroke-width="0.1">10</text>
<text x="311.32" y="22.80" font-size="5.8" fill="#333" text-anchor="middle" font-weight="normal" stroke="#333" stroke-width="0.1">11</text>
<text x="318.97" y="22.80" font-size="5.8" fill="#333" text-anchor="middle" font-weight="normal" stroke="#333" stroke-width="0.1">12</text>
<text x="326.62" y="22.80" font-size="5.8" fill="#333" text-anchor="middle" font-weight="normal" stroke="#333" stroke-width="0.1">13</text>
<text x="334.27" y="22.80" font-size="5.8" fill="#333" text-anchor="middle" font-weight="normal" stroke="#333" stroke-width="0.1">14</text>
<text x="341.93" y="22.80" font-size="5.8" fill="#333" text-anchor="middle" font-weight="normal" stroke="#333" stroke-width="0.1">15</text>
<text x="349.57" y="22.80" font-size="5.8" fill="#333" text-anchor="middle" font-weight="normal" stroke="#333" stroke-width="0.1">16</text>
<text x="357.22" y="22.80" font-size="5.8" fill="#333" text-anchor="middle" font-weight="normal" stroke="#333" stroke-width="0.1">17</text>
<text x="364.88" y="22.80" font-size="5.8" fill="#333" text-anchor="middle" font-weight="normal" stroke="#333" stroke-width="0.1">18</text>
<text x="372.53" y="22.80" font-size="5.8" fill="#333" text-anchor="middle" font-weight="normal" stroke="#333" stroke-width="0.1">19</text>
<text x="380.18" y="22.80" font-size="5.8" fill="#333" text-anchor="middle" font-weight="normal" stroke="#333" stroke-width="0.1">20</text>
<text x="387.82" y="22.80" font-size="5.8" fill="#333" text-anchor="middle" font-weight="normal" stroke="#333" stroke-width="0.1">21</text>
<text x="395.47" y="22.80" font-size="5.8" fill="#333" text-anchor="middle" font-weight="normal" stroke="#333" stroke-width="0.1">22</text>
<text x="403.12" y="22.80" font-size="5.8" fill="#333" text-anchor="middle" font-weight="normal" stroke="#333" stroke-width="0.1">23</text>
<text x="410.78" y="22.80" font-size="5.8" fill="#333" text-anchor="middle" font-weight="normal" stroke="#333" stroke-width="0.1">24</text>
<text x="221.50" y="33.75" font-size="5.7" fill="#3a3a3a" text-anchor="middle" font-weight="bold" >A</text>
<text x="221.50" y="41.25" font-size="5.7" fill="#3a3a3a" text-anchor="middle" font-weight="bold" >B</text>
<text x="221.50" y="48.75" font-size="5.7" fill="#3a3a3a" text-anchor="middle" font-weight="bold" >C</text>
<text x="221.50" y="56.25" font-size="5.7" fill="#3a3a3a" text-anchor="middle" font-weight="bold" >D</text>
<text x="221.50" y="63.75" font-size="5.7" fill="#3a3a3a" text-anchor="middle" font-weight="bold" >E</text>
<text x="221.50" y="71.25" font-size="5.7" fill="#3a3a3a" text-anchor="middle" font-weight="bold" >F</text>
<text x="221.50" y="78.75" font-size="5.7" fill="#3a3a3a" text-anchor="middle" font-weight="bold" >G</text>
<text x="221.50" y="86.25" font-size="5.7" fill="#3a3a3a" text-anchor="middle" font-weight="bold" >H</text>
<text x="221.50" y="93.75" font-size="5.7" fill="#555555" text-anchor="middle" font-weight="normal" >I</text>
<text x="221.50" y="101.25" font-size="5.7" fill="#3a3a3a" text-anchor="middle" font-weight="bold" >J</text>
<text x="221.50" y="108.75" font-size="5.7" fill="#3a3a3a" text-anchor="middle" font-weight="bold" >K</text>
<text x="221.50" y="116.25" font-size="5.7" fill="#3a3a3a" text-anchor="middle" font-weight="bold" >L</text>
<text x="221.50" y="123.75" font-size="5.7" fill="#3a3a3a" text-anchor="middle" font-weight="bold" >M</text>
<text x="221.50" y="131.25" font-size="5.7" fill="#3a3a3a" text-anchor="middle" font-weight="bold" >N</text>
<text x="221.50" y="138.75" font-size="5.7" fill="#3a3a3a" text-anchor="middle" font-weight="bold" >O</text>
<text x="221.50" y="146.25" font-size="5.7" fill="#3a3a3a" text-anchor="middle" font-weight="bold" >P</text>
<rect x="231.00" y="28.00" width="183.60" height="60.00" fill="#203b58" stroke="none" stroke-width="1" />
<line x1="238.65" y1="28.00" x2="238.65" y2="88.00" stroke="#d0d7de" stroke-width="0.65" />
<line x1="246.30" y1="28.00" x2="246.30" y2="88.00" stroke="#d0d7de" stroke-width="0.65" />
<line x1="253.95" y1="28.00" x2="253.95" y2="88.00" stroke="#d0d7de" stroke-width="0.65" />
<line x1="261.60" y1="28.00" x2="261.60" y2="88.00" stroke="#d0d7de" stroke-width="0.65" />
<line x1="269.25" y1="28.00" x2="269.25" y2="88.00" stroke="#d0d7de" stroke-width="0.65" />
<line x1="276.90" y1="28.00" x2="276.90" y2="88.00" stroke="#d0d7de" stroke-width="0.65" />
<line x1="284.55" y1="28.00" x2="284.55" y2="88.00" stroke="#d0d7de" stroke-width="0.65" />
<line x1="292.20" y1="28.00" x2="292.20" y2="88.00" stroke="#d0d7de" stroke-width="0.65" />
<line x1="299.85" y1="28.00" x2="299.85" y2="88.00" stroke="#d0d7de" stroke-width="0.65" />
<line x1="307.50" y1="28.00" x2="307.50" y2="88.00" stroke="#d0d7de" stroke-width="0.65" />
<line x1="315.15" y1="28.00" x2="315.15" y2="88.00" stroke="#d0d7de" stroke-width="0.65" />
<line x1="322.80" y1="28.00" x2="322.80" y2="88.00" stroke="#d0d7de" stroke-width="0.65" />
<line x1="330.45" y1="28.00" x2="330.45" y2="88.00" stroke="#d0d7de" stroke-width="0.65" />
<line x1="338.10" y1="28.00" x2="338.10" y2="88.00" stroke="#d0d7de" stroke-width="0.65" />
<line x1="345.75" y1="28.00" x2="345.75" y2="88.00" stroke="#d0d7de" stroke-width="0.65" />
<line x1="353.40" y1="28.00" x2="353.40" y2="88.00" stroke="#d0d7de" stroke-width="0.65" />
<line x1="361.05" y1="28.00" x2="361.05" y2="88.00" stroke="#d0d7de" stroke-width="0.65" />
<line x1="368.70" y1="28.00" x2="368.70" y2="88.00" stroke="#d0d7de" stroke-width="0.65" />
<line x1="376.35" y1="28.00" x2="376.35" y2="88.00" stroke="#d0d7de" stroke-width="0.65" />
<line x1="384.00" y1="28.00" x2="384.00" y2="88.00" stroke="#d0d7de" stroke-width="0.65" />
<line x1="391.65" y1="28.00" x2="391.65" y2="88.00" stroke="#d0d7de" stroke-width="0.65" />
<line x1="399.30" y1="28.00" x2="399.30" y2="88.00" stroke="#d0d7de" stroke-width="0.65" />
<line x1="406.95" y1="28.00" x2="406.95" y2="88.00" stroke="#d0d7de" stroke-width="0.65" />
<line x1="231.00" y1="35.50" x2="414.60" y2="35.50" stroke="#8d9aaa" stroke-width="0.45" />
<line x1="231.00" y1="43.00" x2="414.60" y2="43.00" stroke="#8d9aaa" stroke-width="0.45" />
<line x1="231.00" y1="50.50" x2="414.60" y2="50.50" stroke="#8d9aaa" stroke-width="0.45" />
<line x1="231.00" y1="58.00" x2="414.60" y2="58.00" stroke="#8d9aaa" stroke-width="0.45" />
<line x1="231.00" y1="65.50" x2="414.60" y2="65.50" stroke="#8d9aaa" stroke-width="0.45" />
<line x1="231.00" y1="73.00" x2="414.60" y2="73.00" stroke="#8d9aaa" stroke-width="0.45" />
<line x1="231.00" y1="80.50" x2="414.60" y2="80.50" stroke="#8d9aaa" stroke-width="0.45" />
<rect x="232.00" y="29.00" width="5.65" height="5.50" fill="#5a9ad6" stroke="none" stroke-width="1" />
<rect x="239.65" y="29.00" width="5.65" height="5.50" fill="#5a9ad6" stroke="none" stroke-width="1" />
<rect x="247.30" y="29.00" width="5.65" height="5.50" fill="#5a9ad6" stroke="none" stroke-width="1" />
<rect x="254.95" y="29.00" width="5.65" height="5.50" fill="#5a9ad6" stroke="none" stroke-width="1" />
<rect x="262.60" y="29.00" width="5.65" height="5.50" fill="#5a9ad6" stroke="none" stroke-width="1" />
<rect x="270.25" y="29.00" width="5.65" height="5.50" fill="#5a9ad6" stroke="none" stroke-width="1" />
<rect x="277.90" y="29.00" width="5.65" height="5.50" fill="#5a9ad6" stroke="none" stroke-width="1" />
<rect x="285.55" y="29.00" width="5.65" height="5.50" fill="#5a9ad6" stroke="none" stroke-width="1" />
<rect x="293.20" y="29.00" width="5.65" height="5.50" fill="#5a9ad6" stroke="none" stroke-width="1" />
<rect x="300.85" y="29.00" width="5.65" height="5.50" fill="#5a9ad6" stroke="none" stroke-width="1" />
<rect x="308.50" y="29.00" width="5.65" height="5.50" fill="#5a9ad6" stroke="none" stroke-width="1" />
<rect x="316.15" y="29.00" width="5.65" height="5.50" fill="#5a9ad6" stroke="none" stroke-width="1" />
<rect x="323.80" y="29.00" width="5.65" height="5.50" fill="#5a9ad6" stroke="none" stroke-width="1" />
<rect x="331.45" y="29.00" width="5.65" height="5.50" fill="#5a9ad6" stroke="none" stroke-width="1" />
<rect x="339.10" y="29.00" width="5.65" height="5.50" fill="#5a9ad6" stroke="none" stroke-width="1" />
<rect x="346.75" y="29.00" width="5.65" height="5.50" fill="#5a9ad6" stroke="none" stroke-width="1" />
<rect x="354.40" y="29.00" width="5.65" height="5.50" fill="#5a9ad6" stroke="none" stroke-width="1" />
<rect x="362.05" y="29.00" width="5.65" height="5.50" fill="#5a9ad6" stroke="none" stroke-width="1" />
<rect x="369.70" y="29.00" width="5.65" height="5.50" fill="#5a9ad6" stroke="none" stroke-width="1" />
<rect x="377.35" y="29.00" width="5.65" height="5.50" fill="#5a9ad6" stroke="none" stroke-width="1" />
<rect x="385.00" y="29.00" width="5.65" height="5.50" fill="#5a9ad6" stroke="none" stroke-width="1" />
<rect x="392.65" y="29.00" width="5.65" height="5.50" fill="#5a9ad6" stroke="none" stroke-width="1" />
<rect x="400.30" y="29.00" width="5.65" height="5.50" fill="#5a9ad6" stroke="none" stroke-width="1" />
<rect x="407.95" y="29.00" width="5.65" height="5.50" fill="#5a9ad6" stroke="none" stroke-width="1" />
<rect x="232.00" y="36.50" width="5.65" height="5.50" fill="#5a9ad6" stroke="none" stroke-width="1" />
<rect x="239.65" y="36.50" width="5.65" height="5.50" fill="#5a9ad6" stroke="none" stroke-width="1" />
<rect x="247.30" y="36.50" width="5.65" height="5.50" fill="#5a9ad6" stroke="none" stroke-width="1" />
<rect x="254.95" y="36.50" width="5.65" height="5.50" fill="#5a9ad6" stroke="none" stroke-width="1" />
<rect x="262.60" y="36.50" width="5.65" height="5.50" fill="#5a9ad6" stroke="none" stroke-width="1" />
<rect x="270.25" y="36.50" width="5.65" height="5.50" fill="#5a9ad6" stroke="none" stroke-width="1" />
<rect x="277.90" y="36.50" width="5.65" height="5.50" fill="#5a9ad6" stroke="none" stroke-width="1" />
<rect x="285.55" y="36.50" width="5.65" height="5.50" fill="#5a9ad6" stroke="none" stroke-width="1" />
<rect x="293.20" y="36.50" width="5.65" height="5.50" fill="#5a9ad6" stroke="none" stroke-width="1" />
<rect x="300.85" y="36.50" width="5.65" height="5.50" fill="#5a9ad6" stroke="none" stroke-width="1" />
<rect x="308.50" y="36.50" width="5.65" height="5.50" fill="#5a9ad6" stroke="none" stroke-width="1" />
<rect x="316.15" y="36.50" width="5.65" height="5.50" fill="#5a9ad6" stroke="none" stroke-width="1" />
<rect x="323.80" y="36.50" width="5.65" height="5.50" fill="#5a9ad6" stroke="none" stroke-width="1" />
<rect x="331.45" y="36.50" width="5.65" height="5.50" fill="#5a9ad6" stroke="none" stroke-width="1" />
<rect x="339.10" y="36.50" width="5.65" height="5.50" fill="#5a9ad6" stroke="none" stroke-width="1" />
<rect x="346.75" y="36.50" width="5.65" height="5.50" fill="#5a9ad6" stroke="none" stroke-width="1" />
<rect x="354.40" y="36.50" width="5.65" height="5.50" fill="#5a9ad6" stroke="none" stroke-width="1" />
<rect x="362.05" y="36.50" width="5.65" height="5.50" fill="#5a9ad6" stroke="none" stroke-width="1" />
<rect x="369.70" y="36.50" width="5.65" height="5.50" fill="#5a9ad6" stroke="none" stroke-width="1" />
<rect x="377.35" y="36.50" width="5.65" height="5.50" fill="#5a9ad6" stroke="none" stroke-width="1" />
<rect x="385.00" y="36.50" width="5.65" height="5.50" fill="#5a9ad6" stroke="none" stroke-width="1" />
<rect x="392.65" y="36.50" width="5.65" height="5.50" fill="#5a9ad6" stroke="none" stroke-width="1" />
<rect x="400.30" y="36.50" width="5.65" height="5.50" fill="#5a9ad6" stroke="none" stroke-width="1" />
<rect x="407.95" y="36.50" width="5.65" height="5.50" fill="#5a9ad6" stroke="none" stroke-width="1" />
<rect x="232.00" y="44.00" width="5.65" height="5.50" fill="#5a9ad6" stroke="none" stroke-width="1" />
<rect x="239.65" y="44.00" width="5.65" height="5.50" fill="#5a9ad6" stroke="none" stroke-width="1" />
<rect x="247.30" y="44.00" width="5.65" height="5.50" fill="#5a9ad6" stroke="none" stroke-width="1" />
<rect x="254.95" y="44.00" width="5.65" height="5.50" fill="#5a9ad6" stroke="none" stroke-width="1" />
<rect x="262.60" y="44.00" width="5.65" height="5.50" fill="#5a9ad6" stroke="none" stroke-width="1" />
<rect x="270.25" y="44.00" width="5.65" height="5.50" fill="#5a9ad6" stroke="none" stroke-width="1" />
<rect x="277.90" y="44.00" width="5.65" height="5.50" fill="#5a9ad6" stroke="none" stroke-width="1" />
<rect x="285.55" y="44.00" width="5.65" height="5.50" fill="#5a9ad6" stroke="none" stroke-width="1" />
<rect x="293.20" y="44.00" width="5.65" height="5.50" fill="#5a9ad6" stroke="none" stroke-width="1" />
<rect x="300.85" y="44.00" width="5.65" height="5.50" fill="#5a9ad6" stroke="none" stroke-width="1" />
<rect x="308.50" y="44.00" width="5.65" height="5.50" fill="#5a9ad6" stroke="none" stroke-width="1" />
<rect x="316.15" y="44.00" width="5.65" height="5.50" fill="#5a9ad6" stroke="none" stroke-width="1" />
<rect x="323.80" y="44.00" width="5.65" height="5.50" fill="#5a9ad6" stroke="none" stroke-width="1" />
<rect x="331.45" y="44.00" width="5.65" height="5.50" fill="#5a9ad6" stroke="none" stroke-width="1" />
<rect x="339.10" y="44.00" width="5.65" height="5.50" fill="#5a9ad6" stroke="none" stroke-width="1" />
<rect x="346.75" y="44.00" width="5.65" height="5.50" fill="#5a9ad6" stroke="none" stroke-width="1" />
<rect x="354.40" y="44.00" width="5.65" height="5.50" fill="#5a9ad6" stroke="none" stroke-width="1" />
<rect x="362.05" y="44.00" width="5.65" height="5.50" fill="#5a9ad6" stroke="none" stroke-width="1" />
<rect x="369.70" y="44.00" width="5.65" height="5.50" fill="#5a9ad6" stroke="none" stroke-width="1" />
<rect x="377.35" y="44.00" width="5.65" height="5.50" fill="#5a9ad6" stroke="none" stroke-width="1" />
<rect x="385.00" y="44.00" width="5.65" height="5.50" fill="#5a9ad6" stroke="none" stroke-width="1" />
<rect x="392.65" y="44.00" width="5.65" height="5.50" fill="#5a9ad6" stroke="none" stroke-width="1" />
<rect x="400.30" y="44.00" width="5.65" height="5.50" fill="#5a9ad6" stroke="none" stroke-width="1" />
<rect x="407.95" y="44.00" width="5.65" height="5.50" fill="#5a9ad6" stroke="none" stroke-width="1" />
<rect x="232.00" y="51.50" width="5.65" height="5.50" fill="#5a9ad6" stroke="none" stroke-width="1" />
<rect x="239.65" y="51.50" width="5.65" height="5.50" fill="#5a9ad6" stroke="none" stroke-width="1" />
<rect x="247.30" y="51.50" width="5.65" height="5.50" fill="#5a9ad6" stroke="none" stroke-width="1" />
<rect x="254.95" y="51.50" width="5.65" height="5.50" fill="#5a9ad6" stroke="none" stroke-width="1" />
<rect x="262.60" y="51.50" width="5.65" height="5.50" fill="#5a9ad6" stroke="none" stroke-width="1" />
<rect x="270.25" y="51.50" width="5.65" height="5.50" fill="#5a9ad6" stroke="none" stroke-width="1" />
<rect x="277.90" y="51.50" width="5.65" height="5.50" fill="#5a9ad6" stroke="none" stroke-width="1" />
<rect x="285.55" y="51.50" width="5.65" height="5.50" fill="#5a9ad6" stroke="none" stroke-width="1" />
<rect x="293.20" y="51.50" width="5.65" height="5.50" fill="#5a9ad6" stroke="none" stroke-width="1" />
<rect x="300.85" y="51.50" width="5.65" height="5.50" fill="#5a9ad6" stroke="none" stroke-width="1" />
<rect x="308.50" y="51.50" width="5.65" height="5.50" fill="#5a9ad6" stroke="none" stroke-width="1" />
<rect x="316.15" y="51.50" width="5.65" height="5.50" fill="#5a9ad6" stroke="none" stroke-width="1" />
<rect x="323.80" y="51.50" width="5.65" height="5.50" fill="#5a9ad6" stroke="none" stroke-width="1" />
<rect x="331.45" y="51.50" width="5.65" height="5.50" fill="#5a9ad6" stroke="none" stroke-width="1" />
<rect x="339.10" y="51.50" width="5.65" height="5.50" fill="#5a9ad6" stroke="none" stroke-width="1" />
<rect x="346.75" y="51.50" width="5.65" height="5.50" fill="#5a9ad6" stroke="none" stroke-width="1" />
<rect x="354.40" y="51.50" width="5.65" height="5.50" fill="#5a9ad6" stroke="none" stroke-width="1" />
<rect x="362.05" y="51.50" width="5.65" height="5.50" fill="#5a9ad6" stroke="none" stroke-width="1" />
<rect x="369.70" y="51.50" width="5.65" height="5.50" fill="#5a9ad6" stroke="none" stroke-width="1" />
<rect x="377.35" y="51.50" width="5.65" height="5.50" fill="#5a9ad6" stroke="none" stroke-width="1" />
<rect x="385.00" y="51.50" width="5.65" height="5.50" fill="#5a9ad6" stroke="none" stroke-width="1" />
<rect x="392.65" y="51.50" width="5.65" height="5.50" fill="#5a9ad6" stroke="none" stroke-width="1" />
<rect x="400.30" y="51.50" width="5.65" height="5.50" fill="#5a9ad6" stroke="none" stroke-width="1" />
<rect x="407.95" y="51.50" width="5.65" height="5.50" fill="#5a9ad6" stroke="none" stroke-width="1" />
<rect x="232.00" y="59.00" width="5.65" height="5.50" fill="#5a9ad6" stroke="none" stroke-width="1" />
<rect x="239.65" y="59.00" width="5.65" height="5.50" fill="#5a9ad6" stroke="none" stroke-width="1" />
<rect x="247.30" y="59.00" width="5.65" height="5.50" fill="#5a9ad6" stroke="none" stroke-width="1" />
<rect x="254.95" y="59.00" width="5.65" height="5.50" fill="#5a9ad6" stroke="none" stroke-width="1" />
<rect x="262.60" y="59.00" width="5.65" height="5.50" fill="#5a9ad6" stroke="none" stroke-width="1" />
<rect x="270.25" y="59.00" width="5.65" height="5.50" fill="#5a9ad6" stroke="none" stroke-width="1" />
<rect x="277.90" y="59.00" width="5.65" height="5.50" fill="#5a9ad6" stroke="none" stroke-width="1" />
<rect x="285.55" y="59.00" width="5.65" height="5.50" fill="#5a9ad6" stroke="none" stroke-width="1" />
<rect x="293.20" y="59.00" width="5.65" height="5.50" fill="#5a9ad6" stroke="none" stroke-width="1" />
<rect x="300.85" y="59.00" width="5.65" height="5.50" fill="#5a9ad6" stroke="none" stroke-width="1" />
<rect x="308.50" y="59.00" width="5.65" height="5.50" fill="#5a9ad6" stroke="none" stroke-width="1" />
<rect x="316.15" y="59.00" width="5.65" height="5.50" fill="#5a9ad6" stroke="none" stroke-width="1" />
<rect x="323.80" y="59.00" width="5.65" height="5.50" fill="#5a9ad6" stroke="none" stroke-width="1" />
<rect x="331.45" y="59.00" width="5.65" height="5.50" fill="#5a9ad6" stroke="none" stroke-width="1" />
<rect x="339.10" y="59.00" width="5.65" height="5.50" fill="#5a9ad6" stroke="none" stroke-width="1" />
<rect x="346.75" y="59.00" width="5.65" height="5.50" fill="#5a9ad6" stroke="none" stroke-width="1" />
<rect x="354.40" y="59.00" width="5.65" height="5.50" fill="#5a9ad6" stroke="none" stroke-width="1" />
<rect x="362.05" y="59.00" width="5.65" height="5.50" fill="#5a9ad6" stroke="none" stroke-width="1" />
<rect x="369.70" y="59.00" width="5.65" height="5.50" fill="#5a9ad6" stroke="none" stroke-width="1" />
<rect x="377.35" y="59.00" width="5.65" height="5.50" fill="#5a9ad6" stroke="none" stroke-width="1" />
<rect x="385.00" y="59.00" width="5.65" height="5.50" fill="#5a9ad6" stroke="none" stroke-width="1" />
<rect x="392.65" y="59.00" width="5.65" height="5.50" fill="#5a9ad6" stroke="none" stroke-width="1" />
<rect x="400.30" y="59.00" width="5.65" height="5.50" fill="#5a9ad6" stroke="none" stroke-width="1" />
<rect x="407.95" y="59.00" width="5.65" height="5.50" fill="#5a9ad6" stroke="none" stroke-width="1" />
<rect x="232.00" y="66.50" width="5.65" height="5.50" fill="#5a9ad6" stroke="none" stroke-width="1" />
<rect x="239.65" y="66.50" width="5.65" height="5.50" fill="#5a9ad6" stroke="none" stroke-width="1" />
<rect x="247.30" y="66.50" width="5.65" height="5.50" fill="#5a9ad6" stroke="none" stroke-width="1" />
<rect x="254.95" y="66.50" width="5.65" height="5.50" fill="#5a9ad6" stroke="none" stroke-width="1" />
<rect x="262.60" y="66.50" width="5.65" height="5.50" fill="#5a9ad6" stroke="none" stroke-width="1" />
<rect x="270.25" y="66.50" width="5.65" height="5.50" fill="#5a9ad6" stroke="none" stroke-width="1" />
<rect x="277.90" y="66.50" width="5.65" height="5.50" fill="#5a9ad6" stroke="none" stroke-width="1" />
<rect x="285.55" y="66.50" width="5.65" height="5.50" fill="#5a9ad6" stroke="none" stroke-width="1" />
<rect x="293.20" y="66.50" width="5.65" height="5.50" fill="#5a9ad6" stroke="none" stroke-width="1" />
<rect x="300.85" y="66.50" width="5.65" height="5.50" fill="#5a9ad6" stroke="none" stroke-width="1" />
<rect x="308.50" y="66.50" width="5.65" height="5.50" fill="#5a9ad6" stroke="none" stroke-width="1" />
<rect x="316.15" y="66.50" width="5.65" height="5.50" fill="#5a9ad6" stroke="none" stroke-width="1" />
<rect x="323.80" y="66.50" width="5.65" height="5.50" fill="#5a9ad6" stroke="none" stroke-width="1" />
<rect x="331.45" y="66.50" width="5.65" height="5.50" fill="#5a9ad6" stroke="none" stroke-width="1" />
<rect x="339.10" y="66.50" width="5.65" height="5.50" fill="#5a9ad6" stroke="none" stroke-width="1" />
<rect x="346.75" y="66.50" width="5.65" height="5.50" fill="#5a9ad6" stroke="none" stroke-width="1" />
<rect x="354.40" y="66.50" width="5.65" height="5.50" fill="#5a9ad6" stroke="none" stroke-width="1" />
<rect x="362.05" y="66.50" width="5.65" height="5.50" fill="#5a9ad6" stroke="none" stroke-width="1" />
<rect x="369.70" y="66.50" width="5.65" height="5.50" fill="#5a9ad6" stroke="none" stroke-width="1" />
<rect x="377.35" y="66.50" width="5.65" height="5.50" fill="#5a9ad6" stroke="none" stroke-width="1" />
<rect x="385.00" y="66.50" width="5.65" height="5.50" fill="#5a9ad6" stroke="none" stroke-width="1" />
<rect x="392.65" y="66.50" width="5.65" height="5.50" fill="#5a9ad6" stroke="none" stroke-width="1" />
<rect x="400.30" y="66.50" width="5.65" height="5.50" fill="#5a9ad6" stroke="none" stroke-width="1" />
<rect x="407.95" y="66.50" width="5.65" height="5.50" fill="#5a9ad6" stroke="none" stroke-width="1" />
<rect x="232.00" y="74.00" width="5.65" height="5.50" fill="#5a9ad6" stroke="none" stroke-width="1" />
<rect x="239.65" y="74.00" width="5.65" height="5.50" fill="#5a9ad6" stroke="none" stroke-width="1" />
<rect x="247.30" y="74.00" width="5.65" height="5.50" fill="#5a9ad6" stroke="none" stroke-width="1" />
<rect x="254.95" y="74.00" width="5.65" height="5.50" fill="#5a9ad6" stroke="none" stroke-width="1" />
<rect x="262.60" y="74.00" width="5.65" height="5.50" fill="#5a9ad6" stroke="none" stroke-width="1" />
<rect x="270.25" y="74.00" width="5.65" height="5.50" fill="#5a9ad6" stroke="none" stroke-width="1" />
<rect x="277.90" y="74.00" width="5.65" height="5.50" fill="#5a9ad6" stroke="none" stroke-width="1" />
<rect x="285.55" y="74.00" width="5.65" height="5.50" fill="#5a9ad6" stroke="none" stroke-width="1" />
<rect x="293.20" y="74.00" width="5.65" height="5.50" fill="#5a9ad6" stroke="none" stroke-width="1" />
<rect x="300.85" y="74.00" width="5.65" height="5.50" fill="#5a9ad6" stroke="none" stroke-width="1" />
<rect x="308.50" y="74.00" width="5.65" height="5.50" fill="#5a9ad6" stroke="none" stroke-width="1" />
<rect x="316.15" y="74.00" width="5.65" height="5.50" fill="#5a9ad6" stroke="none" stroke-width="1" />
<rect x="323.80" y="74.00" width="5.65" height="5.50" fill="#5a9ad6" stroke="none" stroke-width="1" />
<rect x="331.45" y="74.00" width="5.65" height="5.50" fill="#5a9ad6" stroke="none" stroke-width="1" />
<rect x="339.10" y="74.00" width="5.65" height="5.50" fill="#5a9ad6" stroke="none" stroke-width="1" />
<rect x="346.75" y="74.00" width="5.65" height="5.50" fill="#5a9ad6" stroke="none" stroke-width="1" />
<rect x="354.40" y="74.00" width="5.65" height="5.50" fill="#5a9ad6" stroke="none" stroke-width="1" />
<rect x="362.05" y="74.00" width="5.65" height="5.50" fill="#5a9ad6" stroke="none" stroke-width="1" />
<rect x="369.70" y="74.00" width="5.65" height="5.50" fill="#5a9ad6" stroke="none" stroke-width="1" />
<rect x="377.35" y="74.00" width="5.65" height="5.50" fill="#5a9ad6" stroke="none" stroke-width="1" />
<rect x="385.00" y="74.00" width="5.65" height="5.50" fill="#5a9ad6" stroke="none" stroke-width="1" />
<rect x="392.65" y="74.00" width="5.65" height="5.50" fill="#5a9ad6" stroke="none" stroke-width="1" />
<rect x="400.30" y="74.00" width="5.65" height="5.50" fill="#5a9ad6" stroke="none" stroke-width="1" />
<rect x="407.95" y="74.00" width="5.65" height="5.50" fill="#5a9ad6" stroke="none" stroke-width="1" />
<rect x="232.00" y="81.50" width="5.65" height="5.50" fill="#5a9ad6" stroke="none" stroke-width="1" />
<rect x="239.65" y="81.50" width="5.65" height="5.50" fill="#5a9ad6" stroke="none" stroke-width="1" />
<rect x="247.30" y="81.50" width="5.65" height="5.50" fill="#5a9ad6" stroke="none" stroke-width="1" />
<rect x="254.95" y="81.50" width="5.65" height="5.50" fill="#5a9ad6" stroke="none" stroke-width="1" />
<rect x="262.60" y="81.50" width="5.65" height="5.50" fill="#5a9ad6" stroke="none" stroke-width="1" />
<rect x="270.25" y="81.50" width="5.65" height="5.50" fill="#5a9ad6" stroke="none" stroke-width="1" />
<rect x="277.90" y="81.50" width="5.65" height="5.50" fill="#5a9ad6" stroke="none" stroke-width="1" />
<rect x="285.55" y="81.50" width="5.65" height="5.50" fill="#5a9ad6" stroke="none" stroke-width="1" />
<rect x="293.20" y="81.50" width="5.65" height="5.50" fill="#5a9ad6" stroke="none" stroke-width="1" />
<rect x="300.85" y="81.50" width="5.65" height="5.50" fill="#5a9ad6" stroke="none" stroke-width="1" />
<rect x="308.50" y="81.50" width="5.65" height="5.50" fill="#5a9ad6" stroke="none" stroke-width="1" />
<rect x="316.15" y="81.50" width="5.65" height="5.50" fill="#5a9ad6" stroke="none" stroke-width="1" />
<rect x="323.80" y="81.50" width="5.65" height="5.50" fill="#5a9ad6" stroke="none" stroke-width="1" />
<rect x="331.45" y="81.50" width="5.65" height="5.50" fill="#5a9ad6" stroke="none" stroke-width="1" />
<rect x="339.10" y="81.50" width="5.65" height="5.50" fill="#5a9ad6" stroke="none" stroke-width="1" />
<rect x="346.75" y="81.50" width="5.65" height="5.50" fill="#5a9ad6" stroke="none" stroke-width="1" />
<rect x="354.40" y="81.50" width="5.65" height="5.50" fill="#5a9ad6" stroke="none" stroke-width="1" />
<rect x="362.05" y="81.50" width="5.65" height="5.50" fill="#5a9ad6" stroke="none" stroke-width="1" />
<rect x="369.70" y="81.50" width="5.65" height="5.50" fill="#5a9ad6" stroke="none" stroke-width="1" />
<rect x="377.35" y="81.50" width="5.65" height="5.50" fill="#5a9ad6" stroke="none" stroke-width="1" />
<rect x="385.00" y="81.50" width="5.65" height="5.50" fill="#5a9ad6" stroke="none" stroke-width="1" />
<rect x="392.65" y="81.50" width="5.65" height="5.50" fill="#5a9ad6" stroke="none" stroke-width="1" />
<rect x="400.30" y="81.50" width="5.65" height="5.50" fill="#5a9ad6" stroke="none" stroke-width="1" />
<rect x="407.95" y="81.50" width="5.65" height="5.50" fill="#5a9ad6" stroke="none" stroke-width="1" />
<circle cx="238.65" cy="35.50" r="0.45" fill="#f4f4f4"/>
<circle cx="246.30" cy="35.50" r="0.45" fill="#f4f4f4"/>
<circle cx="253.95" cy="35.50" r="0.45" fill="#f4f4f4"/>
<circle cx="261.60" cy="35.50" r="0.45" fill="#f4f4f4"/>
<circle cx="269.25" cy="35.50" r="0.45" fill="#f4f4f4"/>
<circle cx="276.90" cy="35.50" r="0.45" fill="#f4f4f4"/>
<circle cx="284.55" cy="35.50" r="0.45" fill="#f4f4f4"/>
<circle cx="292.20" cy="35.50" r="0.45" fill="#f4f4f4"/>
<circle cx="299.85" cy="35.50" r="0.45" fill="#f4f4f4"/>
<circle cx="307.50" cy="35.50" r="0.45" fill="#f4f4f4"/>
<circle cx="315.15" cy="35.50" r="0.45" fill="#f4f4f4"/>
<circle cx="322.80" cy="35.50" r="0.45" fill="#f4f4f4"/>
<circle cx="330.45" cy="35.50" r="0.45" fill="#f4f4f4"/>
<circle cx="338.10" cy="35.50" r="0.45" fill="#f4f4f4"/>
<circle cx="345.75" cy="35.50" r="0.45" fill="#f4f4f4"/>
<circle cx="353.40" cy="35.50" r="0.45" fill="#f4f4f4"/>
<circle cx="361.05" cy="35.50" r="0.45" fill="#f4f4f4"/>
<circle cx="368.70" cy="35.50" r="0.45" fill="#f4f4f4"/>
<circle cx="376.35" cy="35.50" r="0.45" fill="#f4f4f4"/>
<circle cx="384.00" cy="35.50" r="0.45" fill="#f4f4f4"/>
<circle cx="391.65" cy="35.50" r="0.45" fill="#f4f4f4"/>
<circle cx="399.30" cy="35.50" r="0.45" fill="#f4f4f4"/>
<circle cx="406.95" cy="35.50" r="0.45" fill="#f4f4f4"/>
<circle cx="238.65" cy="43.00" r="0.45" fill="#f4f4f4"/>
<circle cx="246.30" cy="43.00" r="0.45" fill="#f4f4f4"/>
<circle cx="253.95" cy="43.00" r="0.45" fill="#f4f4f4"/>
<circle cx="261.60" cy="43.00" r="0.45" fill="#f4f4f4"/>
<circle cx="269.25" cy="43.00" r="0.45" fill="#f4f4f4"/>
<circle cx="276.90" cy="43.00" r="0.45" fill="#f4f4f4"/>
<circle cx="284.55" cy="43.00" r="0.45" fill="#f4f4f4"/>
<circle cx="292.20" cy="43.00" r="0.45" fill="#f4f4f4"/>
<circle cx="299.85" cy="43.00" r="0.45" fill="#f4f4f4"/>
<circle cx="307.50" cy="43.00" r="0.45" fill="#f4f4f4"/>
<circle cx="315.15" cy="43.00" r="0.45" fill="#f4f4f4"/>
<circle cx="322.80" cy="43.00" r="0.45" fill="#f4f4f4"/>
<circle cx="330.45" cy="43.00" r="0.45" fill="#f4f4f4"/>
<circle cx="338.10" cy="43.00" r="0.45" fill="#f4f4f4"/>
<circle cx="345.75" cy="43.00" r="0.45" fill="#f4f4f4"/>
<circle cx="353.40" cy="43.00" r="0.45" fill="#f4f4f4"/>
<circle cx="361.05" cy="43.00" r="0.45" fill="#f4f4f4"/>
<circle cx="368.70" cy="43.00" r="0.45" fill="#f4f4f4"/>
<circle cx="376.35" cy="43.00" r="0.45" fill="#f4f4f4"/>
<circle cx="384.00" cy="43.00" r="0.45" fill="#f4f4f4"/>
<circle cx="391.65" cy="43.00" r="0.45" fill="#f4f4f4"/>
<circle cx="399.30" cy="43.00" r="0.45" fill="#f4f4f4"/>
<circle cx="406.95" cy="43.00" r="0.45" fill="#f4f4f4"/>
<circle cx="238.65" cy="50.50" r="0.45" fill="#f4f4f4"/>
<circle cx="246.30" cy="50.50" r="0.45" fill="#f4f4f4"/>
<circle cx="253.95" cy="50.50" r="0.45" fill="#f4f4f4"/>
<circle cx="261.60" cy="50.50" r="0.45" fill="#f4f4f4"/>
<circle cx="269.25" cy="50.50" r="0.45" fill="#f4f4f4"/>
<circle cx="276.90" cy="50.50" r="0.45" fill="#f4f4f4"/>
<circle cx="284.55" cy="50.50" r="0.45" fill="#f4f4f4"/>
<circle cx="292.20" cy="50.50" r="0.45" fill="#f4f4f4"/>
<circle cx="299.85" cy="50.50" r="0.45" fill="#f4f4f4"/>
<circle cx="307.50" cy="50.50" r="0.45" fill="#f4f4f4"/>
<circle cx="315.15" cy="50.50" r="0.45" fill="#f4f4f4"/>
<circle cx="322.80" cy="50.50" r="0.45" fill="#f4f4f4"/>
<circle cx="330.45" cy="50.50" r="0.45" fill="#f4f4f4"/>
<circle cx="338.10" cy="50.50" r="0.45" fill="#f4f4f4"/>
<circle cx="345.75" cy="50.50" r="0.45" fill="#f4f4f4"/>
<circle cx="353.40" cy="50.50" r="0.45" fill="#f4f4f4"/>
<circle cx="361.05" cy="50.50" r="0.45" fill="#f4f4f4"/>
<circle cx="368.70" cy="50.50" r="0.45" fill="#f4f4f4"/>
<circle cx="376.35" cy="50.50" r="0.45" fill="#f4f4f4"/>
<circle cx="384.00" cy="50.50" r="0.45" fill="#f4f4f4"/>
<circle cx="391.65" cy="50.50" r="0.45" fill="#f4f4f4"/>
<circle cx="399.30" cy="50.50" r="0.45" fill="#f4f4f4"/>
<circle cx="406.95" cy="50.50" r="0.45" fill="#f4f4f4"/>
<circle cx="238.65" cy="58.00" r="0.45" fill="#f4f4f4"/>
<circle cx="246.30" cy="58.00" r="0.45" fill="#f4f4f4"/>
<circle cx="253.95" cy="58.00" r="0.45" fill="#f4f4f4"/>
<circle cx="261.60" cy="58.00" r="0.45" fill="#f4f4f4"/>
<circle cx="269.25" cy="58.00" r="0.45" fill="#f4f4f4"/>
<circle cx="276.90" cy="58.00" r="0.45" fill="#f4f4f4"/>
<circle cx="284.55" cy="58.00" r="0.45" fill="#f4f4f4"/>
<circle cx="292.20" cy="58.00" r="0.45" fill="#f4f4f4"/>
<circle cx="299.85" cy="58.00" r="0.45" fill="#f4f4f4"/>
<circle cx="307.50" cy="58.00" r="0.45" fill="#f4f4f4"/>
<circle cx="315.15" cy="58.00" r="0.45" fill="#f4f4f4"/>
<circle cx="322.80" cy="58.00" r="0.45" fill="#f4f4f4"/>
<circle cx="330.45" cy="58.00" r="0.45" fill="#f4f4f4"/>
<circle cx="338.10" cy="58.00" r="0.45" fill="#f4f4f4"/>
<circle cx="345.75" cy="58.00" r="0.45" fill="#f4f4f4"/>
<circle cx="353.40" cy="58.00" r="0.45" fill="#f4f4f4"/>
<circle cx="361.05" cy="58.00" r="0.45" fill="#f4f4f4"/>
<circle cx="368.70" cy="58.00" r="0.45" fill="#f4f4f4"/>
<circle cx="376.35" cy="58.00" r="0.45" fill="#f4f4f4"/>
<circle cx="384.00" cy="58.00" r="0.45" fill="#f4f4f4"/>
<circle cx="391.65" cy="58.00" r="0.45" fill="#f4f4f4"/>
<circle cx="399.30" cy="58.00" r="0.45" fill="#f4f4f4"/>
<circle cx="406.95" cy="58.00" r="0.45" fill="#f4f4f4"/>
<circle cx="238.65" cy="65.50" r="0.45" fill="#f4f4f4"/>
<circle cx="246.30" cy="65.50" r="0.45" fill="#f4f4f4"/>
<circle cx="253.95" cy="65.50" r="0.45" fill="#f4f4f4"/>
<circle cx="261.60" cy="65.50" r="0.45" fill="#f4f4f4"/>
<circle cx="269.25" cy="65.50" r="0.45" fill="#f4f4f4"/>
<circle cx="276.90" cy="65.50" r="0.45" fill="#f4f4f4"/>
<circle cx="284.55" cy="65.50" r="0.45" fill="#f4f4f4"/>
<circle cx="292.20" cy="65.50" r="0.45" fill="#f4f4f4"/>
<circle cx="299.85" cy="65.50" r="0.45" fill="#f4f4f4"/>
<circle cx="307.50" cy="65.50" r="0.45" fill="#f4f4f4"/>
<circle cx="315.15" cy="65.50" r="0.45" fill="#f4f4f4"/>
<circle cx="322.80" cy="65.50" r="0.45" fill="#f4f4f4"/>
<circle cx="330.45" cy="65.50" r="0.45" fill="#f4f4f4"/>
<circle cx="338.10" cy="65.50" r="0.45" fill="#f4f4f4"/>
<circle cx="345.75" cy="65.50" r="0.45" fill="#f4f4f4"/>
<circle cx="353.40" cy="65.50" r="0.45" fill="#f4f4f4"/>
<circle cx="361.05" cy="65.50" r="0.45" fill="#f4f4f4"/>
<circle cx="368.70" cy="65.50" r="0.45" fill="#f4f4f4"/>
<circle cx="376.35" cy="65.50" r="0.45" fill="#f4f4f4"/>
<circle cx="384.00" cy="65.50" r="0.45" fill="#f4f4f4"/>
<circle cx="391.65" cy="65.50" r="0.45" fill="#f4f4f4"/>
<circle cx="399.30" cy="65.50" r="0.45" fill="#f4f4f4"/>
<circle cx="406.95" cy="65.50" r="0.45" fill="#f4f4f4"/>
<circle cx="238.65" cy="73.00" r="0.45" fill="#f4f4f4"/>
<circle cx="246.30" cy="73.00" r="0.45" fill="#f4f4f4"/>
<circle cx="253.95" cy="73.00" r="0.45" fill="#f4f4f4"/>
<circle cx="261.60" cy="73.00" r="0.45" fill="#f4f4f4"/>
<circle cx="269.25" cy="73.00" r="0.45" fill="#f4f4f4"/>
<circle cx="276.90" cy="73.00" r="0.45" fill="#f4f4f4"/>
<circle cx="284.55" cy="73.00" r="0.45" fill="#f4f4f4"/>
<circle cx="292.20" cy="73.00" r="0.45" fill="#f4f4f4"/>
<circle cx="299.85" cy="73.00" r="0.45" fill="#f4f4f4"/>
<circle cx="307.50" cy="73.00" r="0.45" fill="#f4f4f4"/>
<circle cx="315.15" cy="73.00" r="0.45" fill="#f4f4f4"/>
<circle cx="322.80" cy="73.00" r="0.45" fill="#f4f4f4"/>
<circle cx="330.45" cy="73.00" r="0.45" fill="#f4f4f4"/>
<circle cx="338.10" cy="73.00" r="0.45" fill="#f4f4f4"/>
<circle cx="345.75" cy="73.00" r="0.45" fill="#f4f4f4"/>
<circle cx="353.40" cy="73.00" r="0.45" fill="#f4f4f4"/>
<circle cx="361.05" cy="73.00" r="0.45" fill="#f4f4f4"/>
<circle cx="368.70" cy="73.00" r="0.45" fill="#f4f4f4"/>
<circle cx="376.35" cy="73.00" r="0.45" fill="#f4f4f4"/>
<circle cx="384.00" cy="73.00" r="0.45" fill="#f4f4f4"/>
<circle cx="391.65" cy="73.00" r="0.45" fill="#f4f4f4"/>
<circle cx="399.30" cy="73.00" r="0.45" fill="#f4f4f4"/>
<circle cx="406.95" cy="73.00" r="0.45" fill="#f4f4f4"/>
<circle cx="238.65" cy="80.50" r="0.45" fill="#f4f4f4"/>
<circle cx="246.30" cy="80.50" r="0.45" fill="#f4f4f4"/>
<circle cx="253.95" cy="80.50" r="0.45" fill="#f4f4f4"/>
<circle cx="261.60" cy="80.50" r="0.45" fill="#f4f4f4"/>
<circle cx="269.25" cy="80.50" r="0.45" fill="#f4f4f4"/>
<circle cx="276.90" cy="80.50" r="0.45" fill="#f4f4f4"/>
<circle cx="284.55" cy="80.50" r="0.45" fill="#f4f4f4"/>
<circle cx="292.20" cy="80.50" r="0.45" fill="#f4f4f4"/>
<circle cx="299.85" cy="80.50" r="0.45" fill="#f4f4f4"/>
<circle cx="307.50" cy="80.50" r="0.45" fill="#f4f4f4"/>
<circle cx="315.15" cy="80.50" r="0.45" fill="#f4f4f4"/>
<circle cx="322.80" cy="80.50" r="0.45" fill="#f4f4f4"/>
<circle cx="330.45" cy="80.50" r="0.45" fill="#f4f4f4"/>
<circle cx="338.10" cy="80.50" r="0.45" fill="#f4f4f4"/>
<circle cx="345.75" cy="80.50" r="0.45" fill="#f4f4f4"/>
<circle cx="353.40" cy="80.50" r="0.45" fill="#f4f4f4"/>
<circle cx="361.05" cy="80.50" r="0.45" fill="#f4f4f4"/>
<circle cx="368.70" cy="80.50" r="0.45" fill="#f4f4f4"/>
<circle cx="376.35" cy="80.50" r="0.45" fill="#f4f4f4"/>
<circle cx="384.00" cy="80.50" r="0.45" fill="#f4f4f4"/>
<circle cx="391.65" cy="80.50" r="0.45" fill="#f4f4f4"/>
<circle cx="399.30" cy="80.50" r="0.45" fill="#f4f4f4"/>
<circle cx="406.95" cy="80.50" r="0.45" fill="#f4f4f4"/>
<rect x="231.00" y="95.50" width="183.60" height="52.50" fill="#203b58" stroke="none" stroke-width="1" />
<line x1="238.65" y1="95.50" x2="238.65" y2="148.00" stroke="#d0d7de" stroke-width="0.65" />
<line x1="246.30" y1="95.50" x2="246.30" y2="148.00" stroke="#d0d7de" stroke-width="0.65" />
<line x1="253.95" y1="95.50" x2="253.95" y2="148.00" stroke="#d0d7de" stroke-width="0.65" />
<line x1="261.60" y1="95.50" x2="261.60" y2="148.00" stroke="#d0d7de" stroke-width="0.65" />
<line x1="269.25" y1="95.50" x2="269.25" y2="148.00" stroke="#d0d7de" stroke-width="0.65" />
<line x1="276.90" y1="95.50" x2="276.90" y2="148.00" stroke="#d0d7de" stroke-width="0.65" />
<line x1="284.55" y1="95.50" x2="284.55" y2="148.00" stroke="#d0d7de" stroke-width="0.65" />
<line x1="292.20" y1="95.50" x2="292.20" y2="148.00" stroke="#d0d7de" stroke-width="0.65" />
<line x1="299.85" y1="95.50" x2="299.85" y2="148.00" stroke="#d0d7de" stroke-width="0.65" />
<line x1="307.50" y1="95.50" x2="307.50" y2="148.00" stroke="#d0d7de" stroke-width="0.65" />
<line x1="315.15" y1="95.50" x2="315.15" y2="148.00" stroke="#d0d7de" stroke-width="0.65" />
<line x1="322.80" y1="95.50" x2="322.80" y2="148.00" stroke="#d0d7de" stroke-width="0.65" />
<line x1="330.45" y1="95.50" x2="330.45" y2="148.00" stroke="#d0d7de" stroke-width="0.65" />
<line x1="338.10" y1="95.50" x2="338.10" y2="148.00" stroke="#d0d7de" stroke-width="0.65" />
<line x1="345.75" y1="95.50" x2="345.75" y2="148.00" stroke="#d0d7de" stroke-width="0.65" />
<line x1="353.40" y1="95.50" x2="353.40" y2="148.00" stroke="#d0d7de" stroke-width="0.65" />
<line x1="361.05" y1="95.50" x2="361.05" y2="148.00" stroke="#d0d7de" stroke-width="0.65" />
<line x1="368.70" y1="95.50" x2="368.70" y2="148.00" stroke="#d0d7de" stroke-width="0.65" />
<line x1="376.35" y1="95.50" x2="376.35" y2="148.00" stroke="#d0d7de" stroke-width="0.65" />
<line x1="384.00" y1="95.50" x2="384.00" y2="148.00" stroke="#d0d7de" stroke-width="0.65" />
<line x1="391.65" y1="95.50" x2="391.65" y2="148.00" stroke="#d0d7de" stroke-width="0.65" />
<line x1="399.30" y1="95.50" x2="399.30" y2="148.00" stroke="#d0d7de" stroke-width="0.65" />
<line x1="406.95" y1="95.50" x2="406.95" y2="148.00" stroke="#d0d7de" stroke-width="0.65" />
<line x1="231.00" y1="103.00" x2="414.60" y2="103.00" stroke="#8d9aaa" stroke-width="0.45" />
<line x1="231.00" y1="110.50" x2="414.60" y2="110.50" stroke="#8d9aaa" stroke-width="0.45" />
<line x1="231.00" y1="118.00" x2="414.60" y2="118.00" stroke="#8d9aaa" stroke-width="0.45" />
<line x1="231.00" y1="125.50" x2="414.60" y2="125.50" stroke="#8d9aaa" stroke-width="0.45" />
<line x1="231.00" y1="133.00" x2="414.60" y2="133.00" stroke="#8d9aaa" stroke-width="0.45" />
<line x1="231.00" y1="140.50" x2="414.60" y2="140.50" stroke="#8d9aaa" stroke-width="0.45" />
<rect x="232.00" y="96.50" width="5.65" height="5.50" fill="#5a9ad6" stroke="none" stroke-width="1" />
<rect x="239.65" y="96.50" width="5.65" height="5.50" fill="#5a9ad6" stroke="none" stroke-width="1" />
<rect x="247.30" y="96.50" width="5.65" height="5.50" fill="#5a9ad6" stroke="none" stroke-width="1" />
<rect x="254.95" y="96.50" width="5.65" height="5.50" fill="#5a9ad6" stroke="none" stroke-width="1" />
<rect x="262.60" y="96.50" width="5.65" height="5.50" fill="#5a9ad6" stroke="none" stroke-width="1" />
<rect x="270.25" y="96.50" width="5.65" height="5.50" fill="#5a9ad6" stroke="none" stroke-width="1" />
<rect x="277.90" y="96.50" width="5.65" height="5.50" fill="#5a9ad6" stroke="none" stroke-width="1" />
<rect x="285.55" y="96.50" width="5.65" height="5.50" fill="#5a9ad6" stroke="none" stroke-width="1" />
<rect x="293.20" y="96.50" width="5.65" height="5.50" fill="#5a9ad6" stroke="none" stroke-width="1" />
<rect x="300.85" y="96.50" width="5.65" height="5.50" fill="#5a9ad6" stroke="none" stroke-width="1" />
<rect x="308.50" y="96.50" width="5.65" height="5.50" fill="#5a9ad6" stroke="none" stroke-width="1" />
<rect x="316.15" y="96.50" width="5.65" height="5.50" fill="#5a9ad6" stroke="none" stroke-width="1" />
<rect x="323.80" y="96.50" width="5.65" height="5.50" fill="#5a9ad6" stroke="none" stroke-width="1" />
<rect x="331.45" y="96.50" width="5.65" height="5.50" fill="#5a9ad6" stroke="none" stroke-width="1" />
<rect x="339.10" y="96.50" width="5.65" height="5.50" fill="#5a9ad6" stroke="none" stroke-width="1" />
<rect x="346.75" y="96.50" width="5.65" height="5.50" fill="#5a9ad6" stroke="none" stroke-width="1" />
<rect x="354.40" y="96.50" width="5.65" height="5.50" fill="#5a9ad6" stroke="none" stroke-width="1" />
<rect x="362.05" y="96.50" width="5.65" height="5.50" fill="#5a9ad6" stroke="none" stroke-width="1" />
<rect x="369.70" y="96.50" width="5.65" height="5.50" fill="#5a9ad6" stroke="none" stroke-width="1" />
<rect x="377.35" y="96.50" width="5.65" height="5.50" fill="#5a9ad6" stroke="none" stroke-width="1" />
<rect x="385.00" y="96.50" width="5.65" height="5.50" fill="#5a9ad6" stroke="none" stroke-width="1" />
<rect x="392.65" y="96.50" width="5.65" height="5.50" fill="#5a9ad6" stroke="none" stroke-width="1" />
<rect x="400.30" y="96.50" width="5.65" height="5.50" fill="#5a9ad6" stroke="none" stroke-width="1" />
<rect x="407.95" y="96.50" width="5.65" height="5.50" fill="#5a9ad6" stroke="none" stroke-width="1" />
<rect x="232.00" y="104.00" width="5.65" height="5.50" fill="#5a9ad6" stroke="none" stroke-width="1" />
<rect x="239.65" y="104.00" width="5.65" height="5.50" fill="#5a9ad6" stroke="none" stroke-width="1" />
<rect x="247.30" y="104.00" width="5.65" height="5.50" fill="#5a9ad6" stroke="none" stroke-width="1" />
<rect x="254.95" y="104.00" width="5.65" height="5.50" fill="#5a9ad6" stroke="none" stroke-width="1" />
<rect x="262.60" y="104.00" width="5.65" height="5.50" fill="#5a9ad6" stroke="none" stroke-width="1" />
<rect x="270.25" y="104.00" width="5.65" height="5.50" fill="#5a9ad6" stroke="none" stroke-width="1" />
<rect x="277.90" y="104.00" width="5.65" height="5.50" fill="#5a9ad6" stroke="none" stroke-width="1" />
<rect x="285.55" y="104.00" width="5.65" height="5.50" fill="#5a9ad6" stroke="none" stroke-width="1" />
<rect x="293.20" y="104.00" width="5.65" height="5.50" fill="#5a9ad6" stroke="none" stroke-width="1" />
<rect x="300.85" y="104.00" width="5.65" height="5.50" fill="#5a9ad6" stroke="none" stroke-width="1" />
<rect x="308.50" y="104.00" width="5.65" height="5.50" fill="#5a9ad6" stroke="none" stroke-width="1" />
<rect x="316.15" y="104.00" width="5.65" height="5.50" fill="#5a9ad6" stroke="none" stroke-width="1" />
<rect x="323.80" y="104.00" width="5.65" height="5.50" fill="#5a9ad6" stroke="none" stroke-width="1" />
<rect x="331.45" y="104.00" width="5.65" height="5.50" fill="#5a9ad6" stroke="none" stroke-width="1" />
<rect x="339.10" y="104.00" width="5.65" height="5.50" fill="#5a9ad6" stroke="none" stroke-width="1" />
<rect x="346.75" y="104.00" width="5.65" height="5.50" fill="#5a9ad6" stroke="none" stroke-width="1" />
<rect x="354.40" y="104.00" width="5.65" height="5.50" fill="#5a9ad6" stroke="none" stroke-width="1" />
<rect x="362.05" y="104.00" width="5.65" height="5.50" fill="#5a9ad6" stroke="none" stroke-width="1" />
<rect x="369.70" y="104.00" width="5.65" height="5.50" fill="#5a9ad6" stroke="none" stroke-width="1" />
<rect x="377.35" y="104.00" width="5.65" height="5.50" fill="#5a9ad6" stroke="none" stroke-width="1" />
<rect x="385.00" y="104.00" width="5.65" height="5.50" fill="#5a9ad6" stroke="none" stroke-width="1" />
<rect x="392.65" y="104.00" width="5.65" height="5.50" fill="#5a9ad6" stroke="none" stroke-width="1" />
<rect x="400.30" y="104.00" width="5.65" height="5.50" fill="#5a9ad6" stroke="none" stroke-width="1" />
<rect x="407.95" y="104.00" width="5.65" height="5.50" fill="#5a9ad6" stroke="none" stroke-width="1" />
<rect x="232.00" y="111.50" width="5.65" height="5.50" fill="#5a9ad6" stroke="none" stroke-width="1" />
<rect x="239.65" y="111.50" width="5.65" height="5.50" fill="#5a9ad6" stroke="none" stroke-width="1" />
<rect x="247.30" y="111.50" width="5.65" height="5.50" fill="#5a9ad6" stroke="none" stroke-width="1" />
<rect x="254.95" y="111.50" width="5.65" height="5.50" fill="#5a9ad6" stroke="none" stroke-width="1" />
<rect x="262.60" y="111.50" width="5.65" height="5.50" fill="#5a9ad6" stroke="none" stroke-width="1" />
<rect x="270.25" y="111.50" width="5.65" height="5.50" fill="#5a9ad6" stroke="none" stroke-width="1" />
<rect x="277.90" y="111.50" width="5.65" height="5.50" fill="#5a9ad6" stroke="none" stroke-width="1" />
<rect x="285.55" y="111.50" width="5.65" height="5.50" fill="#5a9ad6" stroke="none" stroke-width="1" />
<rect x="293.20" y="111.50" width="5.65" height="5.50" fill="#5a9ad6" stroke="none" stroke-width="1" />
<rect x="300.85" y="111.50" width="5.65" height="5.50" fill="#5a9ad6" stroke="none" stroke-width="1" />
<rect x="308.50" y="111.50" width="5.65" height="5.50" fill="#5a9ad6" stroke="none" stroke-width="1" />
<rect x="316.15" y="111.50" width="5.65" height="5.50" fill="#5a9ad6" stroke="none" stroke-width="1" />
<rect x="323.80" y="111.50" width="5.65" height="5.50" fill="#5a9ad6" stroke="none" stroke-width="1" />
<rect x="331.45" y="111.50" width="5.65" height="5.50" fill="#5a9ad6" stroke="none" stroke-width="1" />
<rect x="339.10" y="111.50" width="5.65" height="5.50" fill="#5a9ad6" stroke="none" stroke-width="1" />
<rect x="346.75" y="111.50" width="5.65" height="5.50" fill="#5a9ad6" stroke="none" stroke-width="1" />
<rect x="354.40" y="111.50" width="5.65" height="5.50" fill="#5a9ad6" stroke="none" stroke-width="1" />
<rect x="362.05" y="111.50" width="5.65" height="5.50" fill="#5a9ad6" stroke="none" stroke-width="1" />
<rect x="369.70" y="111.50" width="5.65" height="5.50" fill="#5a9ad6" stroke="none" stroke-width="1" />
<rect x="377.35" y="111.50" width="5.65" height="5.50" fill="#5a9ad6" stroke="none" stroke-width="1" />
<rect x="385.00" y="111.50" width="5.65" height="5.50" fill="#5a9ad6" stroke="none" stroke-width="1" />
<rect x="392.65" y="111.50" width="5.65" height="5.50" fill="#5a9ad6" stroke="none" stroke-width="1" />
<rect x="400.30" y="111.50" width="5.65" height="5.50" fill="#5a9ad6" stroke="none" stroke-width="1" />
<rect x="407.95" y="111.50" width="5.65" height="5.50" fill="#5a9ad6" stroke="none" stroke-width="1" />
<rect x="232.00" y="119.00" width="5.65" height="5.50" fill="#5a9ad6" stroke="none" stroke-width="1" />
<rect x="239.65" y="119.00" width="5.65" height="5.50" fill="#5a9ad6" stroke="none" stroke-width="1" />
<rect x="247.30" y="119.00" width="5.65" height="5.50" fill="#5a9ad6" stroke="none" stroke-width="1" />
<rect x="254.95" y="119.00" width="5.65" height="5.50" fill="#5a9ad6" stroke="none" stroke-width="1" />
<rect x="262.60" y="119.00" width="5.65" height="5.50" fill="#5a9ad6" stroke="none" stroke-width="1" />
<rect x="270.25" y="119.00" width="5.65" height="5.50" fill="#5a9ad6" stroke="none" stroke-width="1" />
<rect x="277.90" y="119.00" width="5.65" height="5.50" fill="#5a9ad6" stroke="none" stroke-width="1" />
<rect x="285.55" y="119.00" width="5.65" height="5.50" fill="#5a9ad6" stroke="none" stroke-width="1" />
<rect x="293.20" y="119.00" width="5.65" height="5.50" fill="#5a9ad6" stroke="none" stroke-width="1" />
<rect x="300.85" y="119.00" width="5.65" height="5.50" fill="#5a9ad6" stroke="none" stroke-width="1" />
<rect x="308.50" y="119.00" width="5.65" height="5.50" fill="#5a9ad6" stroke="none" stroke-width="1" />
<rect x="316.15" y="119.00" width="5.65" height="5.50" fill="#5a9ad6" stroke="none" stroke-width="1" />
<rect x="323.80" y="119.00" width="5.65" height="5.50" fill="#5a9ad6" stroke="none" stroke-width="1" />
<rect x="331.45" y="119.00" width="5.65" height="5.50" fill="#5a9ad6" stroke="none" stroke-width="1" />
<rect x="339.10" y="119.00" width="5.65" height="5.50" fill="#5a9ad6" stroke="none" stroke-width="1" />
<rect x="346.75" y="119.00" width="5.65" height="5.50" fill="#5a9ad6" stroke="none" stroke-width="1" />
<rect x="354.40" y="119.00" width="5.65" height="5.50" fill="#5a9ad6" stroke="none" stroke-width="1" />
<rect x="362.05" y="119.00" width="5.65" height="5.50" fill="#5a9ad6" stroke="none" stroke-width="1" />
<rect x="369.70" y="119.00" width="5.65" height="5.50" fill="#5a9ad6" stroke="none" stroke-width="1" />
<rect x="377.35" y="119.00" width="5.65" height="5.50" fill="#5a9ad6" stroke="none" stroke-width="1" />
<rect x="385.00" y="119.00" width="5.65" height="5.50" fill="#5a9ad6" stroke="none" stroke-width="1" />
<rect x="392.65" y="119.00" width="5.65" height="5.50" fill="#5a9ad6" stroke="none" stroke-width="1" />
<rect x="400.30" y="119.00" width="5.65" height="5.50" fill="#5a9ad6" stroke="none" stroke-width="1" />
<rect x="407.95" y="119.00" width="5.65" height="5.50" fill="#5a9ad6" stroke="none" stroke-width="1" />
<rect x="232.00" y="126.50" width="5.65" height="5.50" fill="#5a9ad6" stroke="none" stroke-width="1" />
<rect x="239.65" y="126.50" width="5.65" height="5.50" fill="#5a9ad6" stroke="none" stroke-width="1" />
<rect x="247.30" y="126.50" width="5.65" height="5.50" fill="#5a9ad6" stroke="none" stroke-width="1" />
<rect x="254.95" y="126.50" width="5.65" height="5.50" fill="#5a9ad6" stroke="none" stroke-width="1" />
<rect x="262.60" y="126.50" width="5.65" height="5.50" fill="#5a9ad6" stroke="none" stroke-width="1" />
<rect x="270.25" y="126.50" width="5.65" height="5.50" fill="#5a9ad6" stroke="none" stroke-width="1" />
<rect x="277.90" y="126.50" width="5.65" height="5.50" fill="#5a9ad6" stroke="none" stroke-width="1" />
<rect x="285.55" y="126.50" width="5.65" height="5.50" fill="#5a9ad6" stroke="none" stroke-width="1" />
<rect x="293.20" y="126.50" width="5.65" height="5.50" fill="#5a9ad6" stroke="none" stroke-width="1" />
<rect x="300.85" y="126.50" width="5.65" height="5.50" fill="#5a9ad6" stroke="none" stroke-width="1" />
<rect x="308.50" y="126.50" width="5.65" height="5.50" fill="#5a9ad6" stroke="none" stroke-width="1" />
<rect x="316.15" y="126.50" width="5.65" height="5.50" fill="#5a9ad6" stroke="none" stroke-width="1" />
<rect x="323.80" y="126.50" width="5.65" height="5.50" fill="#5a9ad6" stroke="none" stroke-width="1" />
<rect x="331.45" y="126.50" width="5.65" height="5.50" fill="#5a9ad6" stroke="none" stroke-width="1" />
<rect x="339.10" y="126.50" width="5.65" height="5.50" fill="#5a9ad6" stroke="none" stroke-width="1" />
<rect x="346.75" y="126.50" width="5.65" height="5.50" fill="#5a9ad6" stroke="none" stroke-width="1" />
<rect x="354.40" y="126.50" width="5.65" height="5.50" fill="#5a9ad6" stroke="none" stroke-width="1" />
<rect x="362.05" y="126.50" width="5.65" height="5.50" fill="#5a9ad6" stroke="none" stroke-width="1" />
<rect x="369.70" y="126.50" width="5.65" height="5.50" fill="#5a9ad6" stroke="none" stroke-width="1" />
<rect x="377.35" y="126.50" width="5.65" height="5.50" fill="#5a9ad6" stroke="none" stroke-width="1" />
<rect x="385.00" y="126.50" width="5.65" height="5.50" fill="#5a9ad6" stroke="none" stroke-width="1" />
<rect x="392.65" y="126.50" width="5.65" height="5.50" fill="#5a9ad6" stroke="none" stroke-width="1" />
<rect x="400.30" y="126.50" width="5.65" height="5.50" fill="#5a9ad6" stroke="none" stroke-width="1" />
<rect x="407.95" y="126.50" width="5.65" height="5.50" fill="#5a9ad6" stroke="none" stroke-width="1" />
<rect x="232.00" y="134.00" width="5.65" height="5.50" fill="#5a9ad6" stroke="none" stroke-width="1" />
<rect x="239.65" y="134.00" width="5.65" height="5.50" fill="#5a9ad6" stroke="none" stroke-width="1" />
<rect x="247.30" y="134.00" width="5.65" height="5.50" fill="#5a9ad6" stroke="none" stroke-width="1" />
<rect x="254.95" y="134.00" width="5.65" height="5.50" fill="#5a9ad6" stroke="none" stroke-width="1" />
<rect x="262.60" y="134.00" width="5.65" height="5.50" fill="#5a9ad6" stroke="none" stroke-width="1" />
<rect x="270.25" y="134.00" width="5.65" height="5.50" fill="#5a9ad6" stroke="none" stroke-width="1" />
<rect x="277.90" y="134.00" width="5.65" height="5.50" fill="#5a9ad6" stroke="none" stroke-width="1" />
<rect x="285.55" y="134.00" width="5.65" height="5.50" fill="#5a9ad6" stroke="none" stroke-width="1" />
<rect x="293.20" y="134.00" width="5.65" height="5.50" fill="#5a9ad6" stroke="none" stroke-width="1" />
<rect x="300.85" y="134.00" width="5.65" height="5.50" fill="#5a9ad6" stroke="none" stroke-width="1" />
<rect x="308.50" y="134.00" width="5.65" height="5.50" fill="#5a9ad6" stroke="none" stroke-width="1" />
<rect x="316.15" y="134.00" width="5.65" height="5.50" fill="#5a9ad6" stroke="none" stroke-width="1" />
<rect x="323.80" y="134.00" width="5.65" height="5.50" fill="#5a9ad6" stroke="none" stroke-width="1" />
<rect x="331.45" y="134.00" width="5.65" height="5.50" fill="#5a9ad6" stroke="none" stroke-width="1" />
<rect x="339.10" y="134.00" width="5.65" height="5.50" fill="#5a9ad6" stroke="none" stroke-width="1" />
<rect x="346.75" y="134.00" width="5.65" height="5.50" fill="#5a9ad6" stroke="none" stroke-width="1" />
<rect x="354.40" y="134.00" width="5.65" height="5.50" fill="#5a9ad6" stroke="none" stroke-width="1" />
<rect x="362.05" y="134.00" width="5.65" height="5.50" fill="#5a9ad6" stroke="none" stroke-width="1" />
<rect x="369.70" y="134.00" width="5.65" height="5.50" fill="#5a9ad6" stroke="none" stroke-width="1" />
<rect x="377.35" y="134.00" width="5.65" height="5.50" fill="#5a9ad6" stroke="none" stroke-width="1" />
<rect x="385.00" y="134.00" width="5.65" height="5.50" fill="#5a9ad6" stroke="none" stroke-width="1" />
<rect x="392.65" y="134.00" width="5.65" height="5.50" fill="#5a9ad6" stroke="none" stroke-width="1" />
<rect x="400.30" y="134.00" width="5.65" height="5.50" fill="#5a9ad6" stroke="none" stroke-width="1" />
<rect x="407.95" y="134.00" width="5.65" height="5.50" fill="#5a9ad6" stroke="none" stroke-width="1" />
<rect x="232.00" y="141.50" width="5.65" height="5.50" fill="#5a9ad6" stroke="none" stroke-width="1" />
<rect x="239.65" y="141.50" width="5.65" height="5.50" fill="#5a9ad6" stroke="none" stroke-width="1" />
<rect x="247.30" y="141.50" width="5.65" height="5.50" fill="#5a9ad6" stroke="none" stroke-width="1" />
<rect x="254.95" y="141.50" width="5.65" height="5.50" fill="#5a9ad6" stroke="none" stroke-width="1" />
<rect x="262.60" y="141.50" width="5.65" height="5.50" fill="#5a9ad6" stroke="none" stroke-width="1" />
<rect x="270.25" y="141.50" width="5.65" height="5.50" fill="#5a9ad6" stroke="none" stroke-width="1" />
<rect x="277.90" y="141.50" width="5.65" height="5.50" fill="#5a9ad6" stroke="none" stroke-width="1" />
<rect x="285.55" y="141.50" width="5.65" height="5.50" fill="#5a9ad6" stroke="none" stroke-width="1" />
<rect x="293.20" y="141.50" width="5.65" height="5.50" fill="#5a9ad6" stroke="none" stroke-width="1" />
<rect x="300.85" y="141.50" width="5.65" height="5.50" fill="#5a9ad6" stroke="none" stroke-width="1" />
<rect x="308.50" y="141.50" width="5.65" height="5.50" fill="#5a9ad6" stroke="none" stroke-width="1" />
<rect x="316.15" y="141.50" width="5.65" height="5.50" fill="#5a9ad6" stroke="none" stroke-width="1" />
<rect x="323.80" y="141.50" width="5.65" height="5.50" fill="#5a9ad6" stroke="none" stroke-width="1" />
<rect x="331.45" y="141.50" width="5.65" height="5.50" fill="#5a9ad6" stroke="none" stroke-width="1" />
<rect x="339.10" y="141.50" width="5.65" height="5.50" fill="#5a9ad6" stroke="none" stroke-width="1" />
<rect x="346.75" y="141.50" width="5.65" height="5.50" fill="#5a9ad6" stroke="none" stroke-width="1" />
<rect x="354.40" y="141.50" width="5.65" height="5.50" fill="#5a9ad6" stroke="none" stroke-width="1" />
<rect x="362.05" y="141.50" width="5.65" height="5.50" fill="#5a9ad6" stroke="none" stroke-width="1" />
<rect x="369.70" y="141.50" width="5.65" height="5.50" fill="#5a9ad6" stroke="none" stroke-width="1" />
<rect x="377.35" y="141.50" width="5.65" height="5.50" fill="#5a9ad6" stroke="none" stroke-width="1" />
<rect x="385.00" y="141.50" width="5.65" height="5.50" fill="#5a9ad6" stroke="none" stroke-width="1" />
<rect x="392.65" y="141.50" width="5.65" height="5.50" fill="#5a9ad6" stroke="none" stroke-width="1" />
<rect x="400.30" y="141.50" width="5.65" height="5.50" fill="#5a9ad6" stroke="none" stroke-width="1" />
<rect x="407.95" y="141.50" width="5.65" height="5.50" fill="#5a9ad6" stroke="none" stroke-width="1" />
<circle cx="238.65" cy="103.00" r="0.45" fill="#f4f4f4"/>
<circle cx="246.30" cy="103.00" r="0.45" fill="#f4f4f4"/>
<circle cx="253.95" cy="103.00" r="0.45" fill="#f4f4f4"/>
<circle cx="261.60" cy="103.00" r="0.45" fill="#f4f4f4"/>
<circle cx="269.25" cy="103.00" r="0.45" fill="#f4f4f4"/>
<circle cx="276.90" cy="103.00" r="0.45" fill="#f4f4f4"/>
<circle cx="284.55" cy="103.00" r="0.45" fill="#f4f4f4"/>
<circle cx="292.20" cy="103.00" r="0.45" fill="#f4f4f4"/>
<circle cx="299.85" cy="103.00" r="0.45" fill="#f4f4f4"/>
<circle cx="307.50" cy="103.00" r="0.45" fill="#f4f4f4"/>
<circle cx="315.15" cy="103.00" r="0.45" fill="#f4f4f4"/>
<circle cx="322.80" cy="103.00" r="0.45" fill="#f4f4f4"/>
<circle cx="330.45" cy="103.00" r="0.45" fill="#f4f4f4"/>
<circle cx="338.10" cy="103.00" r="0.45" fill="#f4f4f4"/>
<circle cx="345.75" cy="103.00" r="0.45" fill="#f4f4f4"/>
<circle cx="353.40" cy="103.00" r="0.45" fill="#f4f4f4"/>
<circle cx="361.05" cy="103.00" r="0.45" fill="#f4f4f4"/>
<circle cx="368.70" cy="103.00" r="0.45" fill="#f4f4f4"/>
<circle cx="376.35" cy="103.00" r="0.45" fill="#f4f4f4"/>
<circle cx="384.00" cy="103.00" r="0.45" fill="#f4f4f4"/>
<circle cx="391.65" cy="103.00" r="0.45" fill="#f4f4f4"/>
<circle cx="399.30" cy="103.00" r="0.45" fill="#f4f4f4"/>
<circle cx="406.95" cy="103.00" r="0.45" fill="#f4f4f4"/>
<circle cx="238.65" cy="110.50" r="0.45" fill="#f4f4f4"/>
<circle cx="246.30" cy="110.50" r="0.45" fill="#f4f4f4"/>
<circle cx="253.95" cy="110.50" r="0.45" fill="#f4f4f4"/>
<circle cx="261.60" cy="110.50" r="0.45" fill="#f4f4f4"/>
<circle cx="269.25" cy="110.50" r="0.45" fill="#f4f4f4"/>
<circle cx="276.90" cy="110.50" r="0.45" fill="#f4f4f4"/>
<circle cx="284.55" cy="110.50" r="0.45" fill="#f4f4f4"/>
<circle cx="292.20" cy="110.50" r="0.45" fill="#f4f4f4"/>
<circle cx="299.85" cy="110.50" r="0.45" fill="#f4f4f4"/>
<circle cx="307.50" cy="110.50" r="0.45" fill="#f4f4f4"/>
<circle cx="315.15" cy="110.50" r="0.45" fill="#f4f4f4"/>
<circle cx="322.80" cy="110.50" r="0.45" fill="#f4f4f4"/>
<circle cx="330.45" cy="110.50" r="0.45" fill="#f4f4f4"/>
<circle cx="338.10" cy="110.50" r="0.45" fill="#f4f4f4"/>
<circle cx="345.75" cy="110.50" r="0.45" fill="#f4f4f4"/>
<circle cx="353.40" cy="110.50" r="0.45" fill="#f4f4f4"/>
<circle cx="361.05" cy="110.50" r="0.45" fill="#f4f4f4"/>
<circle cx="368.70" cy="110.50" r="0.45" fill="#f4f4f4"/>
<circle cx="376.35" cy="110.50" r="0.45" fill="#f4f4f4"/>
<circle cx="384.00" cy="110.50" r="0.45" fill="#f4f4f4"/>
<circle cx="391.65" cy="110.50" r="0.45" fill="#f4f4f4"/>
<circle cx="399.30" cy="110.50" r="0.45" fill="#f4f4f4"/>
<circle cx="406.95" cy="110.50" r="0.45" fill="#f4f4f4"/>
<circle cx="238.65" cy="118.00" r="0.45" fill="#f4f4f4"/>
<circle cx="246.30" cy="118.00" r="0.45" fill="#f4f4f4"/>
<circle cx="253.95" cy="118.00" r="0.45" fill="#f4f4f4"/>
<circle cx="261.60" cy="118.00" r="0.45" fill="#f4f4f4"/>
<circle cx="269.25" cy="118.00" r="0.45" fill="#f4f4f4"/>
<circle cx="276.90" cy="118.00" r="0.45" fill="#f4f4f4"/>
<circle cx="284.55" cy="118.00" r="0.45" fill="#f4f4f4"/>
<circle cx="292.20" cy="118.00" r="0.45" fill="#f4f4f4"/>
<circle cx="299.85" cy="118.00" r="0.45" fill="#f4f4f4"/>
<circle cx="307.50" cy="118.00" r="0.45" fill="#f4f4f4"/>
<circle cx="315.15" cy="118.00" r="0.45" fill="#f4f4f4"/>
<circle cx="322.80" cy="118.00" r="0.45" fill="#f4f4f4"/>
<circle cx="330.45" cy="118.00" r="0.45" fill="#f4f4f4"/>
<circle cx="338.10" cy="118.00" r="0.45" fill="#f4f4f4"/>
<circle cx="345.75" cy="118.00" r="0.45" fill="#f4f4f4"/>
<circle cx="353.40" cy="118.00" r="0.45" fill="#f4f4f4"/>
<circle cx="361.05" cy="118.00" r="0.45" fill="#f4f4f4"/>
<circle cx="368.70" cy="118.00" r="0.45" fill="#f4f4f4"/>
<circle cx="376.35" cy="118.00" r="0.45" fill="#f4f4f4"/>
<circle cx="384.00" cy="118.00" r="0.45" fill="#f4f4f4"/>
<circle cx="391.65" cy="118.00" r="0.45" fill="#f4f4f4"/>
<circle cx="399.30" cy="118.00" r="0.45" fill="#f4f4f4"/>
<circle cx="406.95" cy="118.00" r="0.45" fill="#f4f4f4"/>
<circle cx="238.65" cy="125.50" r="0.45" fill="#f4f4f4"/>
<circle cx="246.30" cy="125.50" r="0.45" fill="#f4f4f4"/>
<circle cx="253.95" cy="125.50" r="0.45" fill="#f4f4f4"/>
<circle cx="261.60" cy="125.50" r="0.45" fill="#f4f4f4"/>
<circle cx="269.25" cy="125.50" r="0.45" fill="#f4f4f4"/>
<circle cx="276.90" cy="125.50" r="0.45" fill="#f4f4f4"/>
<circle cx="284.55" cy="125.50" r="0.45" fill="#f4f4f4"/>
<circle cx="292.20" cy="125.50" r="0.45" fill="#f4f4f4"/>
<circle cx="299.85" cy="125.50" r="0.45" fill="#f4f4f4"/>
<circle cx="307.50" cy="125.50" r="0.45" fill="#f4f4f4"/>
<circle cx="315.15" cy="125.50" r="0.45" fill="#f4f4f4"/>
<circle cx="322.80" cy="125.50" r="0.45" fill="#f4f4f4"/>
<circle cx="330.45" cy="125.50" r="0.45" fill="#f4f4f4"/>
<circle cx="338.10" cy="125.50" r="0.45" fill="#f4f4f4"/>
<circle cx="345.75" cy="125.50" r="0.45" fill="#f4f4f4"/>
<circle cx="353.40" cy="125.50" r="0.45" fill="#f4f4f4"/>
<circle cx="361.05" cy="125.50" r="0.45" fill="#f4f4f4"/>
<circle cx="368.70" cy="125.50" r="0.45" fill="#f4f4f4"/>
<circle cx="376.35" cy="125.50" r="0.45" fill="#f4f4f4"/>
<circle cx="384.00" cy="125.50" r="0.45" fill="#f4f4f4"/>
<circle cx="391.65" cy="125.50" r="0.45" fill="#f4f4f4"/>
<circle cx="399.30" cy="125.50" r="0.45" fill="#f4f4f4"/>
<circle cx="406.95" cy="125.50" r="0.45" fill="#f4f4f4"/>
<circle cx="238.65" cy="133.00" r="0.45" fill="#f4f4f4"/>
<circle cx="246.30" cy="133.00" r="0.45" fill="#f4f4f4"/>
<circle cx="253.95" cy="133.00" r="0.45" fill="#f4f4f4"/>
<circle cx="261.60" cy="133.00" r="0.45" fill="#f4f4f4"/>
<circle cx="269.25" cy="133.00" r="0.45" fill="#f4f4f4"/>
<circle cx="276.90" cy="133.00" r="0.45" fill="#f4f4f4"/>
<circle cx="284.55" cy="133.00" r="0.45" fill="#f4f4f4"/>
<circle cx="292.20" cy="133.00" r="0.45" fill="#f4f4f4"/>
<circle cx="299.85" cy="133.00" r="0.45" fill="#f4f4f4"/>
<circle cx="307.50" cy="133.00" r="0.45" fill="#f4f4f4"/>
<circle cx="315.15" cy="133.00" r="0.45" fill="#f4f4f4"/>
<circle cx="322.80" cy="133.00" r="0.45" fill="#f4f4f4"/>
<circle cx="330.45" cy="133.00" r="0.45" fill="#f4f4f4"/>
<circle cx="338.10" cy="133.00" r="0.45" fill="#f4f4f4"/>
<circle cx="345.75" cy="133.00" r="0.45" fill="#f4f4f4"/>
<circle cx="353.40" cy="133.00" r="0.45" fill="#f4f4f4"/>
<circle cx="361.05" cy="133.00" r="0.45" fill="#f4f4f4"/>
<circle cx="368.70" cy="133.00" r="0.45" fill="#f4f4f4"/>
<circle cx="376.35" cy="133.00" r="0.45" fill="#f4f4f4"/>
<circle cx="384.00" cy="133.00" r="0.45" fill="#f4f4f4"/>
<circle cx="391.65" cy="133.00" r="0.45" fill="#f4f4f4"/>
<circle cx="399.30" cy="133.00" r="0.45" fill="#f4f4f4"/>
<circle cx="406.95" cy="133.00" r="0.45" fill="#f4f4f4"/>
<circle cx="238.65" cy="140.50" r="0.45" fill="#f4f4f4"/>
<circle cx="246.30" cy="140.50" r="0.45" fill="#f4f4f4"/>
<circle cx="253.95" cy="140.50" r="0.45" fill="#f4f4f4"/>
<circle cx="261.60" cy="140.50" r="0.45" fill="#f4f4f4"/>
<circle cx="269.25" cy="140.50" r="0.45" fill="#f4f4f4"/>
<circle cx="276.90" cy="140.50" r="0.45" fill="#f4f4f4"/>
<circle cx="284.55" cy="140.50" r="0.45" fill="#f4f4f4"/>
<circle cx="292.20" cy="140.50" r="0.45" fill="#f4f4f4"/>
<circle cx="299.85" cy="140.50" r="0.45" fill="#f4f4f4"/>
<circle cx="307.50" cy="140.50" r="0.45" fill="#f4f4f4"/>
<circle cx="315.15" cy="140.50" r="0.45" fill="#f4f4f4"/>
<circle cx="322.80" cy="140.50" r="0.45" fill="#f4f4f4"/>
<circle cx="330.45" cy="140.50" r="0.45" fill="#f4f4f4"/>
<circle cx="338.10" cy="140.50" r="0.45" fill="#f4f4f4"/>
<circle cx="345.75" cy="140.50" r="0.45" fill="#f4f4f4"/>
<circle cx="353.40" cy="140.50" r="0.45" fill="#f4f4f4"/>
<circle cx="361.05" cy="140.50" r="0.45" fill="#f4f4f4"/>
<circle cx="368.70" cy="140.50" r="0.45" fill="#f4f4f4"/>
<circle cx="376.35" cy="140.50" r="0.45" fill="#f4f4f4"/>
<circle cx="384.00" cy="140.50" r="0.45" fill="#f4f4f4"/>
<circle cx="391.65" cy="140.50" r="0.45" fill="#f4f4f4"/>
<circle cx="399.30" cy="140.50" r="0.45" fill="#f4f4f4"/>
<circle cx="406.95" cy="140.50" r="0.45" fill="#f4f4f4"/>
<rect x="323.10" y="88.50" width="7.05" height="6.50" fill="#16222e" stroke="none" stroke-width="1" />
<rect x="238.95" y="88.50" width="7.05" height="6.50" fill="#16222e" stroke="none" stroke-width="1" />
<polyline points="107.5,15.3 0.6,15.3 0.6,87.3 107.5,87.3" fill="none" stroke="#b03644" stroke-width="1.1"/>
<polyline points="107.5,87.3 107.5,15.3" fill="none" stroke="#b03644" stroke-width="1.1"/>
<polyline points="108.2,15.3 208.5,15.3 208.5,87.3 108.2,87.3 108.2,15.3" fill="none" stroke="#3e5f8f" stroke-width="1.0"/>
<rect x="0.60" y="95.20" width="207.90" height="58.00" fill="none" stroke="#6cc49a" stroke-width="1.0" />
<text x="28.60" y="12.30" font-size="8.5" fill="#b03644" text-anchor="start" font-weight="normal" stroke="#b03644" stroke-width="0.15" textLength="47.40" lengthAdjust="spacingAndGlyphs">10% spike-in</text>
<text x="134.90" y="12.30" font-size="8.5" fill="#3e5f8f" text-anchor="start" font-weight="normal" stroke="#3e5f8f" stroke-width="0.15" textLength="42.50" lengthAdjust="spacingAndGlyphs">1% spike-in</text>
<text x="82.50" y="162.30" font-size="8.5" fill="#5fb88a" text-anchor="start" font-weight="normal" stroke="#5fb88a" stroke-width="0.12" textLength="54.60" lengthAdjust="spacingAndGlyphs">0.01% spike-in</text>
<rect x="216.50" y="15.30" width="206.80" height="137.90" fill="none" stroke="#dc9a80" stroke-width="1.1" />
<text x="293.60" y="12.30" font-size="8.5" fill="#dc7852" text-anchor="start" font-weight="normal" stroke="#dc7852" stroke-width="0.12" textLength="46.80" lengthAdjust="spacingAndGlyphs">10% spike-in</text>
<rect x="430.30" y="15.40" width="214.30" height="138.40" fill="none" stroke="#ecdca4" stroke-width="1.1" />
<text x="519.00" y="12.30" font-size="8.5" fill="#d0ac48" text-anchor="start" font-weight="normal" stroke="#d0ac48" stroke-width="0.12" textLength="46.40" lengthAdjust="spacingAndGlyphs">10% spike-in</text>
<rect x="441.20" y="25.00" width="199.40" height="125.10" fill="#fff" stroke="#8a8a8a" stroke-width="0.8" />
<text x="436.40" y="36.70" font-size="5.6" fill="#333" text-anchor="middle" font-weight="bold" >A</text>
<text x="436.40" y="51.90" font-size="5.6" fill="#333" text-anchor="middle" font-weight="bold" >B</text>
<text x="436.40" y="67.10" font-size="5.6" fill="#333" text-anchor="middle" font-weight="bold" >C</text>
<text x="436.40" y="82.30" font-size="5.6" fill="#333" text-anchor="middle" font-weight="bold" >D</text>
<text x="436.40" y="97.50" font-size="5.6" fill="#333" text-anchor="middle" font-weight="bold" >E</text>
<text x="436.40" y="112.70" font-size="5.6" fill="#333" text-anchor="middle" font-weight="bold" >F</text>
<text x="436.40" y="127.90" font-size="5.6" fill="#333" text-anchor="middle" font-weight="bold" >G</text>
<text x="436.40" y="143.10" font-size="5.6" fill="#333" text-anchor="middle" font-weight="bold" >H</text>
<text x="454.25" y="22.60" font-size="5.8" fill="#333" text-anchor="middle" font-weight="normal" >1</text>
<text x="470.05" y="22.60" font-size="5.8" fill="#333" text-anchor="middle" font-weight="normal" >2</text>
<text x="485.85" y="22.60" font-size="5.8" fill="#333" text-anchor="middle" font-weight="normal" >3</text>
<text x="501.65" y="22.60" font-size="5.8" fill="#333" text-anchor="middle" font-weight="normal" >4</text>
<text x="517.45" y="22.60" font-size="5.8" fill="#333" text-anchor="middle" font-weight="normal" >5</text>
<text x="533.25" y="22.60" font-size="5.8" fill="#333" text-anchor="middle" font-weight="normal" >6</text>
<text x="549.05" y="22.60" font-size="5.8" fill="#333" text-anchor="middle" font-weight="normal" >7</text>
<text x="564.85" y="22.60" font-size="5.8" fill="#333" text-anchor="middle" font-weight="normal" >8</text>
<text x="580.65" y="22.60" font-size="5.8" fill="#333" text-anchor="middle" font-weight="normal" >9</text>
<text x="596.45" y="22.60" font-size="5.8" fill="#333" text-anchor="middle" font-weight="normal" >10</text>
<text x="612.25" y="22.60" font-size="5.8" fill="#333" text-anchor="middle" font-weight="normal" >11</text>
<text x="628.05" y="22.60" font-size="5.8" fill="#333" text-anchor="middle" font-weight="normal" >12</text>
<rect x="447.90" y="28.40" width="12.70" height="12.60" fill="#5c9acb" stroke="#18232e" stroke-width="0.8" rx="0.35"/>
<rect x="463.70" y="28.40" width="12.70" height="12.60" fill="#568fbd" stroke="#18232e" stroke-width="0.8" rx="0.35"/>
<rect x="479.50" y="28.40" width="12.70" height="12.60" fill="#5a97c7" stroke="#18232e" stroke-width="0.8" rx="0.35"/>
<rect x="495.30" y="28.40" width="12.70" height="12.60" fill="#5995c4" stroke="#18232e" stroke-width="0.8" rx="0.35"/>
<rect x="511.10" y="28.40" width="12.70" height="12.60" fill="#5a97c7" stroke="#18232e" stroke-width="0.8" rx="0.35"/>
<rect x="526.90" y="28.40" width="12.70" height="12.60" fill="#548dba" stroke="#18232e" stroke-width="0.8" rx="0.35"/>
<rect x="542.70" y="28.40" width="12.70" height="12.60" fill="#5995c4" stroke="#18232e" stroke-width="0.8" rx="0.35"/>
<rect x="558.50" y="28.40" width="12.70" height="12.60" fill="#5792c1" stroke="#18232e" stroke-width="0.8" rx="0.35"/>
<rect x="574.30" y="28.40" width="12.70" height="12.60" fill="#5995c4" stroke="#18232e" stroke-width="0.8" rx="0.35"/>
<rect x="590.10" y="28.40" width="12.70" height="12.60" fill="#568fbd" stroke="#18232e" stroke-width="0.8" rx="0.35"/>
<rect x="605.90" y="28.40" width="12.70" height="12.60" fill="#5a97c7" stroke="#18232e" stroke-width="0.8" rx="0.35"/>
<rect x="621.70" y="28.40" width="12.70" height="12.60" fill="#5a97c7" stroke="#18232e" stroke-width="0.8" rx="0.35"/>
<rect x="447.90" y="43.60" width="12.70" height="12.60" fill="#5a97c7" stroke="#18232e" stroke-width="0.8" rx="0.35"/>
<rect x="463.70" y="43.60" width="12.70" height="12.60" fill="#4879a0" stroke="#18232e" stroke-width="0.8" rx="0.35"/>
<rect x="479.50" y="43.60" width="12.70" height="12.60" fill="#5995c4" stroke="#18232e" stroke-width="0.8" rx="0.35"/>
<rect x="495.30" y="43.60" width="12.70" height="12.60" fill="#5e9dce" stroke="#18232e" stroke-width="0.8" rx="0.35"/>
<rect x="511.10" y="43.60" width="12.70" height="12.60" fill="#5c9acb" stroke="#18232e" stroke-width="0.8" rx="0.35"/>
<rect x="526.90" y="43.60" width="12.70" height="12.60" fill="#5792c1" stroke="#18232e" stroke-width="0.8" rx="0.35"/>
<rect x="542.70" y="43.60" width="12.70" height="12.60" fill="#5995c4" stroke="#18232e" stroke-width="0.8" rx="0.35"/>
<rect x="558.50" y="43.60" width="12.70" height="12.60" fill="#5792c1" stroke="#18232e" stroke-width="0.8" rx="0.35"/>
<rect x="574.30" y="43.60" width="12.70" height="12.60" fill="#5a97c7" stroke="#18232e" stroke-width="0.8" rx="0.35"/>
<rect x="590.10" y="43.60" width="12.70" height="12.60" fill="#5792c1" stroke="#18232e" stroke-width="0.8" rx="0.35"/>
<rect x="605.90" y="43.60" width="12.70" height="12.60" fill="#5792c1" stroke="#18232e" stroke-width="0.8" rx="0.35"/>
<rect x="621.70" y="43.60" width="12.70" height="12.60" fill="#65aadf" stroke="#18232e" stroke-width="0.8" rx="0.35"/>
<rect x="447.90" y="58.80" width="12.70" height="12.60" fill="#5792c1" stroke="#18232e" stroke-width="0.8" rx="0.35"/>
<rect x="463.70" y="58.80" width="12.70" height="12.60" fill="#4879a0" stroke="#18232e" stroke-width="0.8" rx="0.35"/>
<rect x="479.50" y="58.80" width="12.70" height="12.60" fill="#548dba" stroke="#18232e" stroke-width="0.8" rx="0.35"/>
<rect x="495.30" y="58.80" width="12.70" height="12.60" fill="#4f85b0" stroke="#18232e" stroke-width="0.8" rx="0.35"/>
<rect x="511.10" y="58.80" width="12.70" height="12.60" fill="#568fbd" stroke="#18232e" stroke-width="0.8" rx="0.35"/>
<rect x="526.90" y="58.80" width="12.70" height="12.60" fill="#568fbd" stroke="#18232e" stroke-width="0.8" rx="0.35"/>
<rect x="542.70" y="58.80" width="12.70" height="12.60" fill="#5792c1" stroke="#18232e" stroke-width="0.8" rx="0.35"/>
<rect x="558.50" y="58.80" width="12.70" height="12.60" fill="#5792c1" stroke="#18232e" stroke-width="0.8" rx="0.35"/>
<rect x="574.30" y="58.80" width="12.70" height="12.60" fill="#5792c1" stroke="#18232e" stroke-width="0.8" rx="0.35"/>
<rect x="590.10" y="58.80" width="12.70" height="12.60" fill="#4f85b0" stroke="#18232e" stroke-width="0.8" rx="0.35"/>
<rect x="605.90" y="58.80" width="12.70" height="12.60" fill="#4e82ac" stroke="#18232e" stroke-width="0.8" rx="0.35"/>
<rect x="621.70" y="58.80" width="12.70" height="12.60" fill="#4f85b0" stroke="#18232e" stroke-width="0.8" rx="0.35"/>
<rect x="447.90" y="74.00" width="12.70" height="12.60" fill="#5188b3" stroke="#18232e" stroke-width="0.8" rx="0.35"/>
<rect x="463.70" y="74.00" width="12.70" height="12.60" fill="#4e82ac" stroke="#18232e" stroke-width="0.8" rx="0.35"/>
<rect x="479.50" y="74.00" width="12.70" height="12.60" fill="#4e82ac" stroke="#18232e" stroke-width="0.8" rx="0.35"/>
<rect x="495.30" y="74.00" width="12.70" height="12.60" fill="#4b7da5" stroke="#18232e" stroke-width="0.8" rx="0.35"/>
<rect x="511.10" y="74.00" width="12.70" height="12.60" fill="#4e82ac" stroke="#18232e" stroke-width="0.8" rx="0.35"/>
<rect x="526.90" y="74.00" width="12.70" height="12.60" fill="#4e82ac" stroke="#18232e" stroke-width="0.8" rx="0.35"/>
<rect x="542.70" y="74.00" width="12.70" height="12.60" fill="#4f85b0" stroke="#18232e" stroke-width="0.8" rx="0.35"/>
<rect x="558.50" y="74.00" width="12.70" height="12.60" fill="#4f85b0" stroke="#18232e" stroke-width="0.8" rx="0.35"/>
<rect x="574.30" y="74.00" width="12.70" height="12.60" fill="#4b7da5" stroke="#18232e" stroke-width="0.8" rx="0.35"/>
<rect x="590.10" y="74.00" width="12.70" height="12.60" fill="#4b7da5" stroke="#18232e" stroke-width="0.8" rx="0.35"/>
<rect x="605.90" y="74.00" width="12.70" height="12.60" fill="#4c80a9" stroke="#18232e" stroke-width="0.8" rx="0.35"/>
<rect x="621.70" y="74.00" width="12.70" height="12.60" fill="#4c80a9" stroke="#18232e" stroke-width="0.8" rx="0.35"/>
<rect x="447.90" y="89.20" width="12.70" height="12.60" fill="#5188b3" stroke="#18232e" stroke-width="0.8" rx="0.35"/>
<rect x="463.70" y="89.20" width="12.70" height="12.60" fill="#4f85b0" stroke="#18232e" stroke-width="0.8" rx="0.35"/>
<rect x="479.50" y="89.20" width="12.70" height="12.60" fill="#5188b3" stroke="#18232e" stroke-width="0.8" rx="0.35"/>
<rect x="495.30" y="89.20" width="12.70" height="12.60" fill="#4c80a9" stroke="#18232e" stroke-width="0.8" rx="0.35"/>
<rect x="511.10" y="89.20" width="12.70" height="12.60" fill="#5188b3" stroke="#18232e" stroke-width="0.8" rx="0.35"/>
<rect x="526.90" y="89.20" width="12.70" height="12.60" fill="#4e82ac" stroke="#18232e" stroke-width="0.8" rx="0.35"/>
<rect x="542.70" y="89.20" width="12.70" height="12.60" fill="#5086b1" stroke="#18232e" stroke-width="0.8" rx="0.35"/>
<rect x="558.50" y="89.20" width="12.70" height="12.60" fill="#4f85b0" stroke="#18232e" stroke-width="0.8" rx="0.35"/>
<rect x="574.30" y="89.20" width="12.70" height="12.60" fill="#5188b3" stroke="#18232e" stroke-width="0.8" rx="0.35"/>
<rect x="590.10" y="89.20" width="12.70" height="12.60" fill="#4f85b0" stroke="#18232e" stroke-width="0.8" rx="0.35"/>
<rect x="605.90" y="89.20" width="12.70" height="12.60" fill="#497aa2" stroke="#18232e" stroke-width="0.8" rx="0.35"/>
<rect x="621.70" y="89.20" width="12.70" height="12.60" fill="#4f85b0" stroke="#18232e" stroke-width="0.8" rx="0.35"/>
<rect x="447.90" y="104.40" width="12.70" height="12.60" fill="#5188b3" stroke="#18232e" stroke-width="0.8" rx="0.35"/>
<rect x="463.70" y="104.40" width="12.70" height="12.60" fill="#538ab6" stroke="#18232e" stroke-width="0.8" rx="0.35"/>
<rect x="479.50" y="104.40" width="12.70" height="12.60" fill="#5188b3" stroke="#18232e" stroke-width="0.8" rx="0.35"/>
<rect x="495.30" y="104.40" width="12.70" height="12.60" fill="#5188b3" stroke="#18232e" stroke-width="0.8" rx="0.35"/>
<rect x="511.10" y="104.40" width="12.70" height="12.60" fill="#5086b1" stroke="#18232e" stroke-width="0.8" rx="0.35"/>
<rect x="526.90" y="104.40" width="12.70" height="12.60" fill="#4f85b0" stroke="#18232e" stroke-width="0.8" rx="0.35"/>
<rect x="542.70" y="104.40" width="12.70" height="12.60" fill="#5188b3" stroke="#18232e" stroke-width="0.8" rx="0.35"/>
<rect x="558.50" y="104.40" width="12.70" height="12.60" fill="#4d81ab" stroke="#18232e" stroke-width="0.8" rx="0.35"/>
<rect x="574.30" y="104.40" width="12.70" height="12.60" fill="#4e82ac" stroke="#18232e" stroke-width="0.8" rx="0.35"/>
<rect x="590.10" y="104.40" width="12.70" height="12.60" fill="#4e82ac" stroke="#18232e" stroke-width="0.8" rx="0.35"/>
<rect x="605.90" y="104.40" width="12.70" height="12.60" fill="#4f85b0" stroke="#18232e" stroke-width="0.8" rx="0.35"/>
<rect x="621.70" y="104.40" width="12.70" height="12.60" fill="#4f85b0" stroke="#18232e" stroke-width="0.8" rx="0.35"/>
<rect x="447.90" y="119.60" width="12.70" height="12.60" fill="#5086b1" stroke="#18232e" stroke-width="0.8" rx="0.35"/>
<rect x="463.70" y="119.60" width="12.70" height="12.60" fill="#5289b5" stroke="#18232e" stroke-width="0.8" rx="0.35"/>
<rect x="479.50" y="119.60" width="12.70" height="12.60" fill="#4f84ae" stroke="#18232e" stroke-width="0.8" rx="0.35"/>
<rect x="495.30" y="119.60" width="12.70" height="12.60" fill="#4c80a9" stroke="#18232e" stroke-width="0.8" rx="0.35"/>
<rect x="511.10" y="119.60" width="12.70" height="12.60" fill="#5188b3" stroke="#18232e" stroke-width="0.8" rx="0.35"/>
<rect x="526.90" y="119.60" width="12.70" height="12.60" fill="#4b7da5" stroke="#18232e" stroke-width="0.8" rx="0.35"/>
<rect x="542.70" y="119.60" width="12.70" height="12.60" fill="#5086b1" stroke="#18232e" stroke-width="0.8" rx="0.35"/>
<rect x="558.50" y="119.60" width="12.70" height="12.60" fill="#4d81ab" stroke="#18232e" stroke-width="0.8" rx="0.35"/>
<rect x="574.30" y="119.60" width="12.70" height="12.60" fill="#4d81ab" stroke="#18232e" stroke-width="0.8" rx="0.35"/>
<rect x="590.10" y="119.60" width="12.70" height="12.60" fill="#22394f" stroke="#18232e" stroke-width="0.8" rx="0.35"/>
<rect x="605.90" y="119.60" width="12.70" height="12.60" fill="#4f84ae" stroke="#18232e" stroke-width="0.8" rx="0.35"/>
<rect x="621.70" y="119.60" width="12.70" height="12.60" fill="#5086b1" stroke="#18232e" stroke-width="0.8" rx="0.35"/>
<rect x="447.90" y="134.80" width="12.70" height="12.60" fill="#4f85b0" stroke="#18232e" stroke-width="0.8" rx="0.35"/>
<rect x="463.70" y="134.80" width="12.70" height="12.60" fill="#5289b5" stroke="#18232e" stroke-width="0.8" rx="0.35"/>
<rect x="479.50" y="134.80" width="12.70" height="12.60" fill="#4e82ac" stroke="#18232e" stroke-width="0.8" rx="0.35"/>
<rect x="495.30" y="134.80" width="12.70" height="12.60" fill="#4f85b0" stroke="#18232e" stroke-width="0.8" rx="0.35"/>
<rect x="511.10" y="134.80" width="12.70" height="12.60" fill="#5289b5" stroke="#18232e" stroke-width="0.8" rx="0.35"/>
<rect x="526.90" y="134.80" width="12.70" height="12.60" fill="#4b7da5" stroke="#18232e" stroke-width="0.8" rx="0.35"/>
<rect x="542.70" y="134.80" width="12.70" height="12.60" fill="#5792c1" stroke="#18232e" stroke-width="0.8" rx="0.35"/>
<rect x="558.50" y="134.80" width="12.70" height="12.60" fill="#253d54" stroke="#18232e" stroke-width="0.8" rx="0.35"/>
<rect x="574.30" y="134.80" width="12.70" height="12.60" fill="#4c80a9" stroke="#18232e" stroke-width="0.8" rx="0.35"/>
<rect x="590.10" y="134.80" width="12.70" height="12.60" fill="#243c52" stroke="#18232e" stroke-width="0.8" rx="0.35"/>
<rect x="605.90" y="134.80" width="12.70" height="12.60" fill="#4c80a9" stroke="#18232e" stroke-width="0.8" rx="0.35"/>
<rect x="621.70" y="134.80" width="12.70" height="12.60" fill="#fff" stroke="#ececec" stroke-width="0.6" />
<text x="651.00" y="57.00" font-size="7.0" fill="#222" text-anchor="start" font-weight="normal" >clones</text>
<defs><linearGradient id="cg" x1="0" y1="1" x2="0" y2="0"><stop offset="0" stop-color="#192c40"/><stop offset="0.5" stop-color="#3e6d97"/><stop offset="1" stop-color="#66acea"/></linearGradient></defs>
<rect x="650.00" y="61.00" width="12.30" height="60.80" fill="url(#cg)" stroke="none" stroke-width="1" />
<line x1="650.00" y1="65.00" x2="652.40" y2="65.00" stroke="#fff" stroke-width="0.5" />
<line x1="659.90" y1="65.00" x2="662.30" y2="65.00" stroke="#fff" stroke-width="0.5" />
<text x="664.50" y="67.30" font-size="6.7" fill="#333" text-anchor="start" font-weight="normal" >16000</text>
<line x1="650.00" y1="79.50" x2="652.40" y2="79.50" stroke="#fff" stroke-width="0.5" />
<line x1="659.90" y1="79.50" x2="662.30" y2="79.50" stroke="#fff" stroke-width="0.5" />
<text x="664.50" y="81.80" font-size="6.7" fill="#333" text-anchor="start" font-weight="normal" >12000</text>
<line x1="650.00" y1="93.80" x2="652.40" y2="93.80" stroke="#fff" stroke-width="0.5" />
<line x1="659.90" y1="93.80" x2="662.30" y2="93.80" stroke="#fff" stroke-width="0.5" />
<text x="664.50" y="96.10" font-size="6.7" fill="#333" text-anchor="start" font-weight="normal" >8000</text>
<line x1="650.00" y1="108.00" x2="652.40" y2="108.00" stroke="#fff" stroke-width="0.5" />
<line x1="659.90" y1="108.00" x2="662.30" y2="108.00" stroke="#fff" stroke-width="0.5" />
<text x="664.50" y="110.30" font-size="6.7" fill="#333" text-anchor="start" font-weight="normal" >4000</text>
<line x1="53.00" y1="308.30" x2="409.50" y2="308.30" stroke="#ebebeb" stroke-width="0.6" />
<text x="50.20" y="310.60" font-size="6.7" fill="#333" text-anchor="end" font-weight="normal" >0.00</text>
<line x1="53.00" y1="270.00" x2="409.50" y2="270.00" stroke="#ebebeb" stroke-width="0.6" />
<text x="50.20" y="272.30" font-size="6.7" fill="#333" text-anchor="end" font-weight="normal" >0.02</text>
<line x1="53.00" y1="231.70" x2="409.50" y2="231.70" stroke="#ebebeb" stroke-width="0.6" />
<text x="50.20" y="234.00" font-size="6.7" fill="#333" text-anchor="end" font-weight="normal" >0.04</text>
<line x1="53.00" y1="193.40" x2="409.50" y2="193.40" stroke="#ebebeb" stroke-width="0.6" />
<text x="50.20" y="195.70" font-size="6.7" fill="#333" text-anchor="end" font-weight="normal" >0.06</text>
<line x1="80.80" y1="174.50" x2="80.80" y2="313.00" stroke="#ebebeb" stroke-width="0.6" />
<line x1="185.90" y1="174.50" x2="185.90" y2="313.00" stroke="#ebebeb" stroke-width="0.6" />
<line x1="291.00" y1="174.50" x2="291.00" y2="313.00" stroke="#ebebeb" stroke-width="0.6" />
<line x1="312.02" y1="174.50" x2="312.02" y2="313.00" stroke="#ebebeb" stroke-width="0.6" />
<line x1="333.04" y1="174.50" x2="333.04" y2="313.00" stroke="#ebebeb" stroke-width="0.6" />
<line x1="354.06" y1="174.50" x2="354.06" y2="313.00" stroke="#ebebeb" stroke-width="0.6" />
<line x1="375.08" y1="174.50" x2="375.08" y2="313.00" stroke="#ebebeb" stroke-width="0.6" />
<line x1="389.79" y1="174.50" x2="389.79" y2="313.00" stroke="#ebebeb" stroke-width="0.6" />
<path d="M 67.40 308.30 C 72.83 308.25 92.07 308.25 100.00 308.00 C 107.93 307.75 110.00 307.55 115.00 306.80 C 120.00 306.05 125.50 304.53 130.00 303.50 C 134.50 302.47 137.33 301.58 142.00 300.60 C 146.67 299.62 153.00 298.93 158.00 297.60 C 163.00 296.27 167.33 294.87 172.00 292.60 C 176.67 290.33 181.67 286.27 186.00 284.00 C 190.33 281.73 194.00 280.20 198.00 279.00 C 202.00 277.80 205.33 277.20 210.00 276.80 C 214.67 276.40 220.67 276.50 226.00 276.60 C 231.33 276.70 237.33 276.58 242.00 277.40 C 246.67 278.22 250.00 280.02 254.00 281.50 C 258.00 282.98 261.50 284.62 266.00 286.30 C 270.50 287.98 275.17 289.75 281.00 291.60 C 286.83 293.45 294.50 295.58 301.00 297.40 C 307.50 299.22 314.33 301.07 320.00 302.50 C 325.67 303.93 330.00 305.12 335.00 306.00 C 340.00 306.88 345.00 307.42 350.00 307.80 C 355.00 308.18 362.50 308.22 365.00 308.30  L 365.00 308.30 L 67.40 308.30 Z" fill="#e8835f" fill-opacity="0.66" stroke="#e8835f" stroke-width="0.3"/>
<path d="M 300.00 308.30 C 303.33 308.17 314.17 308.22 320.00 307.50 C 325.83 306.78 331.33 305.92 335.00 304.00 C 338.67 302.08 340.00 300.83 342.00 296.00 C 344.00 291.17 345.58 283.50 347.00 275.00 C 348.42 266.50 349.50 253.83 350.50 245.00 C 351.50 236.17 352.28 228.17 353.00 222.00 C 353.72 215.83 354.22 212.17 354.80 208.00 C 355.38 203.83 355.83 200.50 356.50 197.00 C 357.17 193.50 358.02 189.62 358.80 187.00 C 359.58 184.38 360.37 181.72 361.20 181.30 C 362.03 180.88 362.87 182.80 363.80 184.50 C 364.73 186.20 365.85 188.92 366.80 191.50 C 367.75 194.08 368.70 196.92 369.50 200.00 C 370.30 203.08 370.88 206.00 371.60 210.00 C 372.32 214.00 373.07 219.00 373.80 224.00 C 374.53 229.00 375.13 233.67 376.00 240.00 C 376.87 246.33 378.08 255.17 379.00 262.00 C 379.92 268.83 380.67 275.33 381.50 281.00 C 382.33 286.67 382.92 292.00 384.00 296.00 C 385.08 300.00 386.67 302.95 388.00 305.00 C 389.33 307.05 391.33 307.75 392.00 308.30  L 392.00 308.30 L 300.00 308.30 Z" fill="#ea6a62" fill-opacity="0.6" stroke="#b02a3a" stroke-width="0.7"/>
<path d="M 298.00 308.30 C 300.33 308.17 308.33 308.22 312.00 307.50 C 315.67 306.78 317.67 306.08 320.00 304.00 C 322.33 301.92 324.17 299.33 326.00 295.00 C 327.83 290.67 329.50 284.33 331.00 278.00 C 332.50 271.67 333.67 264.00 335.00 257.00 C 336.33 250.00 337.75 242.33 339.00 236.00 C 340.25 229.67 341.33 223.17 342.50 219.00 C 343.67 214.83 344.75 212.75 346.00 211.00 C 347.25 209.25 348.83 209.17 350.00 208.50 C 351.17 207.83 352.00 207.67 353.00 207.00 C 354.00 206.33 355.08 203.83 356.00 204.50 C 356.92 205.17 357.50 207.92 358.50 211.00 C 359.50 214.08 360.75 219.00 362.00 223.00 C 363.25 227.00 364.58 230.83 366.00 235.00 C 367.42 239.17 369.08 244.17 370.50 248.00 C 371.92 251.83 373.15 254.58 374.50 258.00 C 375.85 261.42 377.32 264.83 378.60 268.50 C 379.88 272.17 380.90 276.28 382.20 280.00 C 383.50 283.72 385.07 287.80 386.40 290.80 C 387.73 293.80 389.07 296.10 390.20 298.00 C 391.33 299.90 392.67 300.48 393.20 302.20 C 393.73 303.92 393.37 307.28 393.40 308.30  L 393.40 308.30 L 298.00 308.30 Z" fill="#4f8fb5" fill-opacity="0.65" stroke="#2f5f80" stroke-width="0.6"/>
<path d="M 246.00 308.30 C 248.00 308.05 254.17 307.80 258.00 306.80 C 261.83 305.80 265.17 304.85 269.00 302.30 C 272.83 299.75 277.33 295.30 281.00 291.50 C 284.67 287.70 288.00 282.92 291.00 279.50 C 294.00 276.08 296.50 274.25 299.00 271.00 C 301.50 267.75 303.50 263.67 306.00 260.00 C 308.50 256.33 311.33 251.92 314.00 249.00 C 316.67 246.08 319.83 243.80 322.00 242.50 C 324.17 241.20 325.33 241.12 327.00 241.20 C 328.67 241.28 330.67 241.70 332.00 243.00 C 333.33 244.30 334.42 245.83 335.00 249.00 C 335.58 252.17 335.83 257.33 335.50 262.00 C 335.17 266.67 334.25 272.17 333.00 277.00 C 331.75 281.83 329.83 287.00 328.00 291.00 C 326.17 295.00 324.33 298.50 322.00 301.00 C 319.67 303.50 317.67 304.78 314.00 306.00 C 310.33 307.22 302.33 307.92 300.00 308.30  L 300.00 308.30 L 246.00 308.30 Z" fill="#5fc493" fill-opacity="0.66" stroke="#3f8f6a" stroke-width="0.5"/>
<path d="M 292.00 308.30 C 294.67 308.20 303.83 308.25 308.00 307.70 C 312.17 307.15 314.50 306.53 317.00 305.00 C 319.50 303.47 321.17 301.67 323.00 298.50 C 324.83 295.33 326.50 290.75 328.00 286.00 C 329.50 281.25 330.75 275.83 332.00 270.00 C 333.25 264.17 334.25 257.33 335.50 251.00 C 336.75 244.67 337.92 237.17 339.50 232.00 C 341.08 226.83 343.08 222.67 345.00 220.00 C 346.92 217.33 349.25 217.00 351.00 216.00 C 352.75 215.00 354.00 213.75 355.50 214.00 C 357.00 214.25 358.58 215.50 360.00 217.50 C 361.42 219.50 362.60 223.08 364.00 226.00 C 365.40 228.92 367.07 231.83 368.40 235.00 C 369.73 238.17 370.82 241.50 372.00 245.00 C 373.18 248.50 374.43 252.08 375.50 256.00 C 376.57 259.92 377.32 264.50 378.40 268.50 C 379.48 272.50 380.70 276.28 382.00 280.00 C 383.30 283.72 384.87 287.80 386.20 290.80 C 387.53 293.80 388.87 296.13 390.00 298.00 C 391.13 299.87 392.47 300.28 393.00 302.00 C 393.53 303.72 393.17 307.25 393.20 308.30  L 393.20 308.30 L 292.00 308.30 Z" fill="#efd66c" fill-opacity="0.64" stroke="#d8b84a" stroke-width="0.4"/>
<line x1="334.30" y1="174.80" x2="334.30" y2="313.00" stroke="#dc7f62" stroke-width="0.8" stroke-dasharray="2.4,1.5"/>
<line x1="343.55" y1="174.80" x2="343.55" y2="313.00" stroke="#6a94a8" stroke-width="0.8" stroke-dasharray="2.4,1.5"/>
<line x1="380.76" y1="174.80" x2="380.76" y2="313.00" stroke="#dc7f62" stroke-width="0.8" stroke-dasharray="2.4,1.5"/>
<line x1="388.11" y1="174.80" x2="388.11" y2="313.00" stroke="#6a94a8" stroke-width="0.8" stroke-dasharray="2.4,1.5"/>
<text x="80.80" y="322.80" font-size="6.7" fill="#333" text-anchor="middle" font-weight="normal" >−150</text>
<text x="185.90" y="322.80" font-size="6.7" fill="#333" text-anchor="middle" font-weight="normal" >−100</text>
<text x="291.00" y="322.80" font-size="6.7" fill="#333" text-anchor="middle" font-weight="normal" >−50</text>
<text x="312.02" y="322.80" font-size="6.7" fill="#333" text-anchor="middle" font-weight="normal" >−40</text>
<text x="333.04" y="322.80" font-size="6.7" fill="#333" text-anchor="middle" font-weight="normal" >−30</text>
<text x="354.06" y="322.80" font-size="6.7" fill="#333" text-anchor="middle" font-weight="normal" >−20</text>
<text x="375.08" y="322.80" font-size="6.7" fill="#333" text-anchor="middle" font-weight="normal" >−10</text>
<text x="389.79" y="322.80" font-size="6.7" fill="#333" text-anchor="middle" font-weight="normal" >−3</text>
<text x="194.3" y="332.4" font-size="8.6" fill="#111" letter-spacing="-0.17">Log<tspan font-size="4.6" dy="1.9">10</tspan><tspan dy="-1.9"> (Adjusted p-value)</tspan></text>
<text transform="translate(31.1,258.5) rotate(-90)" font-size="8.6" fill="#111" text-anchor="middle">Density</text>
<text x="42.00" y="354.30" font-size="8.0" fill="#111" text-anchor="start" font-weight="normal" >Data source</text>
<rect x="93.30" y="346.40" width="10.60" height="10.40" fill="#f0a688" stroke="#e08a6a" stroke-width="0.8" />
<text x="106.70" y="354.00" font-size="7.0" fill="#222" text-anchor="start" font-weight="normal" >10% (384w)</text>
<rect x="147.40" y="346.40" width="10.60" height="10.40" fill="#f2aaa8" stroke="#b83a48" stroke-width="0.8" />
<text x="160.80" y="354.00" font-size="7.0" fill="#222" text-anchor="start" font-weight="normal" >10% (96w)</text>
<rect x="201.10" y="346.40" width="10.60" height="10.40" fill="#8dbbd3" stroke="#5a8aa8" stroke-width="0.8" />
<text x="214.50" y="354.00" font-size="7.0" fill="#222" text-anchor="start" font-weight="normal" >1% (96w)</text>
<rect x="254.10" y="346.40" width="10.60" height="10.40" fill="#9bd9b8" stroke="#7cc49e" stroke-width="0.8" />
<text x="267.50" y="354.00" font-size="7.0" fill="#222" text-anchor="start" font-weight="normal" >0.01% (168w)</text>
<rect x="316.60" y="346.40" width="10.60" height="10.40" fill="#f2e2a0" stroke="#e3cf80" stroke-width="0.8" />
<text x="330.00" y="354.00" font-size="7.0" fill="#222" text-anchor="start" font-weight="normal" >10% (96w, manual)</text>
<text x="499.30" y="335.80" font-size="6.7" fill="#333" text-anchor="end" font-weight="normal" >0</text>
<line x1="500.80" y1="333.50" x2="503.00" y2="333.50" stroke="#c8c8c8" stroke-width="0.5" />
<text x="499.30" y="295.60" font-size="6.7" fill="#333" text-anchor="end" font-weight="normal" >4000</text>
<line x1="500.80" y1="293.30" x2="503.00" y2="293.30" stroke="#c8c8c8" stroke-width="0.5" />
<text x="499.30" y="255.40" font-size="6.7" fill="#333" text-anchor="end" font-weight="normal" >8000</text>
<line x1="500.80" y1="253.10" x2="503.00" y2="253.10" stroke="#c8c8c8" stroke-width="0.5" />
<text x="499.30" y="215.20" font-size="6.7" fill="#333" text-anchor="end" font-weight="normal" >12000</text>
<line x1="500.80" y1="212.90" x2="503.00" y2="212.90" stroke="#c8c8c8" stroke-width="0.5" />
<text x="499.30" y="175.00" font-size="6.7" fill="#333" text-anchor="end" font-weight="normal" >16000</text>
<line x1="500.80" y1="172.70" x2="503.00" y2="172.70" stroke="#c8c8c8" stroke-width="0.5" />
<text transform="translate(477.4,251.9) rotate(-90)" font-size="8.3" fill="#111" text-anchor="middle">Number of unique α/β pairs</text>
<rect x="503.30" y="160.00" width="48.40" height="12.20" fill="#d9d9d9" stroke="none" stroke-width="1" />
<text x="527.50" y="168.30" font-size="6.6" fill="#1a1a1a" text-anchor="middle" font-weight="normal"  textLength="43.40" lengthAdjust="spacingAndGlyphs">automated 96w</text>
<rect x="503.60" y="172.20" width="47.80" height="162.30" fill="none" stroke="#d0d0d0" stroke-width="0.6" />
<rect x="555.00" y="160.00" width="49.40" height="12.20" fill="#d9d9d9" stroke="none" stroke-width="1" />
<text x="579.70" y="168.30" font-size="6.6" fill="#1a1a1a" text-anchor="middle" font-weight="normal"  textLength="34.20" lengthAdjust="spacingAndGlyphs">manual 96w</text>
<rect x="555.30" y="172.20" width="48.80" height="162.30" fill="none" stroke="#d0d0d0" stroke-width="0.6" />
<rect x="506.30" y="249.32" width="20.00" height="84.18" fill="#e8784b" stroke="none" stroke-width="1" />
<rect x="506.30" y="206.45" width="20.00" height="42.87" fill="#3c8fb8" stroke="none" stroke-width="1" />
<rect x="506.30" y="199.92" width="20.00" height="6.53" fill="#5fba87" stroke="none" stroke-width="1" />
<text x="516.30" y="293.31" font-size="5.1" fill="#111" text-anchor="middle" font-weight="normal" stroke="#111" stroke-width="0.18">8376</text>
<text x="516.30" y="229.78" font-size="5.1" fill="#111" text-anchor="middle" font-weight="normal" stroke="#111" stroke-width="0.18">4266</text>
<text x="516.30" y="205.08" font-size="5.1" fill="#111" text-anchor="middle" font-weight="normal" stroke="#111" stroke-width="0.18">650</text>
<text x="516.30" y="342.30" font-size="6.6" fill="#444" text-anchor="middle" font-weight="normal" >1e−10</text>
<rect x="528.50" y="270.25" width="19.50" height="63.25" fill="#e8784b" stroke="none" stroke-width="1" />
<rect x="528.50" y="206.16" width="19.50" height="64.09" fill="#3c8fb8" stroke="none" stroke-width="1" />
<rect x="528.50" y="196.47" width="19.50" height="9.69" fill="#5fba87" stroke="none" stroke-width="1" />
<text x="538.25" y="303.77" font-size="5.1" fill="#111" text-anchor="middle" font-weight="normal" stroke="#111" stroke-width="0.18">6294</text>
<text x="538.25" y="240.10" font-size="5.1" fill="#111" text-anchor="middle" font-weight="normal" stroke="#111" stroke-width="0.18">6377</text>
<text x="538.25" y="203.21" font-size="5.1" fill="#111" text-anchor="middle" font-weight="normal" stroke="#111" stroke-width="0.18">964</text>
<text x="538.25" y="342.30" font-size="6.6" fill="#444" text-anchor="middle" font-weight="normal" >1e−3</text>
<rect x="558.40" y="246.96" width="20.50" height="86.54" fill="#e8784b" stroke="none" stroke-width="1" />
<rect x="558.40" y="183.72" width="20.50" height="63.23" fill="#3c8fb8" stroke="none" stroke-width="1" />
<rect x="558.40" y="179.98" width="20.50" height="3.75" fill="#5fba87" stroke="none" stroke-width="1" />
<text x="568.65" y="292.13" font-size="5.1" fill="#111" text-anchor="middle" font-weight="normal" stroke="#111" stroke-width="0.18">8611</text>
<text x="568.65" y="217.24" font-size="5.1" fill="#111" text-anchor="middle" font-weight="normal" stroke="#111" stroke-width="0.18">6292</text>
<text x="568.65" y="183.75" font-size="5.1" fill="#111" text-anchor="middle" font-weight="normal" stroke="#111" stroke-width="0.18">373</text>
<text x="568.65" y="342.30" font-size="6.6" fill="#444" text-anchor="middle" font-weight="normal" >1e−10</text>
<rect x="580.80" y="270.42" width="19.80" height="63.08" fill="#e8784b" stroke="none" stroke-width="1" />
<rect x="580.80" y="183.72" width="19.80" height="86.69" fill="#3c8fb8" stroke="none" stroke-width="1" />
<rect x="580.80" y="177.34" width="19.80" height="6.38" fill="#5fba87" stroke="none" stroke-width="1" />
<text x="590.70" y="303.86" font-size="5.1" fill="#111" text-anchor="middle" font-weight="normal" stroke="#111" stroke-width="0.18">6277</text>
<text x="590.70" y="228.97" font-size="5.1" fill="#111" text-anchor="middle" font-weight="normal" stroke="#111" stroke-width="0.18">8626</text>
<text x="590.70" y="182.43" font-size="5.1" fill="#111" text-anchor="middle" font-weight="normal" stroke="#111" stroke-width="0.18">635</text>
<text x="590.70" y="342.30" font-size="6.6" fill="#444" text-anchor="middle" font-weight="normal" >1e−3</text>
<text x="502.60" y="353.40" font-size="8.6" fill="#111" text-anchor="start" font-weight="normal"  textLength="103.40" lengthAdjust="spacingAndGlyphs">T−SHELL p−value threshold</text>
<text x="615.00" y="235.60" font-size="7.2" fill="#111" text-anchor="start" font-weight="normal"  textLength="29.80" lengthAdjust="spacingAndGlyphs">Algorithm</text>
<rect x="615.60" y="241.20" width="11.20" height="11.20" fill="#5fba87" stroke="none" stroke-width="1" />
<text x="630.80" y="248.60" font-size="6.8" fill="#111" text-anchor="start" font-weight="normal" >T−SHELL</text>
<rect x="615.60" y="253.00" width="11.20" height="11.20" fill="#3c8fb8" stroke="none" stroke-width="1" />
<text x="630.80" y="261.30" font-size="6.8" fill="#111" text-anchor="start" font-weight="normal" >both</text>
<rect x="615.60" y="265.30" width="11.20" height="11.20" fill="#e8784b" stroke="none" stroke-width="1" />
<text x="630.80" y="273.10" font-size="6.8" fill="#111" text-anchor="start" font-weight="normal" >MADHYPE</text>
</svg></body></html>
